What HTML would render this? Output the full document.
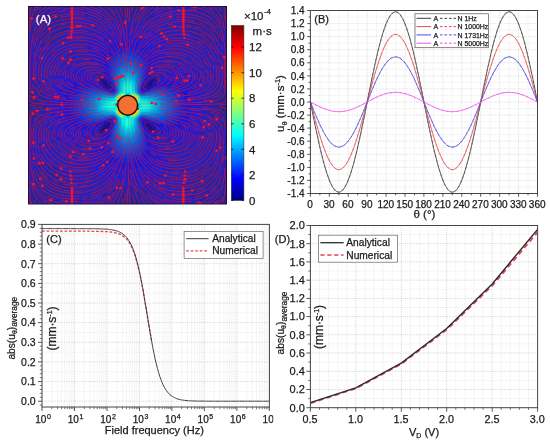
<!DOCTYPE html>
<html lang="en"><head><meta charset="utf-8"><title>Figure</title>
<style>html,body{margin:0;padding:0;background:#fff}svg{display:block}text{font-family:"Liberation Sans",Arial,sans-serif;fill:#1a1a1a;stroke:#1a1a1a;stroke-width:0.25px}</style></head>
<body>
<svg width="550" height="441" viewBox="0 0 550 441">
<rect width="550" height="441" fill="#fff"/>
<defs>
<clipPath id="cA"><rect x="28.5" y="6.5" width="198" height="197.5"/></clipPath>
<linearGradient id="jet" x1="0" y1="1" x2="0" y2="0"><stop offset="0%" stop-color="#00007f"/><stop offset="2.5%" stop-color="#000099"/><stop offset="5%" stop-color="#0000b2"/><stop offset="7.5%" stop-color="#0000cc"/><stop offset="10%" stop-color="#0000e5"/><stop offset="12.5%" stop-color="#0000ff"/><stop offset="15%" stop-color="#0019ff"/><stop offset="17.5%" stop-color="#0032ff"/><stop offset="20%" stop-color="#004cff"/><stop offset="22.5%" stop-color="#0065ff"/><stop offset="25%" stop-color="#007fff"/><stop offset="27.5%" stop-color="#0099ff"/><stop offset="30%" stop-color="#00b2ff"/><stop offset="32.5%" stop-color="#00ccff"/><stop offset="35%" stop-color="#00e5ff"/><stop offset="37.5%" stop-color="#00ffff"/><stop offset="40%" stop-color="#19ffe5"/><stop offset="42.5%" stop-color="#32ffcc"/><stop offset="45%" stop-color="#4cffb2"/><stop offset="47.5%" stop-color="#65ff99"/><stop offset="50%" stop-color="#7fff7f"/><stop offset="52.5%" stop-color="#99ff65"/><stop offset="55%" stop-color="#b2ff4c"/><stop offset="57.5%" stop-color="#cbff33"/><stop offset="60%" stop-color="#e5ff19"/><stop offset="62.5%" stop-color="#ffff00"/><stop offset="65%" stop-color="#ffe500"/><stop offset="67.5%" stop-color="#ffcb00"/><stop offset="70%" stop-color="#ffb200"/><stop offset="72.5%" stop-color="#ff9900"/><stop offset="75%" stop-color="#ff7f00"/><stop offset="77.5%" stop-color="#ff6500"/><stop offset="80%" stop-color="#ff4c00"/><stop offset="82.5%" stop-color="#ff3300"/><stop offset="85%" stop-color="#ff1900"/><stop offset="87.5%" stop-color="#ff0000"/><stop offset="90%" stop-color="#e50000"/><stop offset="92.5%" stop-color="#cb0000"/><stop offset="95%" stop-color="#b20000"/><stop offset="97.5%" stop-color="#990000"/><stop offset="100%" stop-color="#7f0000"/></linearGradient>
<filter id="bl" x="-5%" y="-5%" width="110%" height="110%"><feGaussianBlur stdDeviation="0.55"/></filter>
<filter id="bl2" x="-50%" y="-50%" width="200%" height="200%"><feGaussianBlur stdDeviation="1.3"/></filter>
<clipPath id="cB"><rect x="310.4" y="10.5" width="227.1" height="183"/></clipPath>
<clipPath id="cC"><rect x="42" y="224.4" width="227.4" height="182.6"/></clipPath>
<clipPath id="cD"><rect x="310.4" y="225.5" width="227.2" height="182"/></clipPath>
</defs>
<g clip-path="url(#cA)"><g filter="url(#bl)">
<rect x="26" y="4" width="203" height="203" fill="#0000a0"/>
<path d="M125 6.5L130.6 6.5L129.5 7.2L127.5 7.5L126 7.2L124.8 6.5ZM106 83.5L107.5 84.3L109 86.3L108.5 86.5L107.5 85.9L105.9 83.8ZM149 83.5L149.5 83.7L149.3 84.3L147 86.5L146.5 86.5L146.6 85.8L148.5 83.8ZM28.6 102.3L29.5 103.3L29.9 105.2L29.5 107.2L28.5 108.4L28.5 102.2ZM226.5 102.4L226.5 108.2L225.9 107.2L225.6 105.7L225.6 104.3L226.2 102.8ZM108.5 124.1L109 124.2L108.5 125.2L106.5 127L106 127.1L106.2 126.2L108.3 124.2ZM146.5 124.1L148 124.8L149.5 126.8L149 127.1L148 126.4L146.9 125.2L146.4 124.2ZM126 203.4L128.5 203.2L130.5 204L124.9 204L125.8 203.5Z" fill="#19157f" stroke="#19157f" stroke-width="0.6"/>
<path d="M29 6.5L32.7 6.5L36.2 8.5L38.7 11L39.7 13L39.7 15L38.5 16.7L36.5 17.4L35 17.2L33.5 16.4L31 13.9L28.5 9.4L28.5 6.5ZM117.5 6.7L117.8 6.5L124.8 6.5L126 7.2L128 7.4L129.5 7.2L130.6 6.5L137.6 6.5L138.7 7.5L139.2 9L138.7 10.5L137.3 12L134.5 13.5L131 14.5L127 14.7L123 14.2L119.5 12.9L117.1 11L116.2 9L116.5 8L117.2 7ZM222 6.9L222.7 6.5L226.5 6.5L226.5 10.3L224 14.4L222.5 16L221 16.9L219 17.4L217 16.8L215.9 15.5L215.6 13.5L216.3 11.5L217.5 10L219.2 8.5L221.7 7ZM103.5 80.6L105.5 81.5L108 83.8L109.9 86.3L110.2 87.3L110 87.8L108 87L105.4 84.8L103.4 82.3L103.2 80.8ZM105.9 83.8L107.5 85.9L108.5 86.5L109 86.3L107.5 84.3L106 83.5ZM151.5 80.7L152.2 80.8L152.3 81.3L151.3 83.3L148.4 86.3L146 87.8L145.4 87.8L145.2 87.3L146.2 85.3L148.5 82.7L151.2 80.8ZM148.5 83.8L146.6 85.8L146.5 86.5L147 86.5L149.3 84.3L149.5 83.7L149 83.5ZM30 94.3L31 93.9L32 93.9L34 95.3L35.9 98.3L36.9 102.3L37.1 106.2L36.5 110.2L35.2 113.7L33.5 115.9L32 116.7L31 116.7L29.5 115.9L28.5 114.6L28.5 108.4L29.5 107.2L29.9 105.2L29.5 103.3L28.5 102.2L28.5 96L30 94.3ZM223 94.1L224 93.8L225 94L226.5 95.4L226.5 102.4L225.8 103.8L225.5 105.2L225.7 106.7L226.5 108.2L226.5 115.2L225 116.6L224 116.8L223 116.5L220.9 114.7L219.3 111.7L218.4 107.7L218.3 103.8L219 99.8L220.5 96.4L222.6 94.3ZM109 123L110 122.8L110.2 123.2L109.3 125.2L107 127.8L104.5 129.7L103.5 129.9L103.1 129.7L103.5 128.2L105.5 125.7L108.6 123.2ZM108.3 124.2L106.2 126.2L106 127.1L106.5 127L108.5 125.2L109 124.2L108.5 124.1ZM145.5 122.8L147.5 123.6L149.9 125.7L151.9 128.2L152.3 129.7L152 129.9L151 129.7L148.5 127.9L146.1 125.2L145.2 123.2ZM146.4 124.2L146.9 125.2L148 126.4L149 127.1L149.5 126.8L148 124.8L146.5 124.1ZM35 193.4L37 193.2L38.7 194L39.6 195.5L39.7 197.5L38.8 199.5L37.5 201L35.6 202.5L32.9 204L28.5 204L28.5 201.2L30 198.2L31.5 196L33 194.5L34.7 193.5ZM218 193.3L219.5 193.2L221 193.7L222.5 194.6L224 196.2L226.5 200.3L226.5 204L222.5 204L219.1 202L217 200L216 198.5L215.6 196.5L216 195L217.5 193.5ZM125.5 196L128.5 195.9L131.5 196.2L134 196.9L136.5 198L138.3 199.5L139.1 201L139 202.5L137.8 204L130.5 204L129 203.3L127.5 203.1L126 203.4L124.9 204L117.6 204L116.7 203L116.3 202L116.3 201L117.1 199.5L118.5 198.3L120.5 197.2L125 196Z" fill="#2a2393" stroke="#2a2393" stroke-width="0.6"/>
<path d="M33 6.5L41.6 6.5L50.3 8.5L56.5 10.5L61.1 12.5L64.3 14.5L66.8 17L68.1 19.5L68.4 21.5L68.4 23.5L67.2 27.9L64.9 32.9L61.6 37.4L58 40.7L53.5 43.5L48.5 45.4L44.5 46.1L42.5 45.9L40.5 45.1L38.5 43.7L37 42.1L34 36.9L31.5 30L28.5 17.1L28.5 9.4L30 12.4L31.5 14.6L33 16.1L34.5 17L36.5 17.4L38.1 17L39.5 15.5L39.8 14L39.3 12L37.9 10L35.4 8L32.7 6.5ZM109.5 6.9L110.5 6.5L117.8 6.5L116.7 7.5L116.2 9L116.7 10.5L118 11.9L119.6 13L122 13.9L127.5 14.8L133 14.1L135.5 13.1L137.3 12L138.7 10.5L139.2 9L138.7 7.5L137.6 6.5L144.9 6.5L147.6 7.5L150.5 9L152.3 10.5L153.2 12L153.4 14L152.5 15.7L150.6 17.5L147.5 19.2L144 20.5L136 22.3L126.5 22.8L117.4 22L109.5 19.9L106.4 18.5L104.2 17L102.7 15.5L101.9 13.5L102.4 11.5L103.6 10L105.7 8.5L109 7ZM211.5 7L213.8 6.5L222.7 6.5L218.6 9L217 10.5L216.1 12L215.6 13.5L215.7 15L216.6 16.5L218 17.3L220 17.3L222.5 16L224.5 13.8L226.5 10.3L226.5 19.2L224.5 27.9L222 35.5L220 39.6L217.5 43.1L215 45.1L212.5 45.9L209 45.9L204.5 44.6L199.5 42.1L195.5 39.1L192.5 35.9L189.7 31.4L187.7 26.4L187 22.5L187.2 20L188.2 17.5L189.9 15.5L192.6 13.5L196.4 11.5L200.2 10L211.3 7ZM98 75.7L99 75.4L101 76.2L105.5 79.9L110.3 85.8L111.3 87.8L111.1 88.8L110 88.8L108 87.8L102.5 83.3L98.7 78.8L97.8 76.8L97.9 75.8ZM103.2 80.8L103.4 82.3L105.4 84.8L108 87L110 87.8L110.2 87.3L109.9 86.3L108 83.8L105.5 81.5L103.5 80.6ZM155.5 75.7L157 75.5L157.6 76.3L157.2 77.8L156 79.8L151.3 84.8L148.2 87.3L146 88.6L144.5 88.9L144.1 88.3L144.5 86.8L146 84.4L150.5 79.3L153 77.1L155.1 75.8ZM151.2 80.8L148.5 82.7L146.2 85.3L145.2 87.3L145.4 87.8L146 87.8L148.4 86.3L151.3 83.3L152.3 81.3L152.2 80.8L151.5 80.7ZM34.5 79.7L36.5 79.6L38 80.4L39.8 82.3L41.5 85.3L42.9 88.8L44 93.1L45.1 102.3L44.9 111.7L44.3 116.2L43.2 120.7L42 124.2L40.5 127.2L39 129.3L37 130.8L35.5 131.1L34.5 130.9L32.5 129.5L30.5 126.5L28.5 121.1L28.5 114.6L29.5 115.9L31 116.7L32 116.7L33.5 115.9L34.5 114.7L35.7 112.7L36.9 108.2L37.1 104.8L36.9 101.8L36.1 98.8L34.8 96.3L33 94.4L31.5 93.8L30 94.3L28.5 96L28.5 89.5L29.5 86.4L31.5 82.4L33 80.6L34.3 79.8ZM218.5 79.8L220 79.5L221 79.8L223 81.2L225 84.3L226.5 88.1L226.5 95.4L225.5 94.3L224.5 93.9L223 94.1L221.9 94.8L220.6 96.3L219.5 98.3L218.4 102.8L218.3 106.2L218.6 109.2L219.3 111.7L220.5 114.2L222 115.9L223.5 116.7L225 116.6L226.5 115.2L226.5 122.5L226 124L225 126.3L223.5 128.8L222.5 129.9L221 130.8L219 131L217.5 130.3L215.5 128.2L214 125.6L212.7 122.2L211.5 118L210.3 108.7L210.5 99.3L211.1 94.8L212.1 90.3L213.4 86.3L215 83.2L216.5 81.2L218.4 79.8ZM110.5 121.7L111 121.7L111.3 122.2L110.9 123.7L107.5 128.6L102.5 133.4L100.5 134.7L99 135.2L98 134.9L97.9 133.7L98.8 131.7L100.3 129.7L103.1 126.7L106 124.2L108.5 122.5L110.3 121.7ZM108.6 123.2L105.5 125.7L103.5 128.2L103.1 129.7L103.5 129.9L104.5 129.7L107 127.8L109.3 125.2L110.2 123.2L110 122.8L109 123ZM144.5 121.7L146 122L148.5 123.5L154.3 128.7L156.3 131.2L157.4 133.2L157.5 134.7L157 135.2L155.5 134.9L153.5 133.8L149 129.8L144.7 124.2L144.1 122.7L144.5 121.7ZM145.2 123.2L146.1 125.2L148.5 127.9L151 129.7L152 129.9L152.3 129.7L151.9 128.2L149.9 125.7L147.5 123.6L145.5 122.8ZM43.5 164.6L47.5 164.9L52 166.4L56.5 168.8L60.6 172.1L63.5 175.6L66.1 180.1L68 185L68.4 189L68 191.5L66.9 193.5L65.1 195.5L62.2 197.5L58.1 199.5L54 201L42.1 204L32.9 204L35.6 202.5L37.5 201L38.8 199.5L39.6 198L39.8 196.5L39.4 195L38.5 193.9L37 193.2L35 193.4L32.5 195L30.5 197.4L28.5 201.2L28.5 193.5L31.5 180.6L33 176.2L35 171.7L37 168.5L39 166.4L41 165.2L43.4 164.6ZM210 164.6L212 164.6L214 165.1L216 166.1L217.5 167.5L220.5 171.9L223.5 179.3L226.5 191.4L226.5 200.3L225 197.6L223.5 195.6L222 194.2L220.5 193.5L218.5 193.2L217 193.8L216 195L215.6 196.5L216 198.5L217.4 200.5L219.8 202.5L222.5 204L213.3 204L204.7 202L198.6 200L194.1 198L191 196L188.5 193.5L187.3 191L187 187.5L188 183.1L190.3 178.1L193.4 173.6L197 170.2L201 167.6L205.5 165.6L209.9 164.6ZM122.5 188L130.5 187.9L138.5 188.7L145.4 190.5L150.4 193L152.2 194.5L153.2 196L153.5 197.5L153 199L151.9 200.5L150.6 201.5L147.9 203L145.2 204L137.8 204L138.7 203L139.2 201.5L138.6 200L137.8 199L136 197.7L134 196.9L129 195.9L126 195.9L123 196.4L120.5 197.2L118.5 198.3L117.1 199.5L116.3 201L116.4 202.5L117.6 204L110.2 204L107.5 203L104.8 201.5L102.7 199.5L101.9 197.5L102.5 195.5L104.3 193.5L107.5 191.6L111.5 190L116.5 188.8L122.1 188Z" fill="#2822a6" stroke="#2822a6" stroke-width="0.6"/>
<path d="M42 6.5L53.6 6.5L71 8.2L80.5 8.6L89 8.2L101.3 6.5L110.5 6.5L105.7 8.5L102.7 11L102.2 12L101.9 13.5L102.4 15L103.6 16.5L107.4 19L113 21L120 22.3L127.5 22.8L135 22.4L142 21.1L148 19L151.8 16.5L152.7 15.5L153.4 14L153.4 12.5L152.7 11L149.7 8.5L144.9 6.5L154.1 6.5L166.5 8.2L175 8.6L184.5 8.2L201.8 6.5L213.8 6.5L203.3 9L198.9 10.5L194.3 12.5L191.1 14.5L189 16.5L187.7 18.5L187 21L187.3 25L188.8 29.4L191.1 33.9L194 37.7L197.5 40.8L201.5 43.3L206 45.2L210 46L213 45.8L215.5 44.8L217.5 43.1L219.5 40.5L221.5 36.6L223.5 31.3L226.5 19.2L226.5 31.2L224.8 48.4L224.4 57.9L224.8 66.8L226.5 78.9L226.5 88.1L224.5 83.3L222 80.3L220.5 79.6L219 79.6L217.5 80.3L216.5 81.2L214 85L211.9 90.8L210.6 97.8L210.2 105.2L210.6 112.7L211.9 119.7L214 125.6L216.5 129.4L217.5 130.3L219 131L220.5 131L222 130.3L224.5 127.3L226.5 122.5L226.5 131.7L224.8 144.2L224.4 152.6L224.8 162.1L226.5 179.4L226.5 191.4L224 180.9L222.5 176.4L220.5 171.9L218.5 168.7L216.5 166.5L214.5 165.3L212 164.6L208.5 164.8L204 166.2L199.5 168.5L195.5 171.5L192.2 175.1L189.8 179.1L187.9 183.6L187 187.5L187.1 190.5L188.2 193L189.8 195L192.4 197L196.2 199L201.4 201L213.3 204L200.8 204L184 202.3L175 202L166.5 202.4L154.8 204L145.2 204L149.8 202L152.7 199.5L153.4 198L153.4 196.5L152.6 195L151.7 194L147.8 191.5L142 189.5L135 188.2L127.5 187.8L120 188.3L113.2 189.5L107.6 191.5L103.7 194L102.5 195.5L102 196.7L102 198L102.7 199.5L105.6 202L110.2 204L100.6 204L88.5 202.3L80.5 202L71.5 202.3L54.6 204L42.1 204L52.4 201.5L56.8 200L61.3 198L64.4 196L66.5 194L67.8 192L68.4 189.5L68.2 186L66.8 181.6L64.5 177L61.5 173L58 169.9L54 167.4L49 165.3L45 164.6L42.5 164.7L40 165.7L37.5 167.9L35.5 170.8L33.5 174.9L31.5 180.6L28.5 193.5L28.5 183.4L30.6 162.1L31 152.6L30.6 144.2L28.5 129L28.5 121.1L30.5 126.5L33 130L34 130.7L35.5 131.1L37 130.8L38.5 129.8L41.1 126.2L43.4 120.2L44.7 113.2L45.2 105.2L44.7 97.3L43.3 90.3L41 84.3L38.5 80.8L37 79.8L35.5 79.5L34 79.9L33 80.6L30.5 84.1L28.5 89.5L28.5 81.6L30.6 66.8L31 57.9L30.6 48.4L28.5 27.2L28.5 17.1L31 28.3L32.5 33.1L34.5 37.9L36.5 41.4L38.5 43.7L40.5 45.1L43 45.9L47 45.8L51.5 44.4L56 42.1L60 39.1L63 35.8L65.7 31.4L67.6 26.9L68.4 23L68.2 20L67.2 17.5L65.5 15.5L62.8 13.5L59 11.5L53.7 9.5L41.6 6.5ZM115.5 30.4L109 31L104 31.8L99.5 33.2L96 35.1L93 37.6L90.7 40.9L89.2 44.4L88.6 48.4L88.6 51.4L89.1 53.9L91.2 59.4L94.6 64.4L104.5 76.6L109.5 83.3L112 87.6L112.3 88.8L112 89.6L111 89.9L110 89.6L106 87.3L99.2 82.3L86 71.6L82.5 69.2L79.5 67.7L75.5 66.5L71 66.2L66.5 66.9L62.5 68.7L59.3 71.3L56.7 74.8L54.8 79.3L53.6 84.8L52.8 93.3L52.6 105.7L52.9 117.7L53.7 126.2L54.6 130.7L55.9 134.2L57.6 137.2L60 140L63 142.2L66 143.5L69.5 144.3L73.5 144.4L78 143.4L83 141.1L87.5 137.9L98.7 128.7L105.4 123.7L110 121L111 120.7L112 121L112.3 121.7L111.9 123.2L109.5 127.3L104.5 134L94.3 146.6L91.9 150.1L90.3 153.1L89 157.1L88.5 161.1L89 165.1L90.1 168.6L92.2 172.1L95.3 175.1L99 177.2L104 178.8L110 179.7L117.5 180.2L129 180.4L139.5 180.2L146 179.7L151.5 178.8L156 177.3L159.3 175.6L162.5 172.8L164.8 169.6L166.2 166.1L166.8 162.1L166.8 159.1L166.2 156.1L163.8 150.6L160.8 146.1L151.5 134.8L146 127.5L143.5 123.2L143.2 121.2L144 120.7L145 120.9L149.3 123.2L156.7 128.7L169.5 139.1L173 141.4L176 142.9L180.5 144.2L184.5 144.4L189 143.6L193 141.8L196.2 139.2L198.7 135.7L200.6 131.2L201.8 125.7L202.6 117.2L202.8 104.8L202.5 92.8L201.7 84.3L200.7 79.8L199.5 76.3L197.7 73.3L195.5 70.7L192.5 68.5L189.5 67.1L186 66.3L182 66.2L177.5 67.1L172.5 69.5L168 72.7L156.8 81.8L150.2 86.8L146 89.3L144.5 89.9L143.5 89.7L143.1 88.8L143.3 87.8L145.5 83.9L150.5 77.1L161.2 63.9L163.6 60.4L165.2 57.4L166.5 53.4L166.9 49.4L166.4 45.4L165.2 41.9L163.1 38.4L160 35.5L156 33.3L151.5 31.8L145.5 30.9L138 30.4L126.5 30.2L116 30.4ZM97.9 75.8L97.8 76.8L98.7 78.8L102.5 83.3L108 87.8L110 88.8L111.1 88.8L111.3 87.8L110.3 85.8L105.5 79.9L101 76.2L99 75.4L98 75.7ZM155.1 75.8L153 77.1L150.5 79.3L146 84.4L144.5 86.8L144.1 88.3L144.5 88.9L146 88.6L148.2 87.3L151.3 84.8L156 79.8L157.2 77.8L157.6 76.3L157 75.5L155.5 75.7ZM110.3 121.7L108.5 122.5L106 124.2L103.1 126.7L100.3 129.7L98.8 131.7L97.9 133.7L98 134.9L99 135.2L100.5 134.7L102.5 133.4L107.5 128.6L110.9 123.7L111.3 122.2L111 121.7L110.5 121.7ZM144.5 121.7L144.1 122.7L144.7 124.2L149 129.8L153.5 133.8L155.5 134.9L157 135.2L157.5 134.7L157.4 133.2L156.3 131.2L154.3 128.7L148.5 123.5L146 122L144.5 121.7ZM118 105.1L118.2 105.2L118 105.5L117.8 105.2Z" fill="#2620b9" stroke="#2620b9" stroke-width="0.6"/>
<path d="M54 6.5L101.3 6.5L89 8.2L80.5 8.6L71 8.2L53.6 6.5ZM154.5 6.5L201.8 6.5L184.5 8.2L175 8.6L166.5 8.2L154.1 6.5ZM28.5 27.4L30.6 48.4L31 57.9L30.6 66.8L28.5 81.6L28.9 56.4L28.5 27.2ZM116 30.4L126.5 30.2L138 30.4L145.5 30.9L151.5 31.8L156 33.3L160 35.5L163.1 38.4L165.2 41.9L166.4 45.4L166.9 49.4L166.5 53.4L165.2 57.4L163.6 60.4L161.2 63.9L150.5 77.1L145.5 83.9L143.3 87.8L143.1 88.8L143.5 89.7L144.5 89.9L146 89.3L150.2 86.8L156.8 81.8L168 72.7L172.5 69.5L177.5 67.1L182 66.2L186 66.3L189.5 67.1L192.5 68.5L195.5 70.7L197.7 73.3L199.5 76.3L200.7 79.8L201.7 84.3L202.5 92.8L202.8 104.8L202.6 117.2L201.8 125.7L200.6 131.2L198.7 135.7L196.2 139.2L193 141.8L189 143.6L184.5 144.4L180.5 144.2L176 142.9L173 141.4L169.5 139.1L156.7 128.7L149.3 123.2L145 120.9L144 120.7L143.2 121.2L143.5 123.2L146 127.5L151.5 134.8L160.8 146.1L163.8 150.6L166.2 156.1L166.8 159.1L166.8 162.1L166.2 166.1L164.8 169.6L162.5 172.8L159.3 175.6L156 177.3L151.5 178.8L146 179.7L139.5 180.2L129 180.4L117.5 180.2L110 179.7L104 178.8L99 177.2L95.3 175.1L92.2 172.1L90.1 168.6L89 165.1L88.5 161.1L89 157.1L90.3 153.1L91.9 150.1L94.3 146.6L104.5 134L109.5 127.3L111.9 123.2L112.3 121.7L112 121L111 120.7L110 121L105.4 123.7L98.7 128.7L87.5 137.9L83 141.1L78 143.4L73.5 144.4L69.5 144.3L66 143.5L63 142.2L60 140L57.6 137.2L55.9 134.2L54.6 130.7L53.7 126.2L52.9 117.7L52.6 105.7L52.8 93.3L53.6 84.8L54.8 79.3L56.7 74.8L59.3 71.3L62.5 68.7L66.5 66.9L71 66.2L75.5 66.5L79.5 67.7L82.5 69.2L86 71.6L99.2 82.3L106 87.3L110 89.6L111 89.9L112 89.6L112.3 88.8L112 87.6L109.5 83.3L104.5 76.6L94.6 64.4L91.2 59.4L89.1 53.9L88.6 51.4L88.6 48.4L89.2 44.4L90.7 40.9L93 37.6L96 35.1L99.5 33.2L104 31.8L109 31L115.5 30.4ZM122.2 36.9L117.5 37.6L113 38.7L109.5 40L106.2 41.9L103.5 44.2L101.5 46.8L100 49.9L99.2 52.9L99 55.9L99.1 58.9L100.8 65.4L104.2 72.8L112.4 86.8L113.1 88.8L112.9 90.3L111.5 90.7L109 89.9L94.5 81.5L90 79.3L86 77.8L82 76.9L78.5 76.6L75 76.9L72 77.7L68.9 79.3L65.9 81.8L63.7 84.8L61.7 88.8L60.4 93.3L59.4 98.8L59.1 104.3L59.3 110.2L59.8 114.7L60.8 119.2L62.3 123.2L64 126.3L66 128.8L68.7 131.2L71.5 132.7L75 133.7L78 134L81 133.9L87.5 132.3L95 128.9L109 120.7L111.5 119.9L112.8 120.2L113.1 121.7L112.4 123.7L103.8 138.7L101.6 143.2L100.2 147.1L99.2 151.1L99 154.6L99.3 158.1L100.1 161.1L102 164.5L104.5 167.3L107.7 169.6L111.5 171.4L116 172.7L121.5 173.6L127 173.9L133 173.7L138 173L142 172L145.8 170.6L149 168.8L151.7 166.6L153.7 164.1L155.3 161.1L156.1 158.1L156.4 155.1L156.3 152.1L154.7 145.6L151.4 138.2L143 123.7L142.3 121.7L142.6 120.2L144 119.9L146.3 120.7L161.5 129.5L169.5 132.8L173 133.7L176.5 134L180 133.8L183 133.1L186 131.6L189.1 129.2L191.5 126.1L193.5 122.2L195 117.7L195.9 112.7L196.3 106.7L196.2 100.8L195.6 95.8L194.5 91.3L193 87.3L191.4 84.3L189 81.3L186.5 79.3L183.5 77.7L180.5 76.9L177.5 76.6L174.5 76.7L168 78.3L160.5 81.7L146.5 89.8L144 90.7L142.5 90.3L142.3 88.8L143 86.8L151.7 71.8L155.1 63.9L156.1 59.9L156.4 56.4L156.2 52.9L155.4 49.9L154 46.9L151.5 43.8L148.4 41.4L144.4 39.4L140 38L134.5 37.1L128.5 36.7L122.5 36.9ZM226.5 31.2L226.5 78.9L224.8 66.8L224.4 57.9L224.8 48.4L226.5 31.4ZM127.5 95.5L128 95.8L127.4 95.8ZM118 105L118.3 105.2L118 105.6L117.7 105.2ZM117.8 105.2L118 105.5L118.2 105.2L118 105.1ZM137.5 105.1L137.5 105.5L137.1 105.2ZM28.5 129.2L30.6 144.2L31 152.6L30.6 162.1L28.5 183.4L28.9 154.1L28.5 129ZM226.5 131.7L226.5 179.4L224.8 162.1L224.4 152.6L224.8 144.2L226.4 132.2ZM78 202L88 202.3L100.6 204L54.6 204L68 202.6L77.5 202ZM172.5 202L183 202.3L200.8 204L154.8 204L164 202.7L172.4 202Z" fill="#231dcb" stroke="#231dcb" stroke-width="0.6"/>
<path d="M122.5 36.9L128.5 36.7L134.5 37.1L140 38L144.4 39.4L148.4 41.4L151.5 43.8L154 46.9L155.4 49.9L156.2 52.9L156.4 56.4L156.1 59.9L155.1 63.9L151.7 71.8L143 86.8L142.3 88.8L142.5 90.3L144 90.7L146.5 89.8L160.5 81.7L168 78.3L174.5 76.7L177.5 76.6L180.5 76.9L183.5 77.7L186.5 79.3L189 81.3L191.4 84.3L193 87.3L194.5 91.3L195.6 95.8L196.2 100.8L196.3 106.7L195.9 112.7L195 117.7L193.5 122.2L191.5 126.1L189.1 129.2L186 131.6L183 133.1L180 133.8L176.5 134L173 133.7L169.5 132.8L161.5 129.5L146.3 120.7L144 119.9L142.6 120.2L142.3 121.7L143 123.7L151.4 138.2L154.7 145.6L156.3 152.1L156.4 155.1L156.1 158.1L155.3 161.1L153.7 164.1L151.7 166.6L149 168.8L145.8 170.6L142 172L138 173L133 173.7L127 173.9L121.5 173.6L116 172.7L111.5 171.4L107.7 169.6L104.5 167.3L102 164.5L100.1 161.1L99.3 158.1L99 154.6L99.2 151.1L100.2 147.1L101.6 143.2L103.8 138.7L112.4 123.7L113.1 121.7L112.8 120.2L111.5 119.9L109 120.7L95 128.9L87.5 132.3L81 133.9L78 134L75 133.7L71.5 132.7L68.7 131.2L66 128.8L64 126.3L62.3 123.2L60.8 119.2L59.8 114.7L59.3 110.2L59.1 104.3L59.4 98.8L60.4 93.3L61.7 88.8L63.7 84.8L65.9 81.8L68.9 79.3L72 77.7L75 76.9L78.5 76.6L82 76.9L86 77.8L90 79.3L94.5 81.5L109 89.9L111.5 90.7L112.9 90.3L113.1 88.8L112.4 86.8L104.2 72.8L100.8 65.4L99.1 58.9L99 55.9L99.2 52.9L100 49.9L101.5 46.8L103.5 44.2L106.2 41.9L109.5 40L113 38.7L117.5 37.6L122.2 36.9ZM125.8 42.4L122 42.8L118.5 43.6L115 44.9L112 46.5L109.5 48.4L107.3 50.9L105.8 53.4L104.7 56.4L104.1 61.9L105 68.3L107.4 75.3L113.5 87.8L113.9 89.8L113.5 91L112 91.5L110 91L98 85.1L90.5 82.5L84 81.7L81 81.9L78 82.5L75 83.8L72.5 85.5L70.2 87.8L68.2 90.8L66.6 94.3L65.6 97.8L64.9 101.8L64.8 106.2L65.1 110.2L65.9 114.2L67.1 117.7L68.7 120.7L70.6 123.2L73 125.5L75.5 127.1L78.5 128.2L84 128.9L90.5 128.1L98 125.5L110 119.6L112 119.1L113.5 119.6L113.9 120.7L113.5 122.7L107.5 135.2L104.9 142.7L104.1 149.1L104.3 152.1L105 155.1L106.3 158.1L108 160.6L110.5 163L113.5 165L117 166.5L121 167.6L125 168.1L129.5 168.2L133.5 167.8L137 167L140.5 165.7L143.5 164.1L146 162.1L148.2 159.6L149.6 157.1L150.7 154.1L151.3 148.6L150.4 142.2L147.7 134.7L142 123L141.5 120.7L142 119.5L143.5 119.1L145.5 119.7L157.5 125.5L165 128.1L171.5 128.9L174.5 128.7L177.5 128L180.5 126.7L183 125L185.3 122.7L187.3 119.7L188.9 116.2L189.9 112.7L190.5 108.7L190.6 104.3L190.3 100.3L189.5 96.3L188.2 92.8L186.6 89.8L184.5 87L182 84.8L179.5 83.4L176.5 82.3L171 81.7L164.5 82.6L157.5 85.1L145.5 90.9L143.5 91.5L142 91.1L141.5 89.8L141.9 87.8L148 75.3L150.5 67.8L151.3 61.4L151.1 58.4L150.4 55.4L149.1 52.4L147.3 49.9L145 47.6L142 45.6L138.5 44.1L134.5 43L130.5 42.5L126 42.4ZM28.5 42.4L28.9 56.9L28.5 69.4L28.5 42.3ZM127.5 95.4L128.1 95.8L127.3 95.8ZM127.4 95.8L128 95.8L127.5 95.5ZM118 104.9L118.4 105.2L118 105.7L117.7 105.2ZM117.7 105.2L118 105.6L118.3 105.2L118 105ZM137 105.2L137.5 105L137.7 105.2L137.5 105.6L137 105.2ZM137.1 105.2L137.5 105.5L137.5 105.1ZM127.5 114.6L128 114.7L127.8 115.2L127.4 115.2L127.4 114.7ZM28.5 141.7L28.9 154.1L28.5 168.3L28.5 141.2Z" fill="#201bd1" stroke="#201bd1" stroke-width="0.6"/>
<path d="M126 42.4L130.5 42.5L134.5 43L138.5 44.1L142 45.6L145 47.6L147.3 49.9L149.1 52.4L150.4 55.4L151.1 58.4L151.3 61.4L150.5 67.8L148 75.3L141.9 87.8L141.5 89.8L142 91.1L143.5 91.5L145.5 90.9L157.5 85.1L164.5 82.6L171 81.7L176.5 82.3L179.5 83.4L182 84.8L184.5 87L186.6 89.8L188.2 92.8L189.5 96.3L190.3 100.3L190.6 104.3L190.5 108.7L189.9 112.7L188.9 116.2L187.3 119.7L185.3 122.7L183 125L180.5 126.7L177.5 128L174.5 128.7L171.5 128.9L165 128.1L157.5 125.5L145.5 119.7L143.5 119.1L142 119.5L141.5 120.7L142 123L147.7 134.7L150.4 142.2L151.3 148.6L150.7 154.1L149.6 157.1L148.2 159.6L146 162.1L143.5 164.1L140.5 165.7L137 167L133.5 167.8L129.5 168.2L125 168.1L121 167.6L117 166.5L113.5 165L110.5 163L108 160.6L106.3 158.1L105 155.1L104.3 152.1L104.1 149.1L104.9 142.7L107.5 135.2L113.5 122.7L113.9 120.7L113.5 119.6L112 119.1L110 119.6L98 125.5L90.5 128.1L84 128.9L78.5 128.2L75.5 127.1L73 125.5L70.6 123.2L68.7 120.7L67.1 117.7L65.9 114.2L65.1 110.2L64.8 106.2L64.9 101.8L65.6 97.8L66.6 94.3L68.2 90.8L70.2 87.8L72.5 85.5L75 83.8L78 82.5L81 81.9L84 81.7L90.5 82.5L98 85.1L110 91L112 91.5L113.5 91L113.9 89.8L113.5 87.8L107.4 75.3L105 68.3L104.1 61.9L104.7 56.4L105.8 53.4L107.3 50.9L109.5 48.4L112 46.5L115 44.9L118.5 43.6L122 42.8L125.8 42.4ZM126.3 47.4L123 47.8L120 48.5L117 49.8L114.5 51.3L112.5 52.9L110.5 55.3L109 57.9L108.1 60.4L107.4 65.4L107.9 70.8L109.7 77.3L114.3 88.3L114.6 90.3L114 91.6L112.5 92.2L110.5 91.8L99.5 87.2L93 85.4L87 85L82 86L79 87.3L76.8 88.8L74.7 90.8L72.9 93.3L71.4 96.3L70.5 99.3L69.9 102.3L69.8 105.7L70.1 109.2L70.7 112.2L71.8 115.2L73.5 118.2L75.5 120.7L77.5 122.4L80 123.8L82.5 124.8L87.5 125.6L93 125.2L99.5 123.4L110.7 118.7L112.5 118.4L114 119L114.6 120.2L114.3 122.2L109.7 133.2L107.8 140.2L107.4 146.1L108.4 151.1L109.7 154.1L111.5 156.6L113.5 158.6L116 160.3L119 161.7L122 162.6L125.5 163.2L129 163.2L132.5 162.8L135.5 162L138.5 160.8L141 159.3L143 157.6L145 155.2L146.4 152.6L147.3 150.1L148 145.1L147.5 139.7L145.7 133.2L141.1 122.2L140.8 120.2L141.5 118.9L143 118.4L144.7 118.7L155.5 123.2L162 125.1L168 125.6L173.2 124.7L176 123.5L178.5 121.9L180.5 120L182.3 117.7L183.8 114.7L184.8 111.7L185.5 108.2L185.6 104.8L185.3 101.3L184.7 98.3L183.6 95.3L182 92.5L180.2 90.3L178 88.3L175.5 86.8L173 85.8L168 85L162 85.5L155.5 87.4L145 91.8L143 92.2L141.5 91.7L140.8 90.3L141.1 88.3L145.7 77.3L147.6 70.3L148 64.4L147 59.4L145.6 56.4L144 54.1L142 52.1L139.5 50.4L136.5 48.9L133.5 48L130 47.5L126.5 47.4ZM127.5 95.2L128 95.3L128 95.9L127.2 95.8L127.4 95.3ZM127.3 95.8L128.1 95.8L127.5 95.4ZM118 104.8L118.5 105.3L118 105.7L117.6 105.2ZM117.7 105.2L118 105.7L118.4 105.2L118 104.9ZM137 105.1L137.5 104.9L137.8 105.2L137.5 105.7L136.9 105.2ZM137 105.2L137.5 105.6L137.7 105.2L137.5 105L137 105.2ZM127.5 114.6L128.1 114.7L128 115.3L127.5 115.4L127.3 114.7ZM127.4 114.7L127.4 115.2L127.8 115.2L128 114.7L127.5 114.6Z" fill="#1d18d2" stroke="#1d18d2" stroke-width="0.6"/>
<path d="M126.5 47.4L130 47.5L133.5 48L136.5 48.9L139.5 50.4L142 52.1L144 54.1L145.6 56.4L147 59.4L148 64.4L147.6 70.3L145.7 77.3L141.1 88.3L140.8 90.3L141.5 91.7L143 92.2L145 91.8L155.5 87.4L162 85.5L168 85L173 85.8L175.5 86.8L178 88.3L180.2 90.3L182 92.5L183.6 95.3L184.7 98.3L185.3 101.3L185.6 104.8L185.5 108.2L184.8 111.7L183.8 114.7L182.3 117.7L180.5 120L178.5 121.9L176 123.5L173.2 124.7L168 125.6L162 125.1L155.5 123.2L144.7 118.7L143 118.4L141.5 118.9L140.8 120.2L141.1 122.2L145.7 133.2L147.5 139.7L148 145.1L147.3 150.1L146.4 152.6L145 155.2L143 157.6L141 159.3L138.5 160.8L135.5 162L132.5 162.8L129 163.2L125.5 163.2L122 162.6L119 161.7L116 160.3L113.5 158.6L111.5 156.6L109.7 154.1L108.4 151.1L107.4 146.1L107.8 140.2L109.7 133.2L114.3 122.2L114.6 120.2L114 119L112.5 118.4L110.7 118.7L99.5 123.4L93 125.2L87.5 125.6L82.5 124.8L80 123.8L77.5 122.4L75.5 120.7L73.5 118.2L71.8 115.2L70.7 112.2L70.1 109.2L69.8 105.7L69.9 102.3L70.5 99.3L71.4 96.3L72.9 93.3L74.7 90.8L76.8 88.8L79 87.3L82 86L87 85L93 85.4L99.5 87.2L110.5 91.8L112.5 92.2L114 91.6L114.6 90.3L114.3 88.3L109.7 77.3L107.9 70.8L107.4 65.4L108.1 60.4L109 57.9L110.5 55.3L112.5 52.9L114.5 51.3L117 49.8L120 48.5L123 47.8L126.3 47.4ZM125.6 51.9L120.5 53.1L116 55.7L114.2 57.4L112.6 59.4L110.6 63.9L109.9 68.3L110.1 72.8L111.5 78.8L115 88.8L115.2 90.8L114.5 92.2L113.2 92.8L111.5 92.7L101 89L95 87.7L90 87.6L85.5 88.5L83 89.5L80.5 91.2L78.5 93.1L77 95.1L75.6 97.8L74.8 100.3L74.3 103.3L74.2 106.2L75.2 111.7L76.3 114.2L77.9 116.7L79.7 118.7L81.5 120.2L86 122.3L90.5 123.1L95.5 122.8L101.5 121.4L111 118L113 117.8L114.5 118.4L115.2 119.7L115.1 121.7L111.4 132.2L110.1 138.2L110 143.7L111.1 148.1L112.3 150.6L114 153L116 154.9L118 156.3L120.5 157.5L123.5 158.4L126.5 158.8L129.5 158.7L132.5 158.3L135 157.5L139.5 154.8L142.8 151.1L144.8 146.6L145.5 142.2L145.3 137.7L143.9 131.7L140.3 121.7L140.2 119.7L141 118.3L142.5 117.8L144 117.9L154 121.5L160 122.9L165.5 123L170 122.1L172.5 121L174.5 119.7L176.5 118L178.3 115.7L179.6 113.2L180.5 110.7L181.1 107.7L181.2 104.8L180.3 99.3L179.3 96.8L177.8 94.3L176.2 92.3L174 90.5L169.5 88.3L165 87.5L160 87.7L154 89.1L144 92.7L142.2 92.8L141 92.3L140.2 90.8L140.4 88.8L144.1 78.3L145.3 72.3L145.4 66.8L144.3 62.4L143.1 59.9L141.5 57.7L139.6 55.9L137.5 54.4L135 53.1L132 52.2L129 51.8L126 51.9ZM127.5 95.1L128.1 95.3L128 96L127.5 96.1L127.2 95.8L127.3 95.3ZM127.4 95.3L127.2 95.8L128 95.9L128 95.3L127.5 95.2ZM117.5 105.2L118 104.8L118.5 105.4L118 105.9L117.5 105.2ZM117.6 105.2L118 105.7L118.5 105.2L118 104.8ZM137 105L137.5 104.8L137.9 105.2L137.7 105.7L137 105.6L136.8 105.2ZM136.9 105.2L137.5 105.7L137.8 105.2L137.5 104.9L137 105.1ZM127.5 114.5L128.2 114.7L128 115.4L127.5 115.5L127.2 114.7ZM127.3 114.7L127.5 115.4L128 115.3L128.1 114.7L127.5 114.6Z" fill="#1a21d4" stroke="#1a21d4" stroke-width="0.6"/>
<path d="M126 51.9L129 51.8L132 52.2L135 53.1L137.5 54.4L139.6 55.9L141.5 57.7L143.1 59.9L144.3 62.4L145.4 66.8L145.3 72.3L144.1 78.3L140.4 88.8L140.2 90.8L141 92.3L142.2 92.8L144 92.7L154 89.1L160 87.7L165 87.5L169.5 88.3L174 90.5L176.2 92.3L177.8 94.3L179.3 96.8L180.3 99.3L181.2 104.8L181.1 107.7L180.5 110.7L179.6 113.2L178.3 115.7L176.5 118L174.5 119.7L172.5 121L170 122.1L165.5 123L160 122.9L154 121.5L144 117.9L142.5 117.8L141 118.3L140.2 119.7L140.3 121.7L143.9 131.7L145.3 137.7L145.5 142.2L144.8 146.6L142.8 151.1L139.5 154.8L135 157.5L132.5 158.3L129.5 158.7L126.5 158.8L123.5 158.4L120.5 157.5L118 156.3L116 154.9L114 153L112.3 150.6L111.1 148.1L110 143.7L110.1 138.2L111.4 132.2L115.1 121.7L115.2 119.7L114.5 118.4L113 117.8L111 118L101.5 121.4L95.5 122.8L90.5 123.1L86 122.3L81.5 120.2L79.7 118.7L77.9 116.7L76.3 114.2L75.2 111.7L74.2 106.2L74.3 103.3L74.8 100.3L75.6 97.8L77 95.1L78.5 93.1L80.5 91.2L83 89.5L85.5 88.5L90 87.6L95 87.7L101 89L111.5 92.7L113.2 92.8L114.5 92.2L115.2 90.8L115 88.8L111.5 78.8L110.1 72.8L109.9 68.3L110.6 63.9L112.6 59.4L114.2 57.4L116 55.7L120.5 53.1L125.6 51.9ZM125.5 55.9L121 57.1L117.4 59.4L114.5 62.7L112.6 66.8L111.9 70.8L112 74.8L112.9 79.8L115.7 89.3L115.7 91.3L115 92.6L113.5 93.4L111.5 93.3L102 90.4L96.5 89.5L92 89.6L88 90.6L85.6 91.8L83.5 93.3L80.5 96.8L78.6 101.3L78.2 106.2L79.2 111.2L81.5 115.2L84.6 118.2L88.7 120.2L92.5 121L97 121L102.5 120L111.5 117.3L113.5 117.2L115 118L115.7 119.2L115.8 121.2L112.8 131.2L111.9 136.7L112.1 141.7L113.3 145.6L114.5 147.9L116 149.9L118 151.7L120 153L122.5 154.1L125 154.7L130 154.7L134.5 153.4L138.1 151.1L141 147.8L142.8 143.7L143.4 140.2L143.4 136.2L142.5 130.7L139.6 121.2L139.7 119.2L140.5 117.9L142 117.2L144 117.3L153 120.1L158.5 121L163 121L167 120.1L169.5 119L171.4 117.7L174.7 114.2L176.7 109.7L177.3 104.8L176.3 99.8L174.2 95.8L171 92.6L168.9 91.3L166.5 90.3L162.5 89.5L158.5 89.6L153 90.5L144 93.3L142 93.4L140.5 92.7L139.7 91.3L139.7 89.3L142.6 79.3L143.5 73.8L143.3 69.3L142.3 65.4L141 62.9L139.5 60.9L135.9 57.9L133.5 56.8L131 56.1L128.5 55.7L125.5 55.9ZM127.5 95L128.2 95.3L128 96.1L127.5 96.2L127.1 95.8L127.2 95.3ZM127.3 95.3L127.2 95.8L127.5 96.1L128 96L128.1 95.3L127.5 95.1ZM118 104.7L118.6 105.2L118 105.9L117.5 105.7L117.4 105.2L117.7 104.8ZM117.5 105.2L118 105.9L118.5 105.4L118 104.8L117.5 105.2ZM137.5 104.7L138 105.2L137.5 105.9L137 105.8L136.8 105.2L137.3 104.8ZM136.8 105.2L137 105.6L137.7 105.7L137.9 105.2L137.5 104.8L137 105ZM127.5 114.4L128.3 114.7L128 115.6L127.5 115.6L127.1 115.2L127.1 114.7ZM127.2 114.7L127.5 115.5L128 115.4L128.2 114.7L127.5 114.5Z" fill="#1730d6" stroke="#1730d6" stroke-width="0.6"/>
<path d="M125.5 55.9L128.5 55.7L131 56.1L133.5 56.8L135.9 57.9L139.5 60.9L141 62.9L142.3 65.4L143.3 69.3L143.5 73.8L142.6 79.3L139.7 89.3L139.7 91.3L140.5 92.7L142 93.4L144 93.3L153 90.5L158.5 89.6L162.5 89.5L166.5 90.3L168.9 91.3L171 92.6L174.2 95.8L176.3 99.8L177.3 104.8L176.7 109.7L174.7 114.2L171.4 117.7L169.5 119L167 120.1L163 121L158.5 121L153 120.1L144 117.3L142 117.2L140.5 117.9L139.7 119.2L139.6 121.2L142.5 130.7L143.4 136.2L143.4 140.2L142.8 143.7L141 147.8L138.1 151.1L134.5 153.4L130 154.7L125 154.7L122.5 154.1L120 153L118 151.7L116 149.9L114.5 147.9L113.3 145.6L112.1 141.7L111.9 136.7L112.8 131.2L115.8 121.2L115.7 119.2L115 118L113.5 117.2L111.5 117.3L102.5 120L97 121L92.5 121L88.7 120.2L84.6 118.2L81.5 115.2L79.2 111.2L78.2 106.2L78.6 101.3L80.5 96.8L83.5 93.3L85.6 91.8L88 90.6L92 89.6L96.5 89.5L102 90.4L111.5 93.3L113.5 93.4L115 92.6L115.7 91.3L115.7 89.3L112.9 79.8L112 74.8L111.9 70.8L112.6 66.8L114.5 62.7L117.4 59.4L121 57.1L125.5 55.9ZM126.1 59.4L122 60.5L118.5 62.7L116 65.6L114.3 69.3L113.6 72.8L113.5 76.3L114.1 80.8L116.4 89.8L116.3 91.3L115.5 92.9L114 93.8L112 94L103 91.7L98 91.1L94 91.4L90.6 92.3L87 94.3L84 97.5L82.3 101.3L81.7 105.7L82.4 109.7L84.5 113.7L87.5 116.6L91 118.4L94.5 119.3L98 119.5L103 118.9L112 116.6L114 116.8L115.5 117.7L116.3 119.2L116.3 121.2L114.1 130.2L113.5 135.2L113.8 139.2L114.8 142.7L117 146.4L120.5 149.4L124.5 151L129 151.3L133 150.3L136.5 148.2L139.3 145.1L141 141.6L141.7 138.2L141.9 134.7L141.2 129.7L139 120.7L139.1 119.2L140 117.6L141.5 116.7L143.5 116.6L152 118.8L157 119.5L161 119.3L164.5 118.4L168.5 116.2L171.3 113.2L173.2 109.2L173.7 104.8L173 100.8L171 97L168.3 94.3L164.5 92.2L161 91.3L157 91.1L152 91.8L143.5 94L141.5 93.9L140 93L139.2 91.8L139 89.8L141.4 80.3L141.9 75.3L141.6 71.3L140.6 67.8L138.5 64.4L137 62.8L135 61.3L131 59.7L126.5 59.3ZM127.5 94.9L128.4 95.3L128 96.2L127.5 96.3L127 95.8L127 95.3ZM127.2 95.3L127.1 95.8L127.5 96.2L128 96.1L128.2 95.3L127.5 95ZM117.5 104.7L118 104.6L118.5 104.9L118.5 105.8L118 106L117.4 105.7L117.5 104.8ZM117.7 104.8L117.4 105.2L117.5 105.7L118 105.9L118.6 105.2L118 104.7ZM137 104.8L137.9 104.8L138.2 105.2L138 105.7L137.5 106L137 105.8L136.7 105.2L137 104.8ZM137.3 104.8L136.8 105.2L137 105.8L137.5 105.9L138 105.2L137.5 104.7ZM127.5 114.4L128.3 114.7L128.4 115.2L128 115.7L127.5 115.7L127 115.3L127.1 114.7ZM127.1 114.7L127.1 115.2L127.5 115.6L128 115.6L128.3 114.7L127.5 114.4Z" fill="#1440d8" stroke="#1440d8" stroke-width="0.6"/>
<path d="M126.5 59.3L131 59.7L135 61.3L137 62.8L138.5 64.4L140.6 67.8L141.6 71.3L141.9 75.3L141.4 80.3L139 89.8L139.2 91.8L140 93L141.5 93.9L143.5 94L152 91.8L157 91.1L161 91.3L164.5 92.2L168.3 94.3L171 97L173 100.8L173.7 104.8L173.2 109.2L171.3 113.2L168.5 116.2L164.5 118.4L161 119.3L157 119.5L152 118.8L143.5 116.6L141.5 116.7L140 117.6L139.1 119.2L139 120.7L141.2 129.7L141.9 134.7L141.7 138.2L141 141.6L139.3 145.1L136.5 148.2L133 150.3L129 151.3L124.5 151L120.5 149.4L117 146.4L114.8 142.7L113.8 139.2L113.5 135.2L114.1 130.2L116.3 121.2L116.3 119.2L115.5 117.7L114 116.8L112 116.6L103 118.9L98 119.5L94.5 119.3L91 118.4L87.5 116.6L84.5 113.7L82.4 109.7L81.7 105.7L82.3 101.3L84 97.5L87 94.3L90.6 92.3L94 91.4L98 91.1L103 91.7L112 94L114 93.8L115.5 92.9L116.3 91.3L116.4 89.8L114.1 80.8L113.5 76.3L113.6 72.8L114.3 69.3L116 65.6L118.5 62.7L122 60.5L126.1 59.4ZM124.7 62.9L121.5 64.2L119 66.1L117 68.7L115.7 71.8L115 75.3L114.9 78.8L117 90.3L116.7 91.8L115.8 93.3L114.5 94.2L113 94.6L104 92.9L100.5 92.5L96.5 92.7L92.8 93.8L89.4 95.8L86.8 98.8L85.3 102.3L84.9 106.2L85.7 109.7L87.4 112.7L90 115.3L93.5 117.1L96.5 117.9L100 118.1L104.5 117.7L112 116.1L114 116.2L115.5 117L116.5 118.2L117 120.2L115.3 128.7L114.9 132.7L115.3 137.2L116.5 140.9L119 144.5L122.5 147L126.5 148.1L130.5 147.8L133.5 146.7L136.2 144.7L138.5 141.7L139.8 138.7L140.4 135.2L140.5 131.7L138.4 120.2L138.7 118.7L139.5 117.4L141 116.3L142.5 116L151 117.7L155 118.1L159 117.8L162.9 116.7L166.1 114.7L168.7 111.7L170.2 108.2L170.5 104.3L169.7 100.8L167.5 97.3L165 95.1L161.5 93.4L158.5 92.7L155.5 92.5L151 92.9L143 94.6L141.5 94.4L140 93.7L138.9 92.3L138.4 90.8L138.6 88.8L140.2 81.3L140.5 77.8L140.1 73.3L139 69.8L136.5 66.2L133 63.7L129 62.6L125 62.8ZM127.5 94.7L128 94.8L128.5 95.3L128 96.3L127.5 96.3L126.9 95.8L126.9 95.3L127.4 94.8ZM127 95.3L127 95.8L127.5 96.3L128 96.2L128.4 95.3L127.5 94.9ZM117.5 104.6L118.5 104.8L118.7 105.2L118.5 105.8L117.5 106L117.1 105.2L117.3 104.8ZM117.5 104.8L117.4 105.7L118 106L118.5 105.8L118.5 104.9L118 104.6L117.5 104.7ZM137 104.7L137.5 104.5L138.1 104.8L138.2 105.7L137.5 106.1L137 105.9L136.7 105.2L136.9 104.8ZM137 104.8L136.7 105.2L137 105.8L137.5 106L138 105.7L138.2 105.2L137.9 104.8L137 104.8ZM127 114.7L127.5 114.3L128 114.3L128.5 115.2L128.2 115.7L127.2 115.7L126.9 115.2L127 114.7ZM127.1 114.7L127 115.3L127.5 115.7L128 115.7L128.4 115.2L128.3 114.7L127.5 114.4Z" fill="#1150da" stroke="#1150da" stroke-width="0.6"/>
<path d="M125 62.8L129 62.6L133 63.7L136.5 66.2L139 69.8L140.1 73.3L140.5 77.8L140.2 81.3L138.6 88.8L138.4 90.8L138.9 92.3L140 93.7L141.5 94.4L143 94.6L151 92.9L155.5 92.5L158.5 92.7L161.5 93.4L165 95.1L167.5 97.3L169.7 100.8L170.5 104.3L170.2 108.2L168.7 111.7L166.1 114.7L162.9 116.7L159 117.8L155 118.1L151 117.7L142.5 116L141 116.3L139.5 117.4L138.7 118.7L138.4 120.2L140.5 131.7L140.4 135.2L139.8 138.7L138.5 141.7L136.2 144.7L133.5 146.7L130.5 147.8L126.5 148.1L122.5 147L119 144.5L116.5 140.9L115.3 137.2L114.9 132.7L115.3 128.7L117 120.2L116.5 118.2L115.5 117L114 116.2L112 116.1L104.5 117.7L100 118.1L96.5 117.9L93.5 117.1L90 115.3L87.4 112.7L85.7 109.7L84.9 106.2L85.3 102.3L86.8 98.8L89.4 95.8L92.8 93.8L96.5 92.7L100.5 92.5L104 92.9L113 94.6L114.5 94.2L115.8 93.3L116.7 91.8L117 90.3L114.9 78.8L115 75.3L115.7 71.8L117 68.7L119 66.1L121.5 64.2L124.7 62.9ZM124.6 65.8L122 67L119.8 68.8L118 71.3L116.8 74.3L116.2 77.3L116.1 80.3L117.5 90.3L117.3 91.8L116.5 93.3L115 94.5L113 95.1L105 93.9L101.5 93.7L98 94L94.5 95.2L91.5 97.2L89.3 99.8L88.1 102.8L87.8 106.2L88.5 109.2L90.3 112.2L92.5 114.2L95.5 115.8L98.5 116.6L102 116.9L113 115.5L114.5 115.8L115.9 116.7L117.1 118.2L117.5 119.7L117.4 121.7L116.3 128.2L116.1 131.7L116.6 135.7L117.9 139.2L120.5 142.4L123.5 144.3L127 145.2L130.5 144.8L133 143.8L135.5 141.9L137.2 139.7L138.5 136.7L139.2 133.7L139.3 130.2L137.9 120.2L138.1 118.7L139 117.2L140.5 116L142.5 115.5L153.5 116.9L157 116.6L160.5 115.6L163.6 113.7L165.8 111.2L167.2 108.2L167.6 104.8L167 101.8L165.4 98.8L163 96.4L160 94.8L156.5 93.9L153 93.7L142.5 95.1L141 94.8L139.5 93.9L138.3 92.3L137.9 90.8L139.1 82.3L139.3 78.8L138.8 74.8L137.5 71.5L135 68.2L132 66.3L128.5 65.4L125 65.7ZM127.5 94.6L128.3 94.8L128.6 95.3L128 96.3L127.5 96.4L126.9 95.8L127.1 94.8ZM127.4 94.8L126.9 95.3L126.9 95.8L127.5 96.3L128 96.3L128.5 95.3L128 94.8L127.5 94.7ZM117.5 104.4L118.6 104.8L118.8 105.2L118.5 105.9L117.5 106.2L117.1 105.7L117.1 104.8ZM117.3 104.8L117.1 105.2L117.5 106L118.5 105.8L118.7 105.2L118.5 104.8L117.5 104.6ZM137 104.6L138 104.5L138.4 105.2L138.3 105.7L137.5 106.2L137 106L136.6 105.2L136.8 104.8ZM136.9 104.8L136.7 105.2L137 105.9L137.5 106.1L138.2 105.7L138.1 104.8L137.5 104.5L137 104.7ZM127.5 114.2L128.5 114.7L128.5 115.6L128 116L127 115.8L126.8 115.2L127.5 114.2ZM127 114.7L126.9 115.2L127.2 115.7L128.2 115.7L128.5 115.2L128 114.3L127.5 114.3L127 114.7Z" fill="#0f5fdb" stroke="#0f5fdb" stroke-width="0.6"/>
<path d="M125 65.7L128.5 65.4L132 66.3L135 68.2L137.5 71.5L138.8 74.8L139.3 78.8L139.1 82.3L137.9 90.8L138.3 92.3L139.5 93.9L141 94.8L142.5 95.1L153 93.7L156.5 93.9L160 94.8L163 96.4L165.4 98.8L167 101.8L167.6 104.8L167.2 108.2L165.8 111.2L163.6 113.7L160.5 115.6L157 116.6L153.5 116.9L142.5 115.5L140.5 116L139 117.2L138.1 118.7L137.9 120.2L139.3 130.2L139.2 133.7L138.5 136.7L137.2 139.7L135.5 141.9L133 143.8L130.5 144.8L127 145.2L123.5 144.3L120.5 142.4L117.9 139.2L116.6 135.7L116.1 131.7L116.3 128.2L117.4 121.7L117.5 119.7L117.1 118.2L115.9 116.7L114.5 115.8L113 115.5L102 116.9L98.5 116.6L95.5 115.8L92.5 114.2L90.3 112.2L88.5 109.2L87.8 106.2L88.1 102.8L89.3 99.8L91.5 97.2L94.5 95.2L98 94L101.5 93.7L105 93.9L113 95.1L115 94.5L116.5 93.3L117.3 91.8L117.5 90.3L116.1 80.3L116.2 77.3L116.8 74.3L118 71.3L119.8 68.8L122 67L124.6 65.8ZM125.5 68.3L123 69.3L121 70.8L119.3 72.8L118 75.7L117.4 78.3L117.2 81.3L118.1 90.8L117.6 92.3L116.6 93.8L115 95.1L113.5 95.6L103 94.8L99.5 95.2L96.5 96.2L94 97.9L91.9 100.3L90.8 102.8L90.5 105.7L91.1 108.7L92.5 111.2L94.6 113.2L97.3 114.7L100 115.5L103.5 115.8L113 114.9L114.5 115.3L116 116.2L117.3 117.7L118 119.7L117.2 127.7L117.2 130.7L117.8 134.2L119 137.2L121 139.8L123.5 141.5L126.5 142.5L130 142.2L132.5 141.2L134.5 139.7L136.1 137.7L137.3 135.2L138 132.7L138.2 129.7L137.4 119.7L137.8 118.2L138.9 116.7L140.5 115.5L142 115L152.5 115.8L155.5 115.5L158.5 114.5L161.4 112.7L163.2 110.7L164.6 107.7L164.9 104.8L164.2 101.8L162.8 99.3L160.6 97.3L158 95.8L155 95L152 94.8L142.5 95.7L141 95.4L139.3 94.3L138 92.8L137.3 90.8L138.2 80.3L137.7 76.8L136.5 73.6L134.5 70.9L132 69.1L129 68.2L125.5 68.3ZM127 94.6L128 94.4L128.5 94.8L128.6 95.8L128.2 96.3L127.5 96.4L127 96.1L126.7 95.3L126.9 94.8ZM127.1 94.8L126.9 95.8L127.5 96.4L128 96.3L128.6 95.3L128.3 94.8L127.5 94.6ZM117 104.7L117.5 104.3L118.5 104.6L118.9 105.2L118.7 105.7L118 106.3L117.4 106.2L116.9 105.7L116.9 104.8ZM117.1 104.8L117.1 105.7L117.5 106.2L118.5 105.9L118.8 105.2L118.6 104.8L117.5 104.4ZM137 104.5L138 104.3L138.5 104.8L138.5 105.7L138 106.3L137 106.1L136.5 105.2L136.8 104.8ZM136.8 104.8L136.6 105.2L137 106L137.5 106.2L138.3 105.7L138.4 105.3L138 104.5L137 104.6ZM127.5 114.2L128.1 114.2L128.7 115.2L128.5 115.9L128 116.2L126.8 115.7L126.8 114.7L127.4 114.2ZM127.5 114.2L126.8 115.2L127 115.8L128 116L128.5 115.6L128.5 114.7L127.5 114.2Z" fill="#0c6fdd" stroke="#0c6fdd" stroke-width="0.6"/>
<path d="M125.5 68.3L129 68.2L132 69.1L134.5 70.9L136.5 73.6L137.7 76.8L138.2 80.3L137.3 90.8L138 92.8L139.3 94.3L141 95.4L142.5 95.7L152 94.8L155 95L158 95.8L160.6 97.3L162.8 99.3L164.2 101.8L164.9 104.8L164.6 107.7L163.2 110.7L161.4 112.7L158.5 114.5L155.5 115.5L152.5 115.8L142 115L140.5 115.5L138.9 116.7L137.8 118.2L137.4 119.7L138.2 129.7L138 132.7L137.3 135.2L136.1 137.7L134.5 139.7L132.5 141.2L130 142.2L126.5 142.5L123.5 141.5L121 139.8L119 137.2L117.8 134.2L117.2 130.7L117.2 127.7L118 119.7L117.3 117.7L116 116.2L114.5 115.3L113 114.9L103.5 115.8L100 115.5L97.3 114.7L94.6 113.2L92.5 111.2L91.1 108.7L90.5 105.7L90.8 102.8L91.9 100.3L94 97.9L96.5 96.2L99.5 95.2L103 94.8L113.5 95.6L115 95.1L116.6 93.8L117.6 92.3L118.1 90.8L117.2 81.3L117.4 78.3L118 75.7L119.3 72.8L121 70.8L123 69.3L125.5 68.3ZM125.5 70.8L123.5 71.7L121.5 73.2L120 75.2L119 77.3L118.4 79.8L118.1 82.3L118.6 90.8L118.2 92.3L117 93.9L115 95.6L113.5 96.2L104 95.8L101 96.2L98.5 97.1L96 98.8L94.3 100.8L93.2 103.3L92.9 105.7L93.5 108.2L94.5 110.2L96.4 112.2L99 113.7L101.5 114.5L104.5 114.9L113.5 114.4L115 115L116.5 116.2L117.8 117.7L118.6 119.7L118.2 129.7L118.8 132.7L120 135.4L122 137.9L124.5 139.4L127 140L130 139.7L132 138.9L134 137.3L135.5 135.3L136.4 133.2L137.3 128.2L136.8 119.7L137.3 118.2L138.4 116.7L140 115.3L142 114.4L151.5 114.8L154.5 114.4L157 113.5L159.5 111.7L161.2 109.7L162.2 107.2L162.4 104.8L161.9 102.3L160.8 100.3L158.8 98.3L156.5 96.9L154 96.1L151 95.7L142 96.2L140.5 95.7L139 94.5L137.5 92.8L136.9 91.3L137.2 81.3L136.7 78.3L135.5 75.3L133.5 72.8L131 71.2L128.5 70.6L125.5 70.8ZM127.5 94.3L128.5 94.5L128.8 95.3L128 96.4L127.1 96.3L126.7 95.8L126.7 94.8L127.4 94.3ZM126.9 94.8L126.7 95.3L127 96.1L127.5 96.4L128.2 96.3L128.6 95.8L128.5 94.8L128 94.4L127 94.6ZM117.5 104.2L118.5 104.5L118.9 105.2L118.5 106.1L118 106.4L117.1 106.2L116.7 105.7L116.7 104.8L117.2 104.3ZM116.9 104.8L116.9 105.7L117.4 106.2L118 106.3L118.7 105.7L118.9 105.2L118.5 104.6L117.5 104.3L117 104.7ZM137.5 104.2L138.2 104.3L138.7 104.8L138.7 105.7L138.3 106.2L137.5 106.4L136.6 105.7L136.7 104.8L137.4 104.3ZM136.8 104.8L136.5 105.2L137 106.1L138 106.3L138.5 105.7L138.5 104.8L138 104.3L137 104.5ZM127.5 114.1L128.2 114.2L128.8 115.2L128.5 116.1L128 116.3L127 116.2L126.6 115.7L126.7 114.7L127.3 114.2ZM127.4 114.2L126.8 114.7L126.8 115.7L128 116.2L128.5 115.9L128.7 115.2L128.1 114.2L127.5 114.2Z" fill="#097fdf" stroke="#097fdf" stroke-width="0.6"/>
<path d="M125.5 70.8L128.5 70.6L131 71.2L133.5 72.8L135.5 75.3L136.7 78.3L137.2 81.3L136.9 91.3L137.5 92.8L139 94.5L140.5 95.7L142 96.2L151 95.7L154 96.1L156.5 96.9L158.8 98.3L160.8 100.3L161.9 102.3L162.4 104.8L162.2 107.2L161.2 109.7L159.5 111.7L157 113.5L154.5 114.4L151.5 114.8L142 114.4L140 115.3L138.4 116.7L137.3 118.2L136.8 119.7L137.3 128.2L136.4 133.2L135.5 135.3L134 137.3L132 138.9L130 139.7L127 140L124.5 139.4L122 137.9L120 135.4L118.8 132.7L118.2 129.7L118.6 119.7L117.8 117.7L116.5 116.2L115 115L113.5 114.4L104.5 114.9L101.5 114.5L99 113.7L96.4 112.2L94.5 110.2L93.5 108.2L92.9 105.7L93.2 103.3L94.3 100.8L96 98.8L98.5 97.1L101 96.2L104 95.8L113.5 96.2L115 95.6L117 93.9L118.2 92.3L118.6 90.8L118.1 82.3L118.4 79.8L119 77.3L120 75.2L121.5 73.2L123.5 71.7L125.5 70.8ZM127.2 72.8L125 73.3L123.2 74.3L121.5 76L120.3 77.8L119.5 80.1L119 82.8L119.1 91.3L118.4 92.8L117 94.4L115 96.1L113.5 96.7L105 96.7L102.5 97.1L100 98.1L98 99.4L96.4 101.3L95.5 103.3L95.2 105.2L95.6 107.7L96.7 109.7L98 111.2L100.4 112.7L102.5 113.5L105 113.9L113.5 113.9L115 114.5L117 116.1L118.6 118.2L119.2 119.7L119.1 128.2L119.5 130.7L120.5 133.1L122 135.2L123.5 136.5L125.5 137.5L128 137.8L130 137.4L132 136.4L133.9 134.7L135.1 132.7L136 130.2L136.4 127.7L136.2 119.7L136.8 118.2L138.3 116.2L140.5 114.4L142 113.9L150.5 113.9L155 112.7L157 111.5L158.7 109.7L159.8 107.7L160.2 105.2L159.7 102.8L158.7 100.8L157.2 99.3L155 97.9L150.5 96.7L142 96.7L140.5 96.2L138.5 94.5L137 92.8L136.3 91.3L136.4 82.8L136 80.3L135 77.7L133.5 75.5L132 74.2L130 73.2L127.5 72.8ZM127 94.2L128 94.1L128.9 94.8L128.8 95.8L128.4 96.3L127.5 96.5L126.6 95.8L126.5 94.8L126.9 94.3ZM127.4 94.3L126.7 94.8L126.7 95.8L127.1 96.3L128 96.4L128.8 95.3L128.5 94.5L127.5 94.3ZM117 104.2L118 104.1L118.8 104.8L119 105.2L118.5 106.2L117.5 106.6L116.8 106.2L116.4 105.2L116.9 104.3ZM117.2 104.3L116.7 104.8L116.7 105.7L117.1 106.2L118 106.4L118.5 106.1L118.9 105.2L118.5 104.5L117.5 104.2ZM137.5 104.1L138.5 104.2L138.9 104.8L138.9 105.7L138.5 106.4L137.5 106.5L136.5 105.7L136.5 105L137.2 104.3ZM137.4 104.3L136.7 104.8L136.6 105.7L137.5 106.4L138.3 106.2L138.7 105.7L138.7 104.8L138.2 104.3L137.5 104.2ZM127.5 114.1L128.3 114.2L128.8 114.7L128.9 115.7L128.5 116.3L127.5 116.6L126.5 115.8L126.6 114.7L127.1 114.2ZM127.3 114.2L126.7 114.7L126.6 115.7L127 116.2L128 116.3L128.5 116.1L128.8 115.2L128.2 114.2L127.5 114.1Z" fill="#068fe1" stroke="#068fe1" stroke-width="0.6"/>
<path d="M127.5 72.8L130 73.2L132 74.2L133.5 75.5L135 77.7L136 80.3L136.4 82.8L136.3 91.3L137 92.8L138.5 94.5L140.5 96.2L142 96.7L150.5 96.7L155 97.9L157.2 99.3L158.7 100.8L159.7 102.8L160.2 105.2L159.8 107.7L158.7 109.7L157 111.5L155 112.7L150.5 113.9L142 113.9L140.5 114.4L138.3 116.2L136.8 118.2L136.2 119.7L136.4 127.7L136 130.2L135.1 132.7L133.9 134.7L132 136.4L130 137.4L128 137.8L125.5 137.5L123.5 136.5L122 135.2L120.5 133.1L119.5 130.7L119.1 128.2L119.2 119.7L118.6 118.2L117 116.1L115 114.5L113.5 113.9L105 113.9L102.5 113.5L100.4 112.7L98 111.2L96.7 109.7L95.6 107.7L95.2 105.2L95.5 103.3L96.4 101.3L98 99.4L100 98.1L102.5 97.1L105 96.7L113.5 96.7L115 96.1L117 94.4L118.4 92.8L119.1 91.3L119 82.8L119.5 80.1L120.3 77.8L121.5 76L123.2 74.3L125 73.3L127.2 72.8ZM125.5 75.3L124 76.1L122.5 77.3L120.7 80.3L119.8 84.3L119.8 90.8L119.2 92.3L118.1 93.8L115.5 96.3L114 97.1L112.5 97.4L105.5 97.6L101.5 98.9L99.6 100.3L98.4 101.8L97.5 103.8L97.4 105.7L97.8 107.7L98.6 109.2L100 110.7L102 112L106 113.1L113.5 113.3L116 114.7L118.5 117.2L119.6 119.2L120 127.6L120.7 130.2L121.7 132.2L123.5 134.2L125.5 135.3L128 135.7L130 135.2L131.5 134.5L132.9 133.2L134.7 130.2L135.5 126.7L135.7 119.7L136.2 118.2L137.4 116.7L140 114.2L141.5 113.4L149.5 113.1L152 112.5L154 111.7L155.9 110.2L157.1 108.7L157.9 106.7L158 104.8L157.5 102.8L156.7 101.3L155.2 99.8L153.5 98.7L149.5 97.5L142 97.3L140.5 96.7L139 95.5L136.9 93.3L135.8 91.3L135.4 82.8L134.7 80.3L133.6 78.3L132 76.5L130 75.4L128 74.9L125.5 75.3ZM127 94L128 93.9L129 94.5L129.1 95.3L128.5 96.3L127.5 96.6L126.9 96.3L126.3 95.3L126.6 94.3ZM126.9 94.3L126.5 94.8L126.6 95.8L127.5 96.5L128.4 96.3L128.8 95.8L128.9 94.8L128 94.1L127 94.2ZM117 104L118 104L118.8 104.8L119 105.4L118.5 106.3L117.5 106.7L116.5 106.2L116.2 105.2L116.6 104.3ZM116.9 104.3L116.4 105.2L116.8 106.2L117.5 106.6L118.5 106.2L119 105.2L118.8 104.8L118 104.1L117 104.2ZM137 104.2L138 103.9L138.8 104.3L139.2 105.2L138.9 106.2L138 106.7L137 106.4L136.4 105.3L137 104.3ZM137.2 104.3L136.5 105L136.5 105.7L137.5 106.5L138.5 106.4L138.9 105.7L138.9 104.8L138.5 104.2L137.5 104.1ZM127.5 114L128.4 114.2L129.1 115.2L129 116.1L128.5 116.6L127.5 116.8L126.5 116.2L126.3 115.2L127 114.2ZM127.1 114.2L126.6 114.7L126.5 115.8L127.5 116.6L128.5 116.3L128.9 115.7L128.8 114.7L128.3 114.2L127.5 114.1Z" fill="#039ee3" stroke="#039ee3" stroke-width="0.6"/>
<path d="M125.5 75.3L128 74.9L130 75.4L132 76.5L133.6 78.3L134.7 80.3L135.4 82.8L135.8 91.3L136.9 93.3L139 95.5L140.5 96.7L142 97.3L149.5 97.5L153.5 98.7L155.2 99.8L156.7 101.3L157.5 102.8L158 104.8L157.9 106.7L157.1 108.7L155.9 110.2L154 111.7L152 112.5L149.5 113.1L141.5 113.4L140 114.2L137.4 116.7L136.2 118.2L135.7 119.7L135.5 126.7L134.7 130.2L132.9 133.2L131.5 134.5L130 135.2L128 135.7L125.5 135.3L123.5 134.2L121.7 132.2L120.7 130.2L120 127.6L119.6 119.2L118.5 117.2L116 114.7L113.5 113.3L106 113.1L102 112L100 110.7L98.6 109.2L97.8 107.7L97.4 105.7L97.5 103.8L98.4 101.8L99.6 100.3L101.5 98.9L105.5 97.6L112.5 97.4L114 97.1L115.5 96.3L118.1 93.8L119.2 92.3L119.8 90.8L119.8 84.3L120.7 80.3L122.5 77.3L124 76.1L125.5 75.3ZM125.6 77.3L123.4 78.8L121.5 81.6L120.7 84.8L120.4 90.8L119.8 92.3L118.6 93.8L115.5 96.8L114 97.7L106.5 98.4L102.7 99.8L101.4 100.8L100.2 102.3L99.5 103.8L99.4 105.7L99.7 107.2L100.5 108.7L101.9 110.2L103.5 111.2L107 112.3L113.5 112.7L116 114.3L119.4 117.7L120.2 119.2L120.8 126.7L121.5 129L122.5 130.8L124 132.4L125.5 133.2L127.5 133.7L129.5 133.4L132 131.8L133.8 129.2L134.7 125.7L135.1 119.7L136.5 117.2L140 113.7L141.5 112.8L149 112.2L152.8 110.7L154.1 109.7L155.3 108.2L155.9 106.7L156 104.8L155.7 103.3L154.9 101.8L153.5 100.3L152 99.4L148.5 98.3L142 97.9L139.5 96.4L136.4 93.3L135.3 91.8L135 90.3L134.6 83.8L134 81.8L133 80L131.5 78.3L130 77.4L128 76.9L126 77.2ZM127 93.7L128 93.6L129.1 94.3L129 95.8L128 96.6L126.8 96.3L126.2 95.3L126.3 94.3L126.8 93.8ZM126.6 94.3L126.3 95.3L126.9 96.3L127.5 96.6L128.5 96.3L129.1 95.3L129 94.5L128 93.9L127 94ZM117 103.7L118.5 104.2L119.1 105.2L118.5 106.4L117.5 106.9L116.5 106.6L116 105.7L116.3 104.3L117 103.8ZM116.6 104.3L116.2 105.2L116.5 106.2L117.5 106.7L118.5 106.3L119 105.4L118.8 104.8L118 104L117 104ZM138 103.7L139 104.1L139.4 104.8L139.2 106.2L138.5 106.8L137 106.5L136.3 105.2L137 104.1L137.9 103.8ZM137 104.3L136.4 105.2L137 106.4L138 106.7L138.9 106.2L139.2 105.2L138.8 104.3L138 103.9L137 104.2ZM127 114.2L128 114L128.9 114.7L129.3 115.7L128.7 116.7L127.5 117L126.5 116.6L126.1 115.7L126.9 114.2ZM127 114.2L126.3 115.2L126.5 116.2L127.5 116.8L128.5 116.6L129 116.1L129.1 115.2L128.4 114.2L127.5 114Z" fill="#00aee5" stroke="#00aee5" stroke-width="0.6"/>
<path d="M126 77.2L128 76.9L130 77.4L131.5 78.3L133 80L134 81.8L134.6 83.8L135 90.3L135.3 91.8L136.4 93.3L139.5 96.4L142 97.9L148.5 98.3L152 99.4L153.5 100.3L154.9 101.8L155.7 103.3L156 104.8L155.9 106.7L155.3 108.2L154.1 109.7L152.8 110.7L149 112.2L141.5 112.8L140 113.7L136.5 117.2L135.1 119.7L134.7 125.7L133.8 129.2L132 131.8L129.5 133.4L127.5 133.7L125.5 133.2L124 132.4L122.5 130.8L121.5 129L120.8 126.7L120.2 119.2L119.4 117.7L116 114.3L113.5 112.7L107 112.3L103.5 111.2L101.9 110.2L100.5 108.7L99.7 107.2L99.4 105.7L99.5 103.8L100.2 102.3L101.4 100.8L102.7 99.8L106.5 98.4L114 97.7L115.5 96.8L118.6 93.8L119.8 92.3L120.4 90.8L120.7 84.8L121.5 81.6L123.4 78.8L125.6 77.3ZM125.5 79.3L123.5 80.9L122.1 83.3L121.4 85.8L121 90.8L120 92.8L115.5 97.3L114 98.4L107 99.3L103.7 100.8L102.6 101.8L101.7 103.3L101.3 105.7L102.2 108.2L104.5 110.3L107.5 111.4L113.5 112L115.5 113.3L120.6 118.7L121.1 120.2L121.6 125.7L123.1 129.2L124.5 130.7L126 131.5L128 131.8L129.5 131.4L131.5 130.1L133.2 127.7L134 124.7L134.4 119.7L135.5 117.7L141 112.4L142.5 111.9L148.5 111.3L151.5 110L153.5 107.7L154.1 106.2L154.1 104.8L153.2 102.3L152 101L150.5 100L147.5 99.1L142 98.6L140 97.4L134.7 91.8L134.3 90.3L133.8 84.8L133 82.6L132 81L130.5 79.7L129 79L127.5 78.8L126 79.1ZM126.5 93.6L128 93.3L129.1 93.8L129.5 94.8L128.7 96.3L127.5 96.7L126.7 96.3L125.9 94.8L126.3 93.8ZM126.8 93.8L126.3 94.3L126.2 95.3L126.8 96.3L128 96.6L129 95.8L129.1 94.3L128 93.6L127 93.7ZM116.5 103.7L118 103.8L119 104.8L119 105.8L118 106.8L116.5 106.9L115.9 106.2L115.7 104.8L116.3 103.8ZM117 103.8L116.3 104.3L116 105.7L116.5 106.6L117.5 106.9L118.5 106.4L119.1 105.2L118.5 104.2L117 103.7ZM137.5 103.8L138.5 103.5L139.5 104.3L139.7 105.7L139.2 106.7L138 107L136.5 106L136.4 104.8L137.5 103.8ZM137.9 103.8L137 104.1L136.3 105.2L137 106.5L138.5 106.8L139.2 106.2L139.4 104.8L139 104.1L138 103.7ZM127 114.1L128 113.9L129 114.7L129.4 115.7L129 116.9L127.5 117.3L126.2 116.7L126 115.7L126.8 114.2ZM126.9 114.2L126.1 115.7L126.5 116.6L127.5 117L128.7 116.7L129.3 115.7L128.9 114.7L128 114L127 114.2Z" fill="#00c0e5" stroke="#00c0e5" stroke-width="0.6"/>
<path d="M126 79.1L127.5 78.8L129 79L130.5 79.7L132 81L133 82.6L133.8 84.8L134.3 90.3L134.7 91.8L140 97.4L142 98.6L147.5 99.1L150.5 100L152 101L153.2 102.3L154.1 104.8L154.1 106.2L153.5 107.7L151.5 110L148.5 111.3L142.5 111.9L141 112.4L135.5 117.7L134.4 119.7L134 124.7L133.2 127.7L131.5 130.1L129.5 131.4L128 131.8L126 131.5L124.5 130.7L123.1 129.2L121.6 125.7L121.1 120.2L120.6 118.7L115.5 113.3L113.5 112L107.5 111.4L104.5 110.3L102.2 108.2L101.3 105.7L101.7 103.3L102.6 101.8L103.7 100.8L107 99.3L114 98.4L115.5 97.3L120 92.8L121 90.8L121.4 85.8L122.1 83.3L123.5 80.9L125.5 79.3ZM126.6 80.8L124.5 82L123 84.1L122.2 86.8L121.8 90.8L120.6 92.8L114 99.1L108 100L105.3 101.3L103.6 103.3L103.1 105.3L103.8 107.7L106 109.7L108.8 110.7L113.5 111.3L115 112.2L121.3 118.7L121.8 120.2L122.5 125.2L123.7 127.7L124.6 128.7L126 129.6L128.5 129.9L130.5 129L132.3 126.7L133.1 124.2L133.7 119.7L134.9 117.7L140.5 112.1L141.5 111.5L147 110.7L150.2 109.2L151.9 107.2L152.3 105.2L151.5 102.8L149.5 100.9L146.5 99.8L142 99.3L140.5 98.5L134 91.8L133 85.8L131.5 82.6L129.5 81L127 80.7ZM126.5 93.2L128.5 93.1L129.6 93.8L129.5 95.3L128.5 96.5L127.5 96.8L126.2 95.8L125.7 94.3L126.4 93.3ZM126.3 93.8L125.9 94.8L126.7 96.3L127.5 96.7L128.7 96.3L129.5 94.8L129.1 93.8L128 93.3L126.5 93.6ZM116 103.6L117.5 103.4L118.7 104.3L119.2 105.2L118.5 106.6L117 107.3L116 107L115.4 105.2L115.8 103.8ZM116.3 103.8L115.7 104.8L115.9 106.2L116.5 106.9L118 106.8L119 105.8L119 104.8L118 103.8L116.5 103.7ZM137.5 103.6L138.5 103.3L139.6 103.8L140 105.2L139.5 106.9L139 107.2L138 107.2L136.5 106.1L136.4 104.8L137.3 103.8ZM137.5 103.8L136.4 104.8L136.5 106L138 107L139.2 106.7L139.7 105.7L139.5 104.3L138.5 103.5L137.5 103.8ZM127 114L128 113.9L129.1 114.7L129.7 116.2L129 117.4L127.5 117.6L126 117L125.8 115.7L126.7 114.2ZM126.8 114.2L126 115.7L126.2 116.7L127.5 117.3L129 116.9L129.4 115.7L129 114.7L128 113.9L127 114.1Z" fill="#00d2e5" stroke="#00d2e5" stroke-width="0.6"/>
<path d="M127 80.7L129.5 81L131.5 82.6L133 85.8L134 91.8L140.5 98.5L142 99.3L146.5 99.8L149.5 100.9L151.5 102.8L152.3 105.2L151.9 107.2L150.2 109.2L147 110.7L141.5 111.5L140.5 112.1L134.9 117.7L133.7 119.7L133.1 124.2L132.3 126.7L130.5 129L128.5 129.9L126 129.6L124.6 128.7L123.7 127.7L122.5 125.2L121.8 120.2L121.3 118.7L115 112.2L113.5 111.3L108.8 110.7L106 109.7L103.8 107.7L103.1 105.2L103.6 103.3L105.3 101.3L108 100L114 99.1L120.6 92.8L121.8 90.8L122.2 86.8L123 84.1L124.5 82L126.6 80.8ZM126.1 82.8L124.5 84.1L123.5 85.8L122.6 90.8L121.9 92.3L118 95.5L114 100L109 100.8L106.5 102.1L105.2 103.8L104.9 105.7L105.7 107.7L107.5 109.2L109.5 109.9L113.5 110.4L114.5 110.9L118 115.1L122.2 118.7L123.3 124.2L124.5 126.5L126.5 127.9L128 128.1L129 127.9L130.5 126.9L131.7 125.2L132.4 123.2L132.8 119.7L133.6 118.2L137.5 115L141 110.9L142 110.4L146.5 109.7L148.6 108.7L150 107.2L150.5 105.2L149.9 103.3L148.4 101.8L146 100.7L141.5 100L140.5 99.3L137.5 95.6L133.1 91.8L132.2 86.8L131 84.2L129 82.7L128 82.5L126.5 82.7ZM126.5 92.7L129 92.7L129.8 93.3L130 93.8L129.3 95.8L128 96.8L127 96.6L125.8 95.3L125.4 93.8L126.3 92.8ZM126.4 93.3L125.7 94.3L126.2 95.8L127.5 96.8L128.5 96.5L129.5 95.3L129.6 93.8L128.5 93.1L126.5 93.2ZM116 103L117 103.1L118 103.6L119.1 104.8L119 106L118 107L117 107.5L116 107.6L115.2 106.7L115 104.8L115.6 103.3ZM115.8 103.8L115.4 105.2L116 107L117 107.3L118.5 106.6L119.2 105.2L118.7 104.3L117.5 103.4L116 103.6ZM138 103.2L139.5 103.1L140.2 103.8L140.4 105.7L139.9 107.2L139 107.6L138 107.4L137 106.7L136.3 105.7L136.5 104.4L138 103.3ZM137.3 103.8L136.4 104.8L136.5 106.1L138 107.2L139 107.2L139.5 106.9L140 105.2L139.6 103.8L138.5 103.3L137.5 103.6ZM127 114L128 113.8L129.2 114.7L130 116.2L129.9 117.2L129.5 117.6L128.5 118L127 118L125.5 117.2L125.6 115.7L126.6 114.2ZM126.7 114.2L125.8 115.7L126 117L127.5 117.6L129 117.4L129.7 116.2L129.1 114.7L128 113.9L127 114Z" fill="#00e4e5" stroke="#00e4e5" stroke-width="0.6"/>
<path d="M126.5 82.7L128 82.5L129 82.7L131 84.2L132.2 86.8L133.1 91.8L137.5 95.6L140.5 99.3L141.5 100L146 100.7L148.4 101.8L149.9 103.3L150.5 105.2L150 107.2L148.6 108.7L146.5 109.7L142 110.4L141 110.9L137.5 115L133.6 118.2L132.8 119.7L132.4 123.2L131.7 125.2L130.5 126.9L129 127.9L128 128.1L126.5 127.9L124.5 126.5L123.3 124.2L122.2 118.7L118 115.1L114.5 110.9L113.5 110.4L109.5 109.9L107.5 109.2L105.7 107.7L104.9 105.7L105.2 103.8L106.5 102.1L109 100.8L114 100L118 95.5L121.9 92.3L122.6 90.8L123.5 85.8L124.5 84.1L126.1 82.8ZM127.5 84.3L126 84.8L124.5 86.6L123.9 88.3L123.6 91.8L123.2 92.3L120 94.2L118.1 95.8L116.4 97.8L114.5 101L110.5 101.6L108.7 102.3L107.1 103.8L106.7 105.2L107.1 106.7L108.5 108.2L110.5 109L114.5 109.6L116.4 112.7L118 114.7L120 116.5L123.6 118.7L124 122.6L125 124.8L126.5 126.1L128 126.3L129.5 125.7L131 123.8L131.5 122.1L131.8 118.7L135.5 116.4L137.4 114.7L139 112.7L141 109.5L144.5 109.1L146.5 108.5L148 107.2L148.7 105.2L148.3 103.8L146.7 102.3L144.5 101.5L141 101.1L139 97.8L137.3 95.8L131.8 91.8L131.5 88.3L130.7 86.3L129.5 84.9L127.5 84.3ZM126 92.1L129 92.1L130.5 92.8L130.5 93.8L129.8 95.3L129 96.3L128 96.8L127.2 96.8L126.4 96.3L125.3 94.8L124.8 93.3L124.9 92.8L125.6 92.3ZM126.3 92.8L125.4 93.8L125.8 95.3L127 96.6L128 96.8L129.3 95.8L130 93.8L129.8 93.3L129 92.7L126.5 92.7ZM115 102.6L116.5 102.6L118.5 103.9L119.3 105.2L118.9 106.2L118 107.2L116.5 108L115 108L114.6 107.2L114.4 105.2L114.9 102.8ZM115.6 103.3L115 104.8L115.2 106.7L116 107.6L117 107.5L118 107L119 106L119.1 104.8L118 103.6L117 103.1L116 103ZM139 102.6L140 102.4L140.5 102.7L140.9 103.8L140.9 106.7L140.5 107.9L140 108.2L138 107.5L137 106.8L136.2 105.7L136.5 104.3L138.7 102.8ZM138 103.3L136.5 104.4L136.3 105.7L137 106.7L138 107.4L139 107.6L139.9 107.2L140.4 105.7L140.2 103.8L139.5 103.1L138 103.2ZM127 113.9L127.5 113.7L128.5 114L129.7 115.2L130.6 117.2L130.1 118.2L127 118.6L125 118L124.8 117.2L125.1 116.2L126.5 114.2ZM126.6 114.2L125.6 115.7L125.5 117.2L127 118L128.5 118L129.5 117.6L129.9 117.2L130 116.2L129.2 114.7L128 113.8L127 114Z" fill="#00f6e5" stroke="#00f6e5" stroke-width="0.6"/>
<path d="M127.5 84.3L129.5 84.9L130.7 86.3L131.5 88.3L131.8 91.8L137.3 95.8L139 97.8L141 101.1L144.5 101.5L146.7 102.3L148.3 103.8L148.7 105.2L148 107.2L146.5 108.5L144.5 109.1L141 109.5L139 112.7L137.4 114.7L135.5 116.4L131.8 118.7L131.5 122.1L131 123.8L129.5 125.7L128 126.3L126.5 126.1L125 124.8L124 122.6L123.6 118.7L120 116.5L118 114.7L116.4 112.7L114.5 109.6L110.5 109L108.5 108.2L107.1 106.7L106.7 105.2L107.1 103.8L108.7 102.3L110.5 101.6L114.5 101L116.4 97.8L118.1 95.8L120 94.2L123.2 92.3L123.6 91.8L123.9 88.3L124.5 86.6L126 84.8L127.5 84.3ZM126.4 86.8L125.6 87.8L125.3 88.8L125.5 90.5L127 91.1L129.6 90.8L130 90.3L130.2 89.3L129.5 87.3L128 86.4L126.5 86.7ZM125.6 92.3L124.9 92.8L124.8 93.3L125.3 94.8L126.4 96.3L127.2 96.8L128 96.8L129 96.3L129.8 95.3L130.5 93.8L130.5 92.8L129 92.1L126 92.1ZM122.7 93.3L120.5 94.2L118.5 95.7L116.8 97.8L115.8 99.8L115.6 100.8L116 101.8L118.5 103.8L119.3 105.2L118.5 106.8L115.7 109.2L115.9 111.2L117 113.2L118.5 114.9L120.5 116.4L122 117.2L123 117.4L124 117.2L126.4 114.2L127.5 113.7L129 114.2L131.5 117.2L132.5 117.4L134.5 116.7L136.5 115.3L138.4 113.2L139.5 111.2L139.7 109.2L136.5 106.4L136.1 105.2L137 103.7L138.9 102.3L139.7 101.3L139.4 99.3L138.3 97.3L137 95.8L135.5 94.5L133.5 93.5L131.5 93.4L129.1 96.3L127.5 96.9L126.3 96.3L124 93.4L123 93.2ZM114.9 102.8L114.4 105.2L114.6 107.2L115 108L116.5 108L118 107.2L118.9 106.2L119.3 105.2L118.5 103.9L116.5 102.6L115 102.6ZM138.7 102.8L136.5 104.3L136.2 105.7L137 106.8L138 107.5L140 108.2L140.5 107.9L140.9 106.7L140.9 103.8L140.5 102.7L140 102.4L139 102.6ZM110.1 103.3L108.8 104.8L109 106.2L110.5 107.5L112.5 107.7L113.4 106.7L113.3 103.8L112.5 102.9L110.5 103.1ZM142.3 103.3L142 104L141.9 105.7L142 106.7L142.5 107.5L144.2 107.7L146 106.8L146.6 105.2L146 103.8L144 102.8L142.5 103.1ZM126.5 114.2L125.1 116.2L124.8 117.2L125 118L127 118.6L130.1 118.2L130.6 117.2L129.7 115.2L128.5 114L127.5 113.7L127 113.9ZM126 119.7L125.2 120.7L125.5 122.7L127 124.1L128.5 124.1L129.5 123.3L130 122.4L130.2 121.2L130 120.2L129.4 119.7L128.5 119.5L126 119.7Z" fill="#09ffe5" stroke="#09ffe5" stroke-width="0.6"/>
<path d="M126.5 86.7L128 86.4L129.5 87.3L130.2 89.3L130 90.3L129.6 90.8L127 91.1L125.5 90.5L125.3 88.8L125.6 87.8L126.4 86.8ZM123 93.2L124 93.4L126.3 96.3L127.5 96.9L129.1 96.3L131.5 93.4L133.5 93.5L135.5 94.5L137 95.8L138.3 97.3L139.4 99.3L139.7 101.3L138.9 102.3L137 103.7L136.1 105.2L136.5 106.4L139.7 109.2L139.5 111.2L138.4 113.2L136.5 115.3L134.5 116.7L132.5 117.4L131.5 117.2L129 114.2L127.5 113.7L126.4 114.2L124 117.2L123 117.4L122 117.2L120.5 116.4L118.5 114.9L117 113.2L115.9 111.2L115.7 109.2L118.5 106.8L119.3 105.2L118.5 103.8L116 101.8L115.6 100.8L115.8 99.8L116.8 97.8L118.5 95.7L120.5 94.2L122.7 93.3ZM122.3 93.8L120.5 94.5L118.7 95.8L117.4 97.3L116.3 99.3L116.2 101.3L119 104.3L119.4 105.2L119 106.3L116.3 109.2L116.2 110.7L116.7 112.2L119 115.1L122 116.8L123 116.9L124 116.6L126.3 114.2L127.5 113.7L129 114.2L131.5 116.7L133 116.9L134.5 116.4L136.5 115L138.1 113.2L139.1 111.2L139.1 109.2L136.5 106.5L136 105.2L136.5 104.1L139.2 101.3L139.3 100.3L138.9 98.8L138 97.3L136.5 95.6L133.5 93.9L131.5 93.9L129.2 96.3L127.5 96.9L126.2 96.3L124 94L122.5 93.7ZM110.5 103.1L112.5 102.9L113.3 103.8L113.4 106.7L112.5 107.7L110.5 107.5L109 106.2L108.8 104.8L110.1 103.3ZM142.5 103.1L144 102.8L146 103.8L146.6 105.2L146 106.8L144.2 107.7L142.5 107.5L142 106.7L141.9 105.7L142 104L142.3 103.3ZM126 119.7L128.5 119.5L129.4 119.7L130 120.2L130.2 121.2L130 122.4L129.5 123.3L128.5 124.1L127 124.1L125.5 122.7L125.2 120.7L126 119.7Z" fill="#1bffe3" stroke="#1bffe3" stroke-width="0.6"/>
<path d="M122.5 93.7L124 94L126.2 96.3L127.5 96.9L129.2 96.3L131.5 93.9L133.5 93.9L136.5 95.6L138 97.3L138.9 98.8L139.3 100.3L139.2 101.3L136.5 104.1L136 105.2L136.5 106.5L139.1 109.2L139.1 111.2L138.1 113.2L136.5 115L134.5 116.4L133 116.9L131.5 116.7L129 114.2L127.5 113.7L126.3 114.2L124 116.6L123 116.9L122 116.8L119 115.1L116.7 112.2L116.2 110.7L116.3 109.2L119 106.3L119.4 105.2L119 104.3L116.2 101.3L116.3 99.3L117.4 97.3L118.7 95.8L120.5 94.5L122.3 93.8ZM121.5 94.3L120 95L118.5 96.3L117.3 97.8L116.6 99.3L116.6 101.3L119 104.2L119.4 105.2L119 106.4L116.6 109.2L116.5 110.7L117.3 112.7L119.5 115.2L122 116.5L124 116.2L126.3 114.2L127.5 113.6L129.1 114.2L131.5 116.3L133.5 116.4L135 115.8L136.5 114.7L137.8 113.2L138.8 111.2L138.8 109.2L136.5 106.6L136 105.2L136.5 104L138.8 101.3L138.9 99.8L138.4 98.3L136.4 95.8L133.5 94.2L131.5 94.3L128.6 96.8L127.5 97L126.1 96.3L124 94.4L122 94.1Z" fill="#2dffd1" stroke="#2dffd1" stroke-width="0.6"/>
<path d="M122 94.1L124 94.4L126.1 96.3L127.5 97L128.6 96.8L131.5 94.3L133.5 94.2L136.4 95.8L138.4 98.3L138.9 99.8L138.8 101.3L136.5 104L136 105.2L136.5 106.6L138.8 109.2L138.8 111.2L137.8 113.2L136.5 114.7L135 115.8L133.5 116.4L131.5 116.3L129.1 114.2L127.5 113.6L126.3 114.2L124 116.2L122 116.5L119.5 115.2L117.3 112.7L116.5 110.7L116.6 109.2L119 106.4L119.4 105.2L119 104.2L116.6 101.3L116.6 99.3L117.3 97.8L118.5 96.3L120 95L121.5 94.3ZM120.9 94.8L118.3 96.8L117.3 98.3L116.8 99.8L117.1 101.8L119 104.1L119.5 105.2L119 106.5L117.2 108.7L116.8 109.7L116.9 111.2L117.8 113.2L120 115.3L122 116.2L124 116L126.2 114.2L127.5 113.6L128.5 113.7L132 116.2L133.5 116.2L135 115.6L137.6 113.2L138.6 110.7L138.2 108.7L136.5 106.7L135.9 105.3L136.5 103.9L138.3 101.8L138.6 100.8L138.5 99.3L137.8 97.8L136 95.7L133.5 94.4L131.5 94.6L128.7 96.8L127.5 97L123.5 94.4L122.5 94.3L121 94.7Z" fill="#40ffbe" stroke="#40ffbe" stroke-width="0.6"/>
<path d="M121 94.7L122.5 94.3L123.5 94.4L127.5 97L128.7 96.8L131.5 94.6L133.5 94.4L136 95.7L137.8 97.8L138.5 99.3L138.6 100.8L138.3 101.8L136.5 103.9L135.9 105.2L136.5 106.7L138.2 108.7L138.6 110.7L137.6 113.2L135 115.6L133.5 116.2L132 116.2L128.5 113.7L127.5 113.6L126.2 114.2L124 116L122 116.2L120 115.3L117.8 113.2L116.9 111.2L116.8 109.7L117.2 108.7L119 106.5L119.5 105.2L119 104.1L117.1 101.8L116.8 99.8L117.3 98.3L118.3 96.8L120.9 94.8ZM121.5 94.8L119 96.3L117.8 97.8L117.1 99.3L117.1 101.3L119 104L119.5 105.2L119.2 106.2L117.4 108.7L117 109.7L117.1 111.2L117.7 112.7L119.5 114.7L122 116L124 115.7L127.5 113.5L128.6 113.7L132 116L133 116L134.5 115.6L137 113.7L137.9 112.2L138.4 110.7L138.3 109.2L136.2 106.2L135.9 105.2L136.2 104.3L138.3 101.3L138.4 99.8L137.6 97.8L135.8 95.8L133.5 94.7L131.5 94.8L128.8 96.8L127.5 97.1L126.6 96.8L124 94.8L123 94.6L121.5 94.8Z" fill="#52ffac" stroke="#52ffac" stroke-width="0.6"/>
<path d="M121.5 94.8L123 94.6L124 94.8L126.6 96.8L127.5 97.1L128.8 96.8L131.5 94.8L133.5 94.7L135.8 95.8L137.6 97.8L138.4 99.8L138.3 101.3L136.2 104.3L135.9 105.2L136.2 106.2L138.3 109.2L138.4 110.7L137.9 112.2L137 113.7L134.5 115.6L133 116L132 116L128.6 113.7L127.5 113.5L124 115.7L122 116L119.5 114.7L117.7 112.7L117.1 111.2L117 109.7L117.4 108.7L119.2 106.2L119.5 105.2L119 104L117.1 101.3L117.1 99.3L117.8 97.8L119 96.3L121.5 94.8ZM120.8 95.3L118.4 97.3L117.2 99.8L117.5 101.8L119 103.9L119.5 105.3L119.3 106.2L117.8 108.2L117.2 109.7L117.3 111.2L118.3 113.2L120 114.9L122.5 115.8L124 115.6L127.5 113.5L128.7 113.7L131 115.4L132 115.7L133 115.8L134.5 115.4L137 113.4L138.2 110.7L137.8 108.7L136.1 106.2L135.9 105.2L138.2 100.8L138.1 99.3L137.4 97.8L135.5 95.8L133.5 94.9L131.5 95L128.9 96.8L127.5 97.1L123.5 94.9L121 95.2Z" fill="#64ff9a" stroke="#64ff9a" stroke-width="0.6"/>
<path d="M121 95.2L123.5 94.9L127.5 97.1L128.9 96.8L131.5 95L133.5 94.9L135.5 95.8L137.4 97.8L138.1 99.3L138.2 100.8L135.9 105.2L136.1 106.2L137.8 108.7L138.2 110.7L137 113.4L134.5 115.4L133 115.8L132 115.7L131 115.4L128.7 113.7L127.5 113.5L124 115.6L122.5 115.8L120 114.9L118.3 113.2L117.3 111.2L117.2 109.7L117.8 108.2L119.3 106.2L119.5 105.2L119 103.9L117.5 101.8L117.2 99.8L118.4 97.3L120.8 95.3ZM121.2 95.3L120 95.9L118.6 97.3L117.4 99.8L117.7 101.8L119.3 104.3L119.6 105.2L119.3 106.2L117.7 108.7L117.4 109.7L117.5 111.2L118.1 112.7L120 114.7L122 115.6L124 115.4L127.5 113.4L128.8 113.7L131.5 115.4L132.5 115.6L134 115.4L136.5 113.7L137.9 111.2L137.9 109.2L136.1 106.2L135.8 105.2L136.1 104.3L137.9 101.3L137.9 99.3L137.2 97.8L135.5 96L133.5 95.1L131.5 95.2L129 96.8L127.5 97.2L124 95.2L123 95L121.5 95.2Z" fill="#76ff88" stroke="#76ff88" stroke-width="0.6"/>
<path d="M121.5 95.2L123 95L124 95.2L127.5 97.2L129 96.8L131.5 95.2L133.5 95.1L135.5 96L137.2 97.8L137.9 99.3L137.9 101.3L136.1 104.3L135.8 105.2L136.1 106.2L137.9 109.2L137.9 111.2L136.5 113.7L134 115.4L132.5 115.6L131.5 115.4L128.8 113.7L127.5 113.4L124 115.4L122 115.6L120 114.7L118.1 112.7L117.5 111.2L117.4 109.7L117.7 108.7L119.3 106.2L119.6 105.2L119.3 104.3L117.7 101.8L117.4 99.8L118.6 97.3L120 95.9L121.2 95.3ZM121 96.3L119.2 97.8L118.2 100.3L118.4 101.8L119.8 105.2L118.2 109.7L118.4 111.2L119.1 112.7L120.5 114L122.5 114.8L124.5 114.5L127.5 113.2L128.5 113.3L131.5 114.7L134 114.5L136 113.1L137.2 110.7L137.1 109.2L135.6 105.2L137.2 101.3L137.1 99.8L136.5 98.2L135 96.6L133 95.8L131.5 95.9L128.5 97.3L127.5 97.4L124 95.9L121.5 96Z" fill="#b2ff4c" stroke="#b2ff4c" stroke-width="0.6"/>
<path d="M121.5 96L124 95.9L127.5 97.4L128.5 97.3L131.5 95.9L133 95.8L135 96.6L136.5 98.2L137.1 99.8L137.2 101.3L135.6 105.2L137.1 109.2L137.2 110.7L136 113.1L134 114.5L131.5 114.7L128.5 113.3L127.5 113.2L124.5 114.5L122.5 114.8L120.5 114L119.1 112.7L118.4 111.2L118.2 109.7L119.8 105.2L118.4 101.8L118.2 100.3L119.2 97.8L121 96.3ZM121.4 96.8L119.6 98.3L118.8 100.3L118.9 101.8L120 105.2L118.8 109.2L118.9 110.7L119.6 112.2L121 113.6L123 114.2L124.5 114.1L127.5 113L131.5 114.2L134 113.8L135.8 112.2L136.6 110.2L136.5 108.7L135.4 105.2L136.6 101.3L136.5 99.8L135.8 98.3L134.5 97.1L132.5 96.4L131 96.5L128 97.6L127 97.5L124 96.4L121.5 96.7Z" fill="#ffe500" stroke="#ffe500" stroke-width="0.6"/>
<path d="M121.5 96.7L124 96.4L127 97.5L128 97.6L131 96.5L132.5 96.4L134.5 97.1L135.8 98.3L136.5 99.8L136.6 101.3L135.4 105.2L136.5 108.7L136.6 110.2L135.8 112.2L134 113.8L131.5 114.2L127.5 113L124.5 114.1L123 114.2L121 113.6L119.6 112.2L118.9 110.7L118.8 109.2L120 105.2L118.9 101.8L118.8 100.3L119.6 98.3L121.4 96.8ZM121.6 97.3L119.9 98.8L119.2 100.8L120.2 105.2L119.2 109.2L119.4 110.7L120 111.9L121.4 113.2L123 113.8L124.5 113.7L127.5 112.8L131.5 113.8L133.5 113.5L135.2 112.2L136.1 110.2L136.1 108.7L135.2 105.2L136.2 101.3L135.5 98.8L134 97.4L132.5 96.9L131 96.9L128 97.8L124 96.8L122 97.1Z" fill="#ff7f00" stroke="#ff7f00" stroke-width="0.6"/>
<path d="M122 97.1L124 96.8L128 97.8L131 96.9L132.5 96.9L134 97.4L135.5 98.8L136.2 101.3L135.2 105.2L136.1 108.7L136.1 110.2L135.2 112.2L133.5 113.5L131.5 113.8L127.5 112.8L124.5 113.7L123 113.8L121.4 113.2L120 111.9L119.4 110.7L119.2 109.2L120.2 105.2L119.2 100.8L119.9 98.8L121.6 97.3ZM122.9 97.3L121 98.3L119.7 100.3L119.7 102.3L120.4 105.2L119.6 109.2L120.1 111.2L121.5 112.7L123 113.4L124.5 113.4L127.5 112.6L131 113.4L132.5 113.3L134.6 112.2L135.7 110.2L135.8 108.7L135 105.2L135.8 101.8L135.3 99.3L134 97.9L132.5 97.3L131 97.2L127.5 98L124.5 97.2L123 97.3Z" fill="#ff1900" stroke="#ff1900" stroke-width="0.6"/>
<path d="M123 97.3L124.5 97.2L127.5 98L131 97.2L132.5 97.3L134 97.9L135.3 99.3L135.8 101.8L135 105.2L135.8 108.7L135.7 110.2L134.6 112.2L132.5 113.3L131 113.4L127.5 112.6L124.5 113.4L123 113.4L121.5 112.7L120.1 111.2L119.6 109.2L120.4 105.2L119.7 102.3L119.7 100.3L121 98.3L122.9 97.3ZM122.5 97.8L120.6 99.3L119.9 101.3L120.5 105.2L119.9 109.2L120.5 111.2L122 112.6L123.5 113.1L127.5 112.5L131 113.1L133 112.8L134.5 111.7L135.5 109.7L134.9 105.2L135.5 101.3L134.8 99.3L133.5 98L132 97.5L128 98.1L124.5 97.5L122.5 97.8Z" fill="#b20000" stroke="#b20000" stroke-width="0.6"/>
<path d="M122.5 97.8L124.5 97.5L128 98.1L132 97.5L133.5 98L134.8 99.3L135.5 101.3L134.9 105.2L135.5 109.7L134.5 111.7L133 112.8L131 113.1L127.5 112.5L123.5 113.1L122 112.6L120.5 111.2L119.9 109.2L120.5 105.2L119.9 101.3L120.6 99.3L122.5 97.8ZM126.6 100.8L124.5 101.5L123.5 102.8L123.1 104.8L123.3 107.2L124 108.7L125 109.4L126.5 109.8L128.5 109.9L130.5 109.4L131.7 108.2L132.2 106.7L132.2 103.8L131.6 102.3L130.5 101.2L129 100.8L127 100.7Z" fill="#7f0000" stroke="#7f0000" stroke-width="0.6"/>
<path fill="none" stroke="#e0102c" stroke-width="1" stroke-opacity="0.64" d="M116.9 104.6L114.4 105L109.1 105L61.6 104.6L43.1 104.1L37.8 103.8L32.9 103L31.3 102.3L30 101L29.3 98.5L28.8 88L28.8 51.1L29.4 22.2L30 14.3L31.2 6.5M29.9 31.6L30.7 23.8L32.2 16L33.9 11L35.1 8.7L36.5 6.5M35.9 10.6L37.4 8.4L39.2 6.5M38.1 10.1L39.9 8.2L41.9 6.5M33 24.4L34.7 19.5L35.9 17.1L38.9 12.8L42.7 9.2L47.2 6.5M45.4 9.7L47.7 8.5L52.6 6.5M50.4 8.8L52.8 7.9L57.9 6.5M60.7 7.1L66 6.5M74 6.5L81.9 7.2L89.6 8.9L97 11.7L101.6 14.2L105.9 17.3L107.9 19.1L111.4 22.9L114.5 27.2L118.1 34.2L120 39.2L121.6 44.2L122.8 49.3L124.3 57.1L125.3 64.9L126 72.8L126.5 83.3L126.6 91.2L126.1 93.7L125.1 94.9L121.7 97.2L119.8 99L116.5 103.1L114.7 103.8M90 6.5L97.5 9.3L102.1 11.8M98.1 6.5L102.7 9L107 12.1L108.9 13.9L112.4 17.8L115.3 22.2L117.8 26.9L119.7 31.8L122 39.3M106.1 6.5L110.1 9.9L111.9 11.9L115 16.1L118.6 23.1L120.5 28.1L121.9 33.1M108.8 6.5L112.4 10.3L115.5 14.5M114.1 6.5L117 10.9L119.3 15.6L121.8 23.1L123.5 30.8L124.7 38.6L125.8 49.1L126.5 59.6L127.1 72.8M119.5 6.5L121.4 11.4L122.8 16.5M124.8 6.5L125.8 14.3L126.5 24.8L127.3 51.2M127.5 6.5L127.6 17M130.2 6.5L129.4 14.4L128.8 22.2M132.9 6.5L131.6 11.6M138.2 6.5L137 8.8L134.9 13.7L133.4 18.7L132.2 23.8L130.2 36.8L128.9 52.6M143.6 6.5L141.8 8.5L138.9 12.9L136.6 17.6L134.7 22.5M146.2 6.5L142.6 10.3M148.9 6.5L146.9 8.2L143.2 12L140.1 16.2L137.6 20.9M154.3 6.5L149.8 9.4L145.9 12.8L142.4 16.8L139.6 21.2L137.2 25.9L134.5 33.4L133.1 38.4L131.5 46.2M159.6 6.5L154.9 8.8M165 6.5L157.6 9.3L153 11.9L148.7 15L146.8 16.8L143.3 20.8M173 6.5L167.8 7.5L162.8 9.1M181 6.5L175.8 6.9M219.2 28.9L216.6 24.3L215.1 22.2L213.3 20.3L209.2 17L204.6 14.4L199.6 12.6L194.5 11.4L189.3 10.6L184 10.4L176.1 10.8L170.9 11.6L165.8 12.9L160.8 14.6L156.1 16.9L151.6 19.8L147.6 23.2L144.1 27.1L141 31.4L138.5 36L136.4 40.8L134.6 45.8L132.6 53.4L131.5 58.6L130.4 66.4L129.2 82.2L129 87.4L129.1 92.1L129.7 93.9L131 95.2L133.1 96.7L135.1 98.5L138.7 103.3L140 104L142.6 104.2L147.9 104.2L192.8 102.8L208.6 101.7L213.8 100.9L218.8 99.5L221.1 98.2L223 96.4L224.2 94.1L225.2 88.9L225.7 81.1L225.7 67.9L225.3 54.7L224.7 46.8L223.8 39L222.3 31.3L220.6 26.3L218.3 21.5L215.2 17.3L213.4 15.4L209.1 12.3L204.4 10L199.4 8.3L194.2 7.2L186.4 6.5M221.1 23.6L218.9 18.9L217.4 16.6L213.9 12.7L209.7 9.6L207.3 8.4L202.4 6.5M212.3 9.1L207.8 6.5M224.3 29.5L222.8 21.7L221.1 16.7L220 14.4L217 10L215.2 8.2L213.1 6.5M221.2 11L220 8.7L218.5 6.5M226.5 51.8L226.2 32.7L225.8 22.1L225.2 14.3L223.8 6.5M226.5 11.8L226.4 6.5M160.7 104.9L205.6 104.4L216.1 104L221.4 103.3L223.2 102.8L225 101.7L225.9 99.8L226.3 97.2L226.5 91.9M218.7 105L225.1 104.5L226.1 103.9L226.5 102.6M225.2 106.9L226.1 108L226.5 110.6M226.3 113.3L226.5 118.6M226.4 121.3L226.5 126.6M226.5 129.3L226.5 134.6M226.5 137.3L226.2 168.9L225.6 184.7L224.4 195.1L223.2 200.2L221.8 204M226.5 190.7L226.2 204M222.2 197.1L220 201.8L218.5 204M219.2 200L217.6 202.1L215.8 204M217 200.5L215.2 202.3L213.1 204M225.1 168.1L224.3 176L223.5 181.1L222.3 186.3L220.5 191.2L217.9 195.8L216.2 197.8L212.3 201.4L207.8 204M209.7 200.8L207.3 202.1L202.4 204M204.6 201.3L199.6 202.9L194.4 204M191.6 203.6L186.4 204M183.7 204L175.8 203.5L170.6 202.7L162.9 200.6L158.1 198.6L153.5 196L149.2 192.9L145.5 189.2L143.8 187.2L140.7 182.9L138.2 178.3L135.3 170.9L133.1 163.4L131.5 155.6L130 145.2L129.1 132.1L128.8 121.5L128.9 118.9L129.6 116.5L134.4 112.8L139 107.4L141 106.8L148.3 106.7L187.8 108.2L198.4 108.9L206.3 109.6L211.5 110.4L216.6 111.8L219 112.9L221.1 114.5L222.6 116.5L223.7 118.9L224.7 124.1L225.1 129.3M165 204L160 202.2L155.2 200L150.8 197.1L146.8 193.7M159.6 204L154.9 201.7L150.4 198.9M151.6 204L147.4 200.8L143.7 197.1L140.6 192.8L138 188.2L136 183.4L133.6 175.8L131.9 168.1L130.3 157.7M146.2 204L144.3 202.2L141 198.1M140.9 204L139.4 201.8L136.9 197.2L134.1 189.8L131.7 179.6L130.3 169.1M135.5 204L133.7 199.1L132.4 194M130.2 204L129.2 193.5L128.4 177.7L128 156.7L127.8 127.7M127.5 204L127.6 188.2M124.8 204L126 193.5M122.1 204L123.5 198.9M116.8 204L118.1 201.7L120.2 196.9L122.5 189.3L124.4 179L126.1 163.3M111.4 204L114.8 199.9L116.2 197.7L118.6 193L121.2 185.6L123.1 177.9M108.8 204L112.4 200.2M106.1 204L108.2 202.4L111.9 198.6L115 194.4L117.5 189.8M100.7 204L105.2 201.2L107.3 199.5L111 195.9L114.2 191.7M95.4 204L100.2 201.8L102.4 200.4L106.7 197.3L108.6 195.5M90 204L97.4 201.2M82 204L87.2 203L92.3 201.5M74 204L79.3 203.6M100.2 106.6L60.6 107.9L50.1 108.6L42.2 109.6L37.1 110.9L34.8 112.1L32.8 113.8L31.5 116L30.7 118.5L30 123.8L29.6 134.3L29.8 147.4L30.4 160.6L31.2 168.5L32.5 176.2L33.8 181.3L35.7 186.3L38.3 190.8L41.8 194.8L43.8 196.5L48.2 199.2L53.1 201.3L58.2 202.7L63.4 203.5L71.3 204M33.3 184.1L35.1 189.1L36.3 191.4L39.3 195.7L41.2 197.6L45.4 200.8L47.7 202L52.6 204M42.7 201.3L47.2 204M31 180.8L32.5 188.6L34.1 193.6L35.2 196L38.1 200.4L39.9 202.3L41.9 204M33.9 199.5L35.1 201.8L36.5 204M28.7 151.5L29.4 188.3L30 196.2L31.2 204M28.5 198.7L28.9 199L29 204M42.1 106.9L36.8 107.5L34.2 108L32.3 108.6L30.7 109.9L29.7 112.2L29.3 114.8L28.9 123.5L28.5 123.9M36.4 105.3L28.5 105.2M28.5 14.5L28.9 14.1L29.1 6.5M55.3 9.2L60.4 8M63.3 9.2L68.5 8.7L73.8 8.7L79.1 9L84.3 9.8M172.8 8.1L167.6 9.2M196.9 10.4L189 9.2M224.7 19.7L223.8 14.5M223.8 88.7L224.5 83.5L224.8 75.6L224.6 65L223.8 54.5M218.7 106.8L221.3 107.2L223.8 107.9L225.1 108.9M201.7 107.6L212.2 108.5L217.4 109.4L219.9 110.2L222.1 111.4L223.8 113.3M223.8 131.9L223.9 137.2L223.6 145.1L222.8 153L222 158.2L220.9 163.3L219.3 168.3L217.2 173.1L215.9 175.4L212.7 179.7L210.9 181.5L208.9 183.3L204.6 186.2L202.2 187.4L197.3 189.3L189.6 191L184.3 191.5L179 191.5L173.8 191L168.6 190L163.5 188.5L158.7 186.4L154.1 183.8L149.9 180.6L147.9 178.9L144.4 175L141.3 170.7L138.7 166.2L136.5 161.4L134.7 156.4L133.2 151.4L131.6 143.6M223.8 156L222.7 163.8M199.7 201.3L194.6 202.5M191.7 201.3L183.8 201.8L175.9 201.4L168.1 200L163.1 198.5M82.2 202.4L87.4 201.3M60.9 200.8L68.8 201.7L74.1 201.7L79.3 201.3M31.2 126.9L30.8 137.4L31.2 148M34.9 110.1L32.8 111.3L31.2 113.3M34.9 100.5L32.8 99.2L31.2 97.2L30.3 94.8M31.2 91.9L30.3 86.7L29.9 78.8L29.9 68.3L30.3 57.8L30.9 49.9L31.9 42.1L32.8 36.9L34.2 31.8L36.2 26.9L37.4 24.6L40.5 20.3L42.3 18.4L44.3 16.7L48.8 13.9L51.2 12.8L56.1 11.1M36 21.6L38.8 17.2L40.5 15.2L44.6 11.8M57.9 11.8L65.7 10.5M68.6 11.8L73.9 11.8L79.2 12.1L87 13.5L94.5 16L99.2 18.3L101.5 19.6L105.7 22.8L107.7 24.6L109.5 26.4L112.8 30.5L116.8 37.3L119 42.1L120.7 47.1M87.5 11.1L95 13.6L99.7 16L102 17.4M162.1 10.8L157.2 13L154.9 14.2M186.3 11.9L181 11.8M222.5 41L221.1 35.9L219.3 30.9M222.3 49L221.1 43.9M222.1 57L221.1 51.9M171 101.2L189.4 100L202.5 98.3L210.2 96.5L215 94.3L217.1 92.7L218.8 90.8L220.2 88.5L221.1 86L222.1 80.9L222.4 75.6L222.3 70.3L221.9 65.1L221.1 59.9M212.8 97.8L215.2 96.9L217.5 95.6L219.6 94L221.1 91.9M210.2 112L215.2 113.6L217.5 114.9L219.5 116.5L221.1 118.6L222.3 121M221.1 123.9L221.8 126.5L222.5 131.7M221.1 134.6L221.1 139.9L220.6 145.1L219.1 152.9L216.6 160.4L214.2 165L212.8 167.2L209.4 171.3L207.5 173.1L203.2 176.2L201 177.6L196.1 179.7L193.6 180.5L188.5 181.7L180.6 182.4L175.3 182.2L170.1 181.5L162.5 179.3L157.7 177.2L155.4 175.9L151 173L149 171.3L147.1 169.5L143.6 165.5L139.2 159L136.9 154.2L135 149.3M221.1 169.3L219.5 174.3L218.4 176.7L215.8 181.3L212.4 185.3L208.4 188.7L203.8 191.3L201.4 192.4L196.4 194L191.2 195L183.3 195.6L175.4 195.2L167.6 193.7L160.2 191.1L155.5 188.7L151.1 185.7L149.1 184L145.4 180.3L142.2 176.1L138.2 169.3M221.9 174.8L220.3 179.8L218 184.6L215 188.9L213.2 190.8L209.1 194.1L204.5 196.6L199.5 198.4L194.4 199.6M219.2 189L216.3 193.4L214.5 195.3L210.4 198.7M210 197.3L205.4 199.8M191.7 198.7L186.5 199.2L181.2 199.2L175.9 198.8L170.7 198M148.9 198.7L145.1 195L143.4 193L140.4 188.7M98.4 199.9L103 197.3M90.2 199.5L95.2 197.7L99.9 195.3L104.3 192.4L106.3 190.8L108.3 189L111.7 185L116 178.4L119.3 171.2L121 166.2L122.4 161.1L123.5 156L124.8 148.2L126 135.1M82.2 199.7L87.4 198.7M33 170.3L35.3 177.9L37.5 182.6L38.9 184.9L42.3 188.9L44.2 190.7L48.6 193.7L50.9 194.9L55.8 196.7L63.5 198.5L71.4 199.1L79.3 198.7M47.8 196.5L50.1 197.6L55.1 199.5M32.8 161.5L33.9 166.6M32.6 150.8L33.9 158.6M84.6 109.4L66.2 110.6L53.1 112.2L45.4 114.1L40.6 116.2L38.5 117.8L36.7 119.7L35.3 122L34.4 124.4L33.8 127L33.1 132.2L33 137.5L33.3 142.7L33.9 148M41.2 114.1L38.8 115.3L36.7 116.9L35.1 118.9L33.9 121.3M38 112.8L35.7 114.1L33.9 115.9M101.5 103.9L64.6 102.7L48.8 101.6L43.6 100.9L38.4 99.7L36 98.7L33.9 97.2M38 97.8L35.7 96.4L33.9 94.6L32.5 92.3M33.9 89.2L32.5 84.2M33.9 81.2L33.5 76L33.5 70.7L34 65.5L34.7 60.3L35.9 55.1L37.5 50.1L39.6 45.3L40.9 43L44 38.7L45.8 36.8L47.7 35L52 32L54.3 30.7L59.1 28.6L64.2 27.2L69.4 26.4L74.7 26.1L80 26.3L87.8 27.6L92.8 29.2L97.6 31.4L102.2 34.1L104.3 35.6L106.3 37.3L110 41L113.3 45.1L116.1 49.6L118.4 54.3L120.4 59.2L121.9 64.3L123.1 69.4M33.9 57.2L34.9 52.1M33.9 49.2L36.1 41.6L38.2 36.8L41 32.4L42.7 30.3L46.5 26.7L50.9 23.8L53.3 22.6L58.2 20.8L65.9 19.1L73.8 18.6L81.7 19.2L89.4 20.9L96.8 23.8L101.4 26.4L103.5 27.9L107.5 31.3L109.4 33.2L112.7 37.3L116.8 44.1L119.9 51.3M33.2 43.8L35.4 36.2L37.6 31.4L38.9 29.1L42.2 25L44.1 23.1L48.3 20L50.6 18.7L55.5 16.7L60.5 15.3L65.8 14.4L71 14L76.3 14.1L84.1 15.1M40.1 24.6L43.8 20.8L48.1 17.7L52.8 15.4L57.8 13.8M104 12.9L108.1 16.3L111.6 20.1M172.8 13.4L165.1 15.2L160.2 17.1M216 28.5L212.7 24.5L208.6 21.1L204.1 18.4L199.2 16.5L194.1 15.2L188.8 14.4L183.6 14.1L175.7 14.5M219.5 38.3L217.3 33.5L214.4 29.1L210.8 25.3L206.5 22.2M219.4 46.3L217.4 41.5L216.2 39.1L213.3 34.7L209.7 30.9L207.6 29.2L203.2 26.4L198.4 24.3L195.9 23.4L190.7 22.2L182.9 21.4L175 21.8L167.2 23.3L162.2 25L157.4 27.2L155.1 28.5L150.8 31.5L146.9 35L145.1 37L141.9 41.2L138 48L135 55.3M219.2 54.4L216.5 47L214 42.4L210.8 38.2L206.9 34.6L202.6 31.7L200.2 30.4L195.3 28.5L190.2 27.2L182.4 26.3L174.5 26.6L166.7 28L161.7 29.7L159.3 30.8L154.6 33.3L150.4 36.4L148.4 38.1L144.7 41.9L141.5 46.1L137.7 53M219.7 62.3L218.5 57.2M186.8 98.4L197.3 96.9L205 95.1L209.9 93.2L212.1 91.8L214.2 90.2L215.9 88.2L217.2 85.9L218.2 83.5L218.8 80.9L219.2 78.3L219.3 73.1L218.5 65.2M218.5 97.2L220.6 95.7L222.2 93.6M214.3 115.4L216.5 116.8L218.5 118.6M214.9 117.5L216.8 119.2L218.5 121.3L219.7 123.6M218.5 126.6L219.5 131.7L219.7 137L219.4 142.3L218.5 147.5M218.5 161.3L216.4 166.1L213.7 170.7L210.4 174.7L206.4 178.2L202 181L197.1 183.1L192.1 184.6L186.9 185.5L181.6 185.8L173.7 185.4L168.5 184.4L163.5 182.9L158.6 180.9L156.3 179.7L151.9 176.8L147.8 173.4L144.3 169.5M204.6 194.1L199.7 196L194.6 197.3M170.2 196.6L165.1 195.3M162.3 196L157.5 193.8L155.2 192.6L150.8 189.6L146.9 186.1L145.1 184.1L141.9 179.9M90.2 196.8L97.5 193.9L102.1 191.2L106.3 188L108.2 186.2L111.7 182.3M82.2 197.1L87.4 196M39.2 181.6L42.5 185.7L46.5 189.1L51 191.8L55.9 193.8L61 195.2L66.2 196L71.4 196.3L79.3 196M35.6 169.5L37.6 174.4L38.9 176.7L41.9 181L45.7 184.7L47.8 186.2L52.4 188.9L54.8 189.9L59.8 191.5L67.6 192.9L72.9 193.2L78.1 193L86 191.8L93.5 189.4L98.3 187.2L100.6 185.8L104.8 182.8L106.8 181.1L110.5 177.2L115 170.8L118.6 163.7L121.2 156.3L123.2 148.7M35.7 161.5L37.5 166.4L38.6 168.8L41.3 173.3L44.7 177.4L48.7 180.8L53.2 183.5L55.6 184.6L60.6 186.3L65.7 187.4L73.6 188.1L81.5 187.6L89.3 186L96.6 183.1L101.2 180.5L105.4 177.4L107.4 175.6L111 171.8L114.1 167.5L117.9 160.6M35.3 150.8L37.3 158.5L39.3 163.3L42 167.9L43.5 170L47.1 173.9L51.3 177.1L55.9 179.6L60.8 181.5L63.4 182.2L68.6 183.1L73.8 183.5L81.7 183.2L89.5 181.6L94.5 179.8L99.2 177.5L101.4 176.1L105.7 173L109.5 169.3L111.2 167.3L114.3 163.1M49.3 115.2L44.4 117.2L42.1 118.5L40.1 120.2L38.5 122.3L37.2 124.6L36.3 127.1L35.8 129.6L35.3 134.9L35.4 140.1L36.5 148M79.5 101.2L61.1 99.9L53.2 98.8L48 97.8L43 96.3L40.6 95.2L38.4 93.7L36.5 91.9M40.1 93.1L38.1 91.3L36.5 89.2L35.4 86.9M36.5 83.9L35.5 78.7L35.4 73.5L35.7 68.2L37.1 60.5M60.6 17.2L65.8 16.3L71.1 15.9M74 17.2L79.3 17.5L84.5 18.3M87.4 17.2L94.8 19.7L99.6 22.1L103.9 25.1L107.9 28.5M172.8 16.1L167.6 17.2L162.6 18.8L157.8 20.9L153.3 23.6L151.1 25.2L147.2 28.7L143.7 32.7L140.8 37M208.5 24.2L206.3 22.8L201.6 20.4L199.1 19.4L194 18L186.2 16.9L180.9 16.8L175.7 17.2M216.8 54.3L214.7 49.5L211.9 45L208.5 41L204.4 37.6L199.9 34.9L195.1 32.8L190 31.3L184.8 30.5L179.6 30.2L171.7 30.8L166.5 31.9L161.5 33.5L156.7 35.8L152.2 38.6L148.2 41.9L146.3 43.7L142.9 47.7M216.6 62.4L214.9 57.4L213.8 55L211.2 50.4L209.7 48.3L206.1 44.4L204.1 42.7L199.7 39.8L197.4 38.6L192.5 36.6L189.9 35.9L184.8 34.9L176.9 34.5L169 35.3L163.9 36.6L161.4 37.5L156.6 39.7L154.3 41L150 44L148 45.7L144.3 49.5L142.7 51.6L139.7 55.9L136.2 63L133.8 70.5L132.6 75.7L131.8 80.9M206.4 92.4L208.8 91.2L210.9 89.7L212.8 87.9L214.3 85.7L215.5 83.4L216.3 80.9L216.9 75.7L216.7 70.4L215.8 65.2M157.4 109.4L186.3 111.9L199.4 113.7L204.5 114.9L209.5 116.7L211.8 117.9L213.9 119.4L215.8 121.3M207.8 117.3L210.2 118.5L212.3 120L214.2 121.8L215.8 123.9L217 126.3M215.8 129.3L216.3 131.8L216.6 137.1L216.1 142.3L214.9 147.5L213 152.4L210.5 157L207.3 161.2L205.5 163.1L203.5 164.8L199.2 167.9L194.5 170.2L189.5 171.9L184.3 173L179.1 173.4L173.8 173.3L168.6 172.6L163.5 171.3L158.5 169.4L153.9 167L151.7 165.5L149.6 163.9L145.7 160.3L142.3 156.3L139.4 151.9L137 147.2L135.1 142.3L133.7 137.3L132.2 129.5L131.6 124.3L131.4 121.6L131.7 119L132.5 117L133.8 115.3M216.6 150.8L214.8 155.7L212.3 160.4L209.2 164.6L207.4 166.6L203.4 170L198.9 172.7L194.1 174.8L189 176.3L183.8 177.1L178.6 177.4L173.3 177.1L168.1 176.3L163 174.8L158.1 172.8L153.5 170.2L149.3 167.1M215.8 185.3L214.1 187.4L210.3 190.9M215.8 190.7L212.1 194.4M191.7 193.3L183.8 194.1L178.6 194L173.3 193.4M108.8 193.3L110.6 191.4L113.8 187.2L116.4 182.7L118.7 177.9M106.1 193.3L108.1 191.6L111.6 187.7M90.2 194.2L97.5 191.2L102.1 188.5L104.2 187L106.2 185.3L110 181.5L113.2 177.4L115.9 172.9M40.7 189.7L44.6 193.3M38.3 153.5L40.2 158.4L42.8 163L46 167.2L47.8 169.1L49.8 170.8L54.1 173.8L58.9 176.1L63.9 177.8L69 178.8L74.3 179.3L79.6 179.3L84.8 178.6L89.9 177.4L94.9 175.7L99.6 173.4L101.9 172L106.1 168.8L108.1 167L111.6 163.2L114.7 158.9L118.4 151.9L120.4 147L122.5 139.4L123.8 131.6L124.6 123.8L124.7 121.2L124.4 118.6L123.5 116.7L116.6 109.7L114.2 108.6L112 108.4L104.1 108.8M37.9 145.5L39.2 150.6M83 112L67.2 113.7L56.9 115.6L51.8 117.1L49.4 118.1L47 119.3L44.9 120.8L42.9 122.6L41.3 124.7L40.2 127L39.3 129.5L38.6 134.8L38.6 137.4L39.2 142.6M44.8 118.4L42.6 120L40.7 121.8L39.2 123.9M44.5 103.1L39.2 102.6M66 98.5L55.5 97L47.9 94.9L43.1 92.7L41 91.1L39.2 89.2M44.7 92.1L42.6 90.6L40.7 88.7L39.2 86.6L38.1 84.2M39.2 81.2L38.7 78.6L38.5 73.4L38.6 70.8L39.5 65.6L41 60.5L42 58.1L44.4 53.4L45.9 51.3L49.3 47.3L51.3 45.5L55.6 42.4L57.9 41.2L62.7 39.1L65.2 38.3L70.4 37.2L78.3 36.6L86.2 37.3L91.3 38.6L93.8 39.4L98.6 41.5L100.9 42.8L105.3 45.8L107.3 47.5L109.2 49.3L112.7 53.3L114.2 55.4L116.9 59.9L120.1 67.1M38.4 59.7L40.2 54.8L41.3 52.4L44 47.9L47.4 43.8L51.3 40.3L55.8 37.5L60.6 35.4L65.6 33.8L73.5 32.7L81.4 32.8L86.6 33.6L91.7 35L94.2 35.9L98.9 38.1L103.4 40.9L107.5 44.2L111.1 48L115.7 54.5M39.2 51.9L41.6 47.2M39.2 43.9L41.9 39.4M104 18.2L108 21.6L111.6 25.5M124.8 19.8L125.7 27.7M150.9 18.2L147 21.6L145.2 23.6L142 27.7M172.8 18.7L165.1 20.6L160.2 22.5L155.5 24.9L153.3 26.3L149.1 29.6M194 20.9L186.2 19.7L180.9 19.5L175.7 19.8M214.8 32.6L211.3 28.6L209.3 26.9M214.6 40.7L211.5 36.5L209.6 34.6L205.5 31.3M214.1 62.3L212 57.5L210.8 55.2L207.7 50.9L205.9 48.9L204 47.1L199.8 44L195.1 41.5L190.2 39.7L185.1 38.5L179.8 37.9L174.5 37.9L169.3 38.5L164.2 39.7L159.2 41.5L154.5 43.9L152.3 45.3M214.2 70.4L213.1 65.2M137.3 98.1L139.1 99.6L141.4 100.6L144 100.9L146.7 100.8L185.9 95.5L193.7 94L198.8 92.5L203.6 90.5L205.9 89.2L208 87.5L209.8 85.6L211.2 83.4L212.2 81L212.9 78.5L213.1 73.2M209.3 120.3L211.4 122L213.1 123.9M211.7 124.4L213.1 126.6L214.1 129M213.1 131.9L213.4 137.2L212.7 142.4L211.2 147.4L208.8 152.1L205.8 156.4L202 160.1L197.8 163.2L195.5 164.5L190.7 166.6L185.6 168.1L180.4 168.9L177.7 169L172.5 168.9L167.2 168.2L162.1 166.9L159.7 166L154.9 163.7L150.5 160.9L146.4 157.4M214.7 172.5L211.4 176.6L207.5 180.2L203.1 183L200.7 184.2L195.8 186L190.6 187.3L182.8 188.1L174.9 187.8L169.7 186.9M204.6 188.5L202.2 189.7L197.2 191.5M165 190.7L157.7 187.6L153.2 184.9M63.6 190.4L71.5 191.2L76.8 191.2L82 190.7M40.3 175.2L43.6 179.3L45.5 181.1L49.7 184.3L54.4 186.7L56.8 187.7L61.9 189.2M41.9 172L45.3 176L47.3 177.7M40.8 153.6L43.1 158.3L46.1 162.6L47.9 164.6L51.8 168.1L54 169.6L58.6 172.1L63.5 174L68.6 175.2L73.9 175.9L79.2 176L84.4 175.4L89.6 174.4L94.6 172.7L99.4 170.5L103.8 167.6L105.9 166M41.1 145.4L42.8 150.4L44 152.8L46.7 157.3L48.4 159.3L50.2 161.3L54.2 164.7L56.4 166.1L61.1 168.5L63.5 169.5L68.6 170.9L71.2 171.4L76.4 171.9L81.7 171.9L86.9 171.2L92.1 169.9L94.5 169.1M48.1 121.3L46.1 122.9L44.3 124.9L43 127.2L42 129.6L41.4 132.2L41.2 134.8L41.2 137.4L41.9 142.6M60.3 95.7L52.7 93.7L47.8 91.6L45.6 90.3L43.6 88.6L41.9 86.6L40.6 84.3M41.9 81.2L41.3 78.7L41 76.1L41.2 70.8L41.6 68.2L43.1 63.2L45.3 58.4L48.2 54L51.7 50.1L55.9 46.8L58.1 45.5L62.9 43.2L67.9 41.6L70.5 41L75.7 40.3L78.3 40.2L83.6 40.5L88.8 41.3L93.9 42.8L96.3 43.7L101.1 46.1L105.4 49L109.4 52.5M40.4 38L43.6 33.8L45.4 32L49.5 28.7L54.1 26.1L56.6 25.1L61.6 23.5L66.8 22.5L72 22.1L77.3 22.1L82.6 22.7L87.7 23.8L92.8 25.4L97.6 27.5L102.1 30.2L104.2 31.8L108.2 35.3M38.8 32.1L41.9 27.9L45.7 24.2M153.7 21L149.5 24.2L147.6 26M204.5 24.8L199.7 22.5M212 48.7L208.7 44.5L206.9 42.7L202.8 39.4M211.7 59.5L209.1 55M211.2 67.7L209.4 62.8L206.9 58.2L203.5 54.1L201.6 52.3L197.4 49.1L192.8 46.6L190.3 45.6L185.3 44.1L180.1 43.3L177.5 43.1L172.2 43.2L167 43.9L164.4 44.5L159.4 46.1L154.6 48.4L152.3 49.8L148.1 52.9L144.4 56.6L142.7 58.6L139.7 62.9L137.3 67.6L134.6 75.1M208.7 83.3L209.8 80.9L210.5 78.4L210.8 75.8L210.4 70.6M202.6 101L210.4 99.9M161.2 112L184.8 115.1L192.6 116.5L197.6 117.9L202.5 119.9L204.9 121.1L207 122.7L208.9 124.5L210.4 126.6L211.6 129M210.4 131.9L210.8 134.5L210.8 137.2L209.9 142.4L208.1 147.3L206.8 149.6L203.8 153.9L200 157.6L197.9 159.2L193.4 161.8L188.5 163.9L186 164.6L180.8 165.6L175.6 166L170.3 165.8L167.7 165.4L162.5 164.2L160 163.4L155.2 161.2L150.7 158.5L148.6 156.9L144.8 153.3L141.5 149.2L140 147L137.5 142.3M210.4 166.6L206.8 170.4L202.6 173.6L197.9 176.1L193 177.9L187.8 179.1L182.6 179.7L174.7 179.6L169.5 178.9M137.5 192.8L134.7 185.5M116.8 188L119.9 180.7M43.6 145.5L45.7 150.3L47 152.6M45.7 127.3L44.6 129.7L44 132.2L43.7 134.8L43.7 137.4L44.6 142.6M52.4 109.5L44.6 110.6M48.5 90L46.4 88.4L44.6 86.6M57.2 92.7L52.4 90.7L50.1 89.4L47.9 87.9L46.1 86L44.6 83.9L43.4 81.5M44.6 78.6L44.2 76L44.2 73.3L45.1 68.1L46.9 63.2L49.6 58.7L53 54.7L57 51.2L61.5 48.5L66.3 46.5L71.4 45.1L76.7 44.3L79.3 44.2L84.6 44.4L89.8 45.2L94.8 46.7L99.7 48.8L104.2 51.5L108.3 54.7L112 58.5L113.6 60.6L116.4 65.1L117.6 67.4L119.6 72.3L121.7 79.9L122.6 85.1L122.8 90.3L122.2 92.8L120.8 95L117.2 98.6L114.9 99.9L112.4 100.5L107.1 100.2L91.4 97.7L73.1 95.2L65.4 93.8L60.3 92.4M44.6 43.9L48.2 40L52.3 36.8L57 34.3L61.9 32.4L67 31.1L74.9 30.3L82.8 30.8L88 31.8M44.6 41.2L46.3 39.3L50.3 35.8M60.6 25.2L65.8 24M82 25.2L87.2 26.2M172.8 24.1L167.6 25.2M191.6 26L186.4 25.2M208.7 67.7L206.6 62.8L203.7 58.5L200.1 54.7L198 53L193.6 50.2L188.8 48.1L186.2 47.3L181.1 46.1L178.5 45.8L173.2 45.7L167.9 46.2L165.3 46.7M187.7 92.9L192.7 91.5L197.7 89.6L202.2 87L204.2 85.2L205.8 83.2L207.1 80.9L207.9 78.4L208.2 75.8L208.2 73.2L207.8 70.6M199.5 120.2L204.1 122.9L206.1 124.6L207.8 126.6L209.1 128.9M207.8 131.9L208.2 134.5L208.2 137.2L207.8 139.8L207.1 142.3L205 147.1L203.6 149.3L200.2 153.4L196.2 156.7L191.6 159.4L189.2 160.4L184.2 162.1L179 163L173.7 163.3L168.5 163L163.3 162L158.3 160.3L155.9 159.2M207.8 164L203.9 167.5M165 185.3L160 183.4L157.7 182.3L153.2 179.5M130.2 185.3L129.7 180.1M79.6 186.6L87.4 185.3M63.6 184.1L68.8 185L76.7 185.3M46 148.3L48.6 152.8L52 156.9L56 160.3L58.2 161.8L62.8 164.3L67.8 166L73 167.2L78.2 167.7L83.5 167.5L86.1 167.2L91.3 166.2L93.8 165.4L98.7 163.4L103.3 160.8L107.5 157.7L111.2 154L114.4 149.8L117.1 145.3L120.1 138M113.4 110.6L110.8 110.5L105.5 111L92.5 113.2L74.3 116L66.5 117.5L58.9 119.8L54.2 122.1L52 123.5L50.1 125.3L48.4 127.4L47.2 129.7L46.5 132.2L46.2 134.8L46.2 137.5L47.2 142.6L49.3 147.4L52.2 151.8L55.9 155.6L60.1 158.7L64.8 161.1L69.8 162.9L75 163.9L80.2 164.4L85.5 164.1L88.1 163.8L93.2 162.6L98.2 160.8L102.8 158.3L107.1 155.2L110.9 151.6L114.2 147.5M55.4 90.4L50.8 87.7L48.9 85.9L47.2 83.9L46 81.6M47.2 78.6L46.9 76L46.9 73.3L47.2 70.7L48.8 65.7L51.4 61.1L53 59L56.7 55.3L58.8 53.7L63.3 51L65.7 49.9L70.7 48.3L73.3 47.7L78.5 47L83.8 47L86.4 47.2M44 50.7L47.2 46.5L51.1 42.9M47.2 33.2L51.5 30.1M68.6 27.9L73.9 27.4L79.2 27.6M132.9 27.9L131.8 33M162.3 27.9L157.5 30L155.2 31.3M183.6 28L178.3 27.9M202.1 29L199.7 27.9L194.8 26.1M205.1 35.9L200.6 33.1M205.1 51.9L201.2 48.3L196.8 45.5L192 43.3L186.9 41.7L181.7 40.8L176.5 40.5L171.2 40.8L166 41.7M206.3 64.9L203.6 60.4M206.3 73L205.9 70.4L205.1 67.9M198.5 86.7L200.6 85.1L202.4 83.2L203.8 80.9L204.7 78.5L205.1 75.9M201.2 123.1L203.3 124.7L205.1 126.6M203.7 127.1L205.1 129.3L206 131.7M205.1 134.6L205.1 137.2L204.6 139.8L203.8 142.3L202.7 144.7L199.8 149.1L198 151L193.9 154.3L189.3 156.9L186.9 158L181.9 159.5L176.7 160.3L174 160.5L168.8 160.3M53.1 180.5L57.9 182.6M49.9 158.6L53.8 162.2M49.8 129.8L49 132.3L48.6 134.9L48.7 137.5L49.1 140.1L49.9 142.6L52.2 147.3M54.6 118.9L49.9 121.3M53.7 87.5L51.7 85.8L49.9 83.9M51.3 83.5L49.9 81.2L49 78.8M49.9 75.9L50 73.3L50.4 70.7L51.2 68.2L53.6 63.5L57 59.5L61 56.1L65.6 53.5L70.5 51.5L75.6 50.3L80.9 49.8L86.1 49.9L88.8 50.2L93.9 51.4L98.9 53.2L103.5 55.7L107.8 58.8L111.5 62.4L114.7 66.6M49.9 54.5L51.7 52.6L55.7 49.2M140.7 25.9L138.2 30.5L135.2 37.8M202.4 43.9L197.9 41.1M202.4 62.5L200.8 60.5L197.1 56.8L192.7 53.8L188 51.5L182.9 49.9L177.7 49L172.5 48.8L167.2 49.3L162.1 50.4L157.1 52.1L152.4 54.6L148.1 57.6L144.3 61.2L142.6 63.2L139.6 67.6L137.3 72.3M203.6 67.6L201 63M201.7 80.8L202.6 78.3L203.1 75.7L203 73.1L202.4 70.6M197.3 114.6L202.4 115.9M164 114.9L182.1 118.3L187.2 119.6L192.2 121.3L196.9 123.7L199.1 125.3L200.9 127.1L202.4 129.3L203.5 131.7M202.4 134.6L202.4 137.2L201.8 139.8L200.9 142.3L199.7 144.6L196.5 148.7L194.6 150.5L190.3 153.6M202.4 153.3L198.6 156.9M151.6 180L149.5 178.3L145.8 174.6M84.9 181.2L90 180M60.8 179.2L65.9 180.6M48.6 163.2L52.6 166.6M51.4 142.9L52.6 145.3L55.6 149.6L57.4 151.5L61.5 154.8L63.8 156.2L68.6 158.4L71.1 159.2L76.2 160.3L81.5 160.8L86.7 160.6L91.9 159.7L94.5 159L99.4 157.1L101.8 155.9L106.2 153.1L108.2 151.4M78.6 117.4L70.9 119.1L65.8 120.7L61 122.7L58.7 124.1L56.6 125.6L54.8 127.5L53.4 129.7L52.4 132.2L52 134.7L52.1 137.4L52.6 139.9M61.3 120.8L56.6 123.2L54.5 124.8L52.6 126.6M75.3 92.9L70.2 91.7L65.1 90.2L60.3 88.2L58 86.8L55.9 85.3L54.1 83.4L52.6 81.2L51.6 78.8M52.6 75.9L52.7 73.3L53.2 70.7L54.1 68.2L55.3 65.9L58.5 61.7L60.4 59.9L64.7 56.9M52.6 57.2L56.4 53.6M92.7 33.2L97.6 35.3L99.9 36.5L104.3 39.5M151.6 33.2L149.5 34.8L145.8 38.5M188.9 34.2L181 33.2M201 67.5L199.7 65.2L196.4 61.2L194.4 59.4L190.1 56.5L187.7 55.3L182.8 53.4L177.6 52.3L172.4 52L167.1 52.3L161.9 53.2L156.9 54.9L154.5 56L150 58.7L147.9 60.3L144.1 63.9L142.4 66M140 97.8L142.5 98.5L145.1 98.5L150.4 97.7L181.3 91L186.4 89.5L191.2 87.5L195.7 84.7L197.6 82.9L199.1 80.7L200.1 78.3L200.5 75.7L200.4 73.1L199.7 70.6M189.2 109.6L199.7 110.6M191.7 122.7L196.2 125.4L198.2 127.2L199.7 129.3L200.9 131.6M199.7 134.6L199.7 137.2L199.1 139.8L198.1 142.2L196.7 144.5L195.1 146.5L191.2 150L189 151.5L184.2 153.8L181.7 154.7L176.6 155.8L174 156.1L168.7 156.2L163.5 155.5L160.9 154.9L155.9 153.2L153.5 152.1L149.1 149.3L145.1 145.8L143.3 143.9L140.3 139.6L137.9 134.9L136.1 129.9L134.9 124.8L134.6 122.2L134.8 119.6L135.6 117.2L137.1 115.2L139.1 113.5L141.5 112.4L144 112.2L146.7 112.4L151.9 113.3L162.1 115.7M68.7 176.7L74 177.3M54 143L55.3 145.3L56.8 147.4M56 129.8L55 132.2L54.6 134.8L54.7 137.4L55.3 139.9M60.5 112.4L55.3 113.3M63.2 87.9L58.7 85.1L56.8 83.3L55.3 81.2L54.2 78.8M55.3 75.9L55.4 73.3L56 70.7L57 68.3L58.3 66L59.9 64L61.8 62.1L63.8 60.4L68.3 57.7L73.2 55.7L78.3 54.5L83.6 54.1L88.9 54.3L94 55.3L96.6 56L101.4 58.1L105.9 60.8L110 64.2L111.8 66.1M111 31.6L114.1 35.9M147 31.9L145.2 33.8L142 38M197.1 65.2L195.4 63.2L191.4 59.8M198.2 70.3L197.1 67.9L195.6 65.7M195.6 80.8L196.7 78.4L197.2 75.8L197.1 73.2M192.4 89L197.1 86.6M193.4 125.5L195.4 127.2L197.1 129.3L198.3 131.6M197.1 134.6L197 137.2L196.3 139.8L195.1 142.1M189 174.6L186.5 175.2L181.2 175.8M122.1 174.6L123.3 169.5M57.9 145.3L61.5 149.2L63.5 150.8L68 153.5L72.9 155.5L75.5 156.1L80.7 157L83.3 157.1L88.6 156.9L93.8 155.9L98.8 154.2L101.2 153.1L105.7 150.4L109.8 147.1L111.6 145.2L113.2 143.1L116.1 138.7L118.2 133.9L119.8 128.8L120.8 123.7L121 121.1L120.6 118.5L119.4 116.2L117.7 114.3L115.6 112.8L113.1 112.1L110.5 112L105.2 112.7L100.1 113.9M56.8 140.2L57.9 142.6L59.4 144.8M75 120.6L67.5 123.3L63 125.9L61 127.7L59.4 129.7L58.3 132.1L57.8 134.7L57.9 137.3M61.6 85L59.6 83.3L57.9 81.2L56.8 78.9M57.9 75.9L58.1 73.3L58.7 70.7L59.9 68.4M71.3 38.5L76.6 38.1L84.5 38.4M195.6 70.2L194.4 67.9L192.8 65.8L191 63.9L188.9 62.3L184.4 59.6L179.4 57.8L174.2 56.8L171.6 56.5L166.3 56.7L161.1 57.5L156.1 59.1L151.4 61.5L149.2 62.9L145.2 66.3L141.8 70.4L139.1 74.9L138.1 77.3L136.3 82.3L135.3 87.4L135.2 90L135.8 92.6L137.1 94.8M174.7 90.4L179.7 88.9L184.7 87L189.3 84.4L191.3 82.7L192.9 80.7L194.1 78.4L194.6 75.8L194.4 73.2M165.7 117.5L178.5 120.6L186 123.1L190.6 125.7L192.7 127.3L194.4 129.3L195.7 131.6M194.4 134.6L194.2 137.2L193.5 139.7L192.2 142L190.6 144.1L188.7 145.9L184.3 148.9L182 150L177 151.6L174.4 152.1L169.1 152.6L163.9 152.2L161.3 151.7L156.2 150.2L153.8 149.1L149.3 146.5M199.2 169.7L194.4 172M178.3 172L173.1 171.8M59.4 140.3L60.6 142.6L62.2 144.7L64 146.6L66 148.3L70.5 151L75.4 152.9L80.6 154L83.2 154.2L88.5 154.2L93.7 153.4L96.3 152.7L101.2 150.8M62.1 129.8L61 132.1L60.4 134.7L60.6 137.3M111.4 67.5L114.6 71.7L117 76.3L118 78.8L119.5 83.8L120.3 89L120 91.6L118.9 93.9L117.2 95.9L115 97.2L112.5 97.8L109.8 97.8L104.6 96.9L79 90.7L71.4 88.4L66.6 86.3L64.4 84.9L62.3 83.2L60.6 81.2L59.4 78.9M60.6 75.9L60.8 73.3L61.6 70.8L62.8 68.5L64.4 66.4L66.3 64.6L70.6 61.6L73 60.4L78 58.8L80.6 58.2L85.8 57.8L91.1 58.1L93.7 58.6L98.8 60L101.2 61.1L105.8 63.7M191.7 67.9L190 65.9L188 64.1L183.6 61.3M192.5 78.2L192.9 75.6L192.6 73L191.7 70.6L190.3 68.3M189.2 117.9L196.7 120.3M187.8 125.8L189.9 127.4L191.7 129.3M191.7 131.9L192.3 134.5L192.1 137.1L191.3 139.6L190 141.8L188.3 143.8L186.3 145.6M69 169L71.6 169.5L76.9 170L82.1 170L87.4 169.3M58.5 164.4L60.9 165.6L65.8 167.5M61.1 151.8L65.6 154.6L70.4 156.8M63.3 142.6L65 144.6L66.9 146.4L69 148L73.7 150.4L78.8 151.9M62.6 132.3L62.1 134.9L62.4 137.5L63.3 139.9L64.6 142.2M67.1 84.8L65.1 83.2L63.3 81.2L62 79M63.3 75.9L63.5 73.3L64.4 70.8L65.8 68.6L67.5 66.6L69.5 64.9M190.1 73L189 70.6L187.5 68.4L185.7 66.6L183.6 65L181.3 63.7L176.4 61.7L173.8 61.1L168.6 60.6L163.3 60.8L160.7 61.3L155.7 62.7L153.2 63.8L148.7 66.5L146.7 68.2L143.1 72M148.4 95.8L173.8 88.4L181.1 85.5L183.4 84.2L185.5 82.6L187.3 80.7L188.5 78.4L189 75.9M180.3 123.5L185 125.9L187.2 127.4L189 129.3M189 131.9L189.6 134.5L189.4 137.1L188.5 139.5L187 141.7L185.2 143.6L183.1 145.2L180.8 146.5L175.9 148.4L170.8 149.4L168.1 149.6L162.9 149.3L157.7 148.2M189 148L184.5 150.7M98.4 167.9L103 165.2L105.1 163.7L109.1 160.2L112.6 156.3L114.1 154.2L116.9 149.6M105 114.9L82.1 121.3L77.1 123L72.3 125.1L70 126.5L68 128.1L66.3 130.1L65.1 132.4L64.6 134.9L65 137.5L66 139.9L67.4 142.1L69.3 144L71.4 145.6L73.6 147L76 148.1L81 149.6L83.7 150L88.9 150.2L94.2 149.6L96.7 149L101.7 147.2L104 146L108.3 143L110.2 141.2L113.6 137.1L114.9 134.8L117.1 130.1L118.7 125L119.1 122.4M74.6 87L69.9 84.7L67.8 83.1L66 81.2M66 78.6L65.4 76L65.6 73.4L66.6 71M66 62.5L70.4 59.8M186.4 57.2L181.4 55.4L176.3 54.3L171 54L165.7 54.3M187.5 72.9L186.4 70.6L184.7 68.5L182.7 66.8L180.5 65.4L178.2 64.2M180.7 84L182.8 82.5L184.6 80.6L185.9 78.4L186.4 75.9M181.1 112.7L186.4 113.3M182.3 126L184.5 127.5L186.4 129.3M185 129.7L186.4 131.9L187 134.5L186.7 137L185.6 139.4L184 141.5L182.1 143.2M146.2 164L142.8 160L138.5 153.3M68.6 161.3L73.7 162.6M67.5 137.6L68.6 139.9L70.3 142L72.2 143.8L74.4 145.2L76.7 146.4M74.4 126.5L72.3 128L70.4 129.9L69.2 132.1L68.6 134.6M76.5 98.1L68.6 97.2M72.7 84.6L70.5 83.1L68.6 81.2M68.6 78.6L68.1 76L68.4 73.5L69.5 71.1L71.1 69L73 67.2L75.2 65.8L80 63.7L82.6 63L87.8 62.4L93.1 62.7L95.7 63.1L100.7 64.7L103.1 65.8L107.5 68.6L109.5 70.4L111.3 72.3L114.4 76.6M92.9 48.4L97.8 50.2L100.2 51.3M148.9 49.2L146.9 51L143.4 54.8M159.6 49.2L154.8 51.3L152.5 52.7M185 72.8L183.7 70.6L181.9 68.6L179.8 67.1M170.9 87.2L175.8 85.2L178.1 83.9L180.2 82.3L182 80.5L183.2 78.4L183.7 75.9M175.9 95.8L183.7 94.6M182.3 129.7L183.7 131.9L184.3 134.5L183.9 136.9L182.8 139.1L181.1 141.1L179.1 142.8L176.8 144.1L174.3 145.1L169.2 146.2L163.9 146.5L158.7 145.7L153.7 144.1L149.1 141.5L147 139.9L143.4 136.1L140.6 131.6L138.6 126.8L137.9 124.3L137.6 121.6L137.9 119.1M70 137.7L71.3 139.9L73.1 141.9L75.1 143.5M91.7 120.7L81.7 124.3L77 126.6L74.9 128.2L73 130L71.8 132.1L71.3 134.6M72.7 80.8L71.3 78.6L70.8 76L71.1 73.6L72.3 71.3L74 69.4L76 67.7L78.3 66.4L80.7 65.4L85.9 64.2L91.1 63.9L96.3 64.6L98.9 65.3M71.3 65.2L75.9 62.7M76.7 51.9L81.9 51.4L87.2 51.6M181 70.6L179.1 68.8L176.9 67.4L174.5 66.3L171.9 65.5L166.7 64.7L161.5 64.9L156.3 66L151.5 68.1L149.2 69.4L145.2 72.9L142 77L139.6 81.7L138 86.7L137.8 89.3L138.2 91.8L139.6 93.9L141.5 94.9L143.7 95.3L146.2 95.2M181.4 78.1L181.7 75.7L181 73.2L179.5 71.1L177.6 69.3M140.7 116.5L143.2 115.7L145.8 115.8L148.4 116.3L153.4 117.9L165.8 122.3L173.2 125.3L177.7 128L179.6 129.8L181 131.9L181.6 134.5L181.1 136.8M178.3 158.6L175.7 158.9L170.4 159.1L165.2 158.5L162.6 157.9M76.9 158.7L82.2 159.2L87.4 159L90 158.6M74 139.9L75.9 141.7L78.1 143.2L80.5 144.3L83 145.2L88.2 146L93.4 145.9L98.6 144.9L103.5 142.9L107.9 140L111.6 136.3M73.8 132.4L73.4 134.8L74 137.3L75.4 139.5L77.3 141.3M114.3 79L116.4 83.9L117.1 86.4L117.4 88.9L117.1 91.1L116.2 93L114.3 94.4L111.8 95L109.1 94.8L104 93.5L89.1 88.2L84.2 86.4L79.4 84L77.3 82.5L75.4 80.8L74 78.6L73.5 76L73.9 73.7M106.1 54.5L108.1 56.2L111.8 60M122.1 54.5L123.3 59.7M148.9 54.5L145 58.1M172 84.7L174.3 83.3L176.4 81.7L178 80L179 78L179.2 75.7L178.3 73.2L176.7 71.2L174.6 69.6L172.3 68.4L169.8 67.6L167.2 67.1L161.9 66.9L156.7 67.8M168.3 120.6L173.4 122.1L178.3 123.9M175 128.1L176.9 129.8L178.3 131.9L178.8 134.5L178.3 136.7L177.1 138.6L175.2 140.3L172.9 141.6L170.5 142.5L167.9 143.2L165.3 143.5L160 143.3L154.9 142.1L152.5 141.1L148 138.3M156.9 156L152.2 153.6L150 152.2M83.2 125.9L80.9 127.2L78.8 128.8L77.2 130.5L76.2 132.5L75.9 134.8L76.7 137.3L78.3 139.3L80.3 141L82.6 142.2L85.1 143L87.7 143.6L93 143.9L98.2 143.1L100.7 142.3L105.4 140M86.7 89.9L81.6 88.4L76.7 86.6M84.4 85.2L79.9 82.5L78.1 80.7L76.7 78.6L76.2 76L76.8 73.8L78 71.9L79.9 70.2L82.2 68.9L84.6 67.9L87.2 67.3L92.4 66.9L97.7 67.5L100.2 68.3L105 70.5L107.2 72L109.2 73.7L112.5 77.7M135.5 57.2L133.9 62.2L132.6 67.3M174.3 81.5L175.8 79.8L176.6 77.9L176.7 75.6L175.7 73.2L173.8 71.4L171.6 70M163.1 123.2L167.9 125.4L172.4 128.1L174.2 129.8L175.7 131.9L176.1 134.1L175.6 136.2L174.4 137.9L172.6 139.4L170.2 140.7M117.3 158.1L119.5 153.3M80.9 129L79.4 130.7L78.5 132.6L78.4 134.9L79.3 137.3L81.1 139.2L83.3 140.6M87.2 95.8L79.3 94.6M82.5 82.4L80.7 80.7L79.3 78.6L78.9 76.4M82 59.9L84.6 59.6L89.9 59.6M173 62.5L167.8 61.9L162.5 62.2M172.1 73.6L170 71.9L167.6 70.8L165.1 70.2L162.5 69.9L159.8 70L157.2 70.3L154.7 71L152.2 72L149.9 73.3L147.8 74.8L145.8 76.6L144.1 78.6L141.5 83.1L140.6 85.6L140.1 87.9L140.2 89.8L140.9 91.4L142.3 92.5L144.8 92.9L147.4 92.6L150 91.8L154.9 89.9L164.5 85.6L169 82.9L171.1 81.2L172.3 79.6L173.1 77.8L173 75.9M169.9 128.2L171.6 129.8L173 131.9L173.3 134L172.7 135.9L171.5 137.5M146.2 150.6L144.4 148.7L141.1 144.6M82 148L87.2 148.6L92.5 148.4M81.5 130.9L80.7 132.7L80.8 135L82 137.3L84 139L86.3 140.2L88.8 140.9M95.2 101L82 99.9M114.7 84.6L115.3 87.1L115.4 89.2L115 90.9L113.7 92.4L111.7 93L109.1 92.9L104.1 91.5L91.9 86.3L87.3 83.8L85.1 82.4L83.4 80.8L82 78.6L81.7 76.5L82.3 74.6L83.6 73L85.5 71.7L87.9 70.6L90.5 70L93.1 69.8L95.7 69.8L98.3 70.2L100.9 70.9L103.3 71.9M168.9 81L170 79.4L170.6 77.7L170.3 75.9M170.3 131.9L170.5 133.8L169.8 135.6L168.4 137L166.5 138.1L164 138.9L161.4 139.2L158.8 139.1L156.2 138.7L153.6 138L151.2 136.9L149 135.5L147 133.9L145.1 132L143.6 129.8L142.3 127.5L141.3 125.1L140.8 122.5L141.2 120.4L142.2 119.1L143.7 118.4L145.5 118.3L147.8 118.7L152.8 120.5L160 123.8M170.3 148L165 148.2M91.9 139.4L94.6 139.6L97.2 139.4L99.8 138.9L102.3 138.1L104.7 136.9L106.9 135.5L108.9 133.8L110.6 131.8L112.1 129.7L113.4 127.3L114.3 124.9L114.7 122.7L114.6 121L113.8 119.4L112.3 118.5L109.7 118.3L107.2 118.8L104.7 119.6L95 123.9L90.4 126.4L88.2 127.8L86.3 129.5L85.1 131.1L84.5 132.8L84.7 134.6L85.8 136.3L87.4 137.6M89.9 115L84.7 115.9M84.7 78.6L84.5 76.6L85.3 74.9L86.6 73.5L88.6 72.4M167.8 79.3L168.2 77.6L167.6 75.9L166.2 74.4L164.4 73.4L161.9 72.8L159.2 72.6L156.6 72.9L154.1 73.5M162.4 100.4L167.6 99.9M163.4 126.1L165.6 127.6L167.6 129.3M167.6 131.9L167.6 133.7L166.8 135.2L165.3 136.4L163.3 137.2L160.7 137.7L158.1 137.7M112.5 147.4L115.5 143.1M104.6 148.4L108.8 145.3L112.4 141.5M87.3 131.2L86.9 132.9L87.4 134.6L88.7 136.2L90.5 137.2L92.9 137.9L95.5 138.1L98.1 138L100.7 137.4M97.9 109.6L87.4 110.6M93.9 85L89.6 81.9L88.2 80.4L87.4 78.6L87.4 76.8L88.3 75.3L89.7 74.1L91.7 73.2L94.3 72.7L96.9 72.7L99.5 73L102.1 73.8L104.5 74.9L106.7 76.3L108.7 78L110.4 80L111.9 82.2M150 89.9L154.8 87.7L159.4 85.2L163.7 82.1L165.1 80.6L165.8 79.2L165.9 77.4L165 75.9L163.2 74.7M163.2 128.8L164.3 130.2L165 131.9L164.7 133.5L163.6 134.8L162.1 135.6M146.2 142.6L144.4 140.7L141.2 136.5M95.9 125.3L91.6 128.4L90.2 129.9L89.4 131.3L89.3 133.1L90 134.6L91.7 135.9M90 123.9L85.3 126.2M90 78.6L90.3 76.9L91.4 75.7L92.9 74.8M154.9 92L167.2 87.4M111.6 84.2L112.3 86.2L112.4 87.8L111.9 89.1L110.7 90L108.6 90.1L106.1 89.4L103.6 88.5L98.9 86L94.6 83.1L92.7 81.2L91.6 78.9L91.9 77.4M159.6 75.9L157 75.6L154.4 75.9L151.9 76.8L149.6 78L147.6 79.7L145.8 81.6L144.4 83.8L143.5 86.3L143.6 88.2L144.4 89.3L145.7 89.7L147.3 89.7M156.8 84L158.5 82.4L159.5 81.2L159.9 79.9L159.6 78.6L158.3 77.6M160.6 131.3L160.1 132.6L158.4 133.5L155.8 133.8L153.2 133.3L150.8 132.3L148.6 130.9L146.8 129L145.3 126.9L144.6 125.1L144.4 123.8L144.9 122.5L146.2 121.9L148.8 122.2L151.2 123.1L155.8 125.7L157.9 127.3L159.6 129.3M95.4 134.6L98 135L100.6 134.8L103.1 134L105.4 132.8L107.5 131.2L109.3 129.3L110.8 127.1L111.8 124.7L111.9 122.6L111.2 121.4L109.9 120.9L108.4 120.9L106.3 121.4M103.2 123.6L98.7 126.3L96.8 127.9L95.8 129.3L95.2 130.5L95.4 131.9L96.5 133M100.3 119.4L95.4 121.3M99.2 84.8L97.1 83.2L95.4 81.2L94.8 79.5L95.2 78.2L96.2 77.3L97.7 76.8L99.8 76.7L102.3 77.2L104.7 78.3L106.9 79.7L108.7 81.6M124.8 75.9L125.6 86.4L125.5 91.6M157.5 82L158.1 80.9L158 79.5L156.9 78.6L155 78.2L153.1 78.5L150.7 79.4L148.6 80.9L146.8 82.8L145.6 85.1L145.5 86.8L146.2 87.7M141.1 103.1L146.4 103.2L156.9 102.6M156.9 129.3L157 130.6L156 131.5L154.8 131.7L153.1 131.6M137.3 139.6L134.8 132.1M111.4 134.6L114.3 130.2M97.2 130.9L98.1 131.9L99.8 132.5L101.6 132.3L103.9 131.6L106.2 130.3M98.1 81.2L98 79.9L98.9 78.9L100.1 78.6L101.9 78.7M148.2 83.3L147.7 84.3L147.6 85.3L148.5 85.9L150.6 85.4L152.7 84.1L153.8 83L154.3 82.2L154.3 81.2L153.4 80.7L152.4 80.7L150.9 81.2M138.9 111L141.2 109.8L143.8 109.5L149 109.9L154.3 110.6M151.9 130L149.7 128.8L148.3 127.4L147.7 126.3L147.6 125.4L148.3 124.7L150.2 125L152.4 126.3L153.6 127.4L154.2 128.3L154.3 129.3L153.5 129.9M143.6 131.9L141 127.4M122.1 131.9L123 126.7M107.3 127.3L107.9 126.2L108 125.2L107.3 124.5L105.5 124.8L103.1 126L101.7 127.2L101 128.2L100.7 129.3L101.3 130L102.3 130.2L103.6 129.9M106.3 81L108 82.8L109 84.4L109.3 85.5L109 86.7L107.8 87.2L105.2 86.6L102.9 85.4L100.7 83.9M100.9 82.3L100.7 81.2L101.4 80.6L102.4 80.4L103.8 80.7M111.3 103L103.4 102.6M106.5 83.2L106.9 84.1L106.9 85L105.7 85.1L103.4 83.9M132.9 83.9L132.4 89.1L132.7 91.7L133.8 94.1L135.2 95.8M116.8 123.9L117 121.3L116.5 118.8L115 117L113.2 116.1L111.1 115.9L108.5 116.2"/>
<g opacity="0.3"><path d="M125 62.8L129 62.6L133 63.7L136.5 66.2L139 69.8L140.1 73.3L140.5 77.8L140.2 81.3L138.6 88.8L138.4 90.8L138.9 92.3L140 93.7L141.5 94.4L143 94.6L151 92.9L155.5 92.5L158.5 92.7L161.5 93.4L165 95.1L167.5 97.3L169.7 100.8L170.5 104.3L170.2 108.2L168.7 111.7L166.1 114.7L162.9 116.7L159 117.8L155 118.1L151 117.7L142.5 116L141 116.3L139.5 117.4L138.7 118.7L138.4 120.2L140.5 131.7L140.4 135.2L139.8 138.7L138.5 141.7L136.2 144.7L133.5 146.7L130.5 147.8L126.5 148.1L122.5 147L119 144.5L116.5 140.9L115.3 137.2L114.9 132.7L115.3 128.7L117 120.2L116.5 118.2L115.5 117L114 116.2L112 116.1L104.5 117.7L100 118.1L96.5 117.9L93.5 117.1L90 115.3L87.4 112.7L85.7 109.7L84.9 106.2L85.3 102.3L86.8 98.8L89.4 95.8L92.8 93.8L96.5 92.7L100.5 92.5L104 92.9L113 94.6L114.5 94.2L115.8 93.3L116.7 91.8L117 90.3L114.9 78.8L115 75.3L115.7 71.8L117 68.7L119 66.1L121.5 64.2L124.7 62.9ZM124.6 65.8L122 67L119.8 68.8L118 71.3L116.8 74.3L116.2 77.3L116.1 80.3L117.5 90.3L117.3 91.8L116.5 93.3L115 94.5L113 95.1L105 93.9L101.5 93.7L98 94L94.5 95.2L91.5 97.2L89.3 99.8L88.1 102.8L87.8 106.2L88.5 109.2L90.3 112.2L92.5 114.2L95.5 115.8L98.5 116.6L102 116.9L113 115.5L114.5 115.8L115.9 116.7L117.1 118.2L117.5 119.7L117.4 121.7L116.3 128.2L116.1 131.7L116.6 135.7L117.9 139.2L120.5 142.4L123.5 144.3L127 145.2L130.5 144.8L133 143.8L135.5 141.9L137.2 139.7L138.5 136.7L139.2 133.7L139.3 130.2L137.9 120.2L138.1 118.7L139 117.2L140.5 116L142.5 115.5L153.5 116.9L157 116.6L160.5 115.6L163.6 113.7L165.8 111.2L167.2 108.2L167.6 104.8L167 101.8L165.4 98.8L163 96.4L160 94.8L156.5 93.9L153 93.7L142.5 95.1L141 94.8L139.5 93.9L138.3 92.3L137.9 90.8L139.1 82.3L139.3 78.8L138.8 74.8L137.5 71.5L135 68.2L132 66.3L128.5 65.4L125 65.7ZM127.5 94.6L128.3 94.8L128.6 95.3L128 96.3L127.5 96.4L126.9 95.8L127.1 94.8ZM127.4 94.8L126.9 95.3L126.9 95.8L127.5 96.3L128 96.3L128.5 95.3L128 94.8L127.5 94.7ZM117.5 104.4L118.6 104.8L118.8 105.2L118.5 105.9L117.5 106.2L117.1 105.7L117.1 104.8ZM117.3 104.8L117.1 105.2L117.5 106L118.5 105.8L118.7 105.2L118.5 104.8L117.5 104.6ZM137 104.6L138 104.5L138.4 105.2L138.3 105.7L137.5 106.2L137 106L136.6 105.2L136.8 104.8ZM136.9 104.8L136.7 105.2L137 105.9L137.5 106.1L138.2 105.7L138.1 104.8L137.5 104.5L137 104.7ZM127.5 114.2L128.5 114.7L128.5 115.6L128 116L127 115.8L126.8 115.2L127.5 114.2ZM127 114.7L126.9 115.2L127.2 115.7L128.2 115.7L128.5 115.2L128 114.3L127.5 114.3L127 114.7Z" fill="#0f5fdb" stroke="#0f5fdb" stroke-width="0.6"/>
<path d="M125 65.7L128.5 65.4L132 66.3L135 68.2L137.5 71.5L138.8 74.8L139.3 78.8L139.1 82.3L137.9 90.8L138.3 92.3L139.5 93.9L141 94.8L142.5 95.1L153 93.7L156.5 93.9L160 94.8L163 96.4L165.4 98.8L167 101.8L167.6 104.8L167.2 108.2L165.8 111.2L163.6 113.7L160.5 115.6L157 116.6L153.5 116.9L142.5 115.5L140.5 116L139 117.2L138.1 118.7L137.9 120.2L139.3 130.2L139.2 133.7L138.5 136.7L137.2 139.7L135.5 141.9L133 143.8L130.5 144.8L127 145.2L123.5 144.3L120.5 142.4L117.9 139.2L116.6 135.7L116.1 131.7L116.3 128.2L117.4 121.7L117.5 119.7L117.1 118.2L115.9 116.7L114.5 115.8L113 115.5L102 116.9L98.5 116.6L95.5 115.8L92.5 114.2L90.3 112.2L88.5 109.2L87.8 106.2L88.1 102.8L89.3 99.8L91.5 97.2L94.5 95.2L98 94L101.5 93.7L105 93.9L113 95.1L115 94.5L116.5 93.3L117.3 91.8L117.5 90.3L116.1 80.3L116.2 77.3L116.8 74.3L118 71.3L119.8 68.8L122 67L124.6 65.8ZM125.5 68.3L123 69.3L121 70.8L119.3 72.8L118 75.7L117.4 78.3L117.2 81.3L118.1 90.8L117.6 92.3L116.6 93.8L115 95.1L113.5 95.6L103 94.8L99.5 95.2L96.5 96.2L94 97.9L91.9 100.3L90.8 102.8L90.5 105.7L91.1 108.7L92.5 111.2L94.6 113.2L97.3 114.7L100 115.5L103.5 115.8L113 114.9L114.5 115.3L116 116.2L117.3 117.7L118 119.7L117.2 127.7L117.2 130.7L117.8 134.2L119 137.2L121 139.8L123.5 141.5L126.5 142.5L130 142.2L132.5 141.2L134.5 139.7L136.1 137.7L137.3 135.2L138 132.7L138.2 129.7L137.4 119.7L137.8 118.2L138.9 116.7L140.5 115.5L142 115L152.5 115.8L155.5 115.5L158.5 114.5L161.4 112.7L163.2 110.7L164.6 107.7L164.9 104.8L164.2 101.8L162.8 99.3L160.6 97.3L158 95.8L155 95L152 94.8L142.5 95.7L141 95.4L139.3 94.3L138 92.8L137.3 90.8L138.2 80.3L137.7 76.8L136.5 73.6L134.5 70.9L132 69.1L129 68.2L125.5 68.3ZM127 94.6L128 94.4L128.5 94.8L128.6 95.8L128.2 96.3L127.5 96.4L127 96.1L126.7 95.3L126.9 94.8ZM127.1 94.8L126.9 95.8L127.5 96.4L128 96.3L128.6 95.3L128.3 94.8L127.5 94.6ZM117 104.7L117.5 104.3L118.5 104.6L118.9 105.2L118.7 105.7L118 106.3L117.4 106.2L116.9 105.7L116.9 104.8ZM117.1 104.8L117.1 105.7L117.5 106.2L118.5 105.9L118.8 105.2L118.6 104.8L117.5 104.4ZM137 104.5L138 104.3L138.5 104.8L138.5 105.7L138 106.3L137 106.1L136.5 105.2L136.8 104.8ZM136.8 104.8L136.6 105.2L137 106L137.5 106.2L138.3 105.7L138.4 105.3L138 104.5L137 104.6ZM127.5 114.2L128.1 114.2L128.7 115.2L128.5 115.9L128 116.2L126.8 115.7L126.8 114.7L127.4 114.2ZM127.5 114.2L126.8 115.2L127 115.8L128 116L128.5 115.6L128.5 114.7L127.5 114.2Z" fill="#0c6fdd" stroke="#0c6fdd" stroke-width="0.6"/>
<path d="M125.5 68.3L129 68.2L132 69.1L134.5 70.9L136.5 73.6L137.7 76.8L138.2 80.3L137.3 90.8L138 92.8L139.3 94.3L141 95.4L142.5 95.7L152 94.8L155 95L158 95.8L160.6 97.3L162.8 99.3L164.2 101.8L164.9 104.8L164.6 107.7L163.2 110.7L161.4 112.7L158.5 114.5L155.5 115.5L152.5 115.8L142 115L140.5 115.5L138.9 116.7L137.8 118.2L137.4 119.7L138.2 129.7L138 132.7L137.3 135.2L136.1 137.7L134.5 139.7L132.5 141.2L130 142.2L126.5 142.5L123.5 141.5L121 139.8L119 137.2L117.8 134.2L117.2 130.7L117.2 127.7L118 119.7L117.3 117.7L116 116.2L114.5 115.3L113 114.9L103.5 115.8L100 115.5L97.3 114.7L94.6 113.2L92.5 111.2L91.1 108.7L90.5 105.7L90.8 102.8L91.9 100.3L94 97.9L96.5 96.2L99.5 95.2L103 94.8L113.5 95.6L115 95.1L116.6 93.8L117.6 92.3L118.1 90.8L117.2 81.3L117.4 78.3L118 75.7L119.3 72.8L121 70.8L123 69.3L125.5 68.3ZM125.5 70.8L123.5 71.7L121.5 73.2L120 75.2L119 77.3L118.4 79.8L118.1 82.3L118.6 90.8L118.2 92.3L117 93.9L115 95.6L113.5 96.2L104 95.8L101 96.2L98.5 97.1L96 98.8L94.3 100.8L93.2 103.3L92.9 105.7L93.5 108.2L94.5 110.2L96.4 112.2L99 113.7L101.5 114.5L104.5 114.9L113.5 114.4L115 115L116.5 116.2L117.8 117.7L118.6 119.7L118.2 129.7L118.8 132.7L120 135.4L122 137.9L124.5 139.4L127 140L130 139.7L132 138.9L134 137.3L135.5 135.3L136.4 133.2L137.3 128.2L136.8 119.7L137.3 118.2L138.4 116.7L140 115.3L142 114.4L151.5 114.8L154.5 114.4L157 113.5L159.5 111.7L161.2 109.7L162.2 107.2L162.4 104.8L161.9 102.3L160.8 100.3L158.8 98.3L156.5 96.9L154 96.1L151 95.7L142 96.2L140.5 95.7L139 94.5L137.5 92.8L136.9 91.3L137.2 81.3L136.7 78.3L135.5 75.3L133.5 72.8L131 71.2L128.5 70.6L125.5 70.8ZM127.5 94.3L128.5 94.5L128.8 95.3L128 96.4L127.1 96.3L126.7 95.8L126.7 94.8L127.4 94.3ZM126.9 94.8L126.7 95.3L127 96.1L127.5 96.4L128.2 96.3L128.6 95.8L128.5 94.8L128 94.4L127 94.6ZM117.5 104.2L118.5 104.5L118.9 105.2L118.5 106.1L118 106.4L117.1 106.2L116.7 105.7L116.7 104.8L117.2 104.3ZM116.9 104.8L116.9 105.7L117.4 106.2L118 106.3L118.7 105.7L118.9 105.2L118.5 104.6L117.5 104.3L117 104.7ZM137.5 104.2L138.2 104.3L138.7 104.8L138.7 105.7L138.3 106.2L137.5 106.4L136.6 105.7L136.7 104.8L137.4 104.3ZM136.8 104.8L136.5 105.2L137 106.1L138 106.3L138.5 105.7L138.5 104.8L138 104.3L137 104.5ZM127.5 114.1L128.2 114.2L128.8 115.2L128.5 116.1L128 116.3L127 116.2L126.6 115.7L126.7 114.7L127.3 114.2ZM127.4 114.2L126.8 114.7L126.8 115.7L128 116.2L128.5 115.9L128.7 115.2L128.1 114.2L127.5 114.2Z" fill="#097fdf" stroke="#097fdf" stroke-width="0.6"/>
<path d="M125.5 70.8L128.5 70.6L131 71.2L133.5 72.8L135.5 75.3L136.7 78.3L137.2 81.3L136.9 91.3L137.5 92.8L139 94.5L140.5 95.7L142 96.2L151 95.7L154 96.1L156.5 96.9L158.8 98.3L160.8 100.3L161.9 102.3L162.4 104.8L162.2 107.2L161.2 109.7L159.5 111.7L157 113.5L154.5 114.4L151.5 114.8L142 114.4L140 115.3L138.4 116.7L137.3 118.2L136.8 119.7L137.3 128.2L136.4 133.2L135.5 135.3L134 137.3L132 138.9L130 139.7L127 140L124.5 139.4L122 137.9L120 135.4L118.8 132.7L118.2 129.7L118.6 119.7L117.8 117.7L116.5 116.2L115 115L113.5 114.4L104.5 114.9L101.5 114.5L99 113.7L96.4 112.2L94.5 110.2L93.5 108.2L92.9 105.7L93.2 103.3L94.3 100.8L96 98.8L98.5 97.1L101 96.2L104 95.8L113.5 96.2L115 95.6L117 93.9L118.2 92.3L118.6 90.8L118.1 82.3L118.4 79.8L119 77.3L120 75.2L121.5 73.2L123.5 71.7L125.5 70.8ZM127.2 72.8L125 73.3L123.2 74.3L121.5 76L120.3 77.8L119.5 80.1L119 82.8L119.1 91.3L118.4 92.8L117 94.4L115 96.1L113.5 96.7L105 96.7L102.5 97.1L100 98.1L98 99.4L96.4 101.3L95.5 103.3L95.2 105.2L95.6 107.7L96.7 109.7L98 111.2L100.4 112.7L102.5 113.5L105 113.9L113.5 113.9L115 114.5L117 116.1L118.6 118.2L119.2 119.7L119.1 128.2L119.5 130.7L120.5 133.1L122 135.2L123.5 136.5L125.5 137.5L128 137.8L130 137.4L132 136.4L133.9 134.7L135.1 132.7L136 130.2L136.4 127.7L136.2 119.7L136.8 118.2L138.3 116.2L140.5 114.4L142 113.9L150.5 113.9L155 112.7L157 111.5L158.7 109.7L159.8 107.7L160.2 105.2L159.7 102.8L158.7 100.8L157.2 99.3L155 97.9L150.5 96.7L142 96.7L140.5 96.2L138.5 94.5L137 92.8L136.3 91.3L136.4 82.8L136 80.3L135 77.7L133.5 75.5L132 74.2L130 73.2L127.5 72.8ZM127 94.2L128 94.1L128.9 94.8L128.8 95.8L128.4 96.3L127.5 96.5L126.6 95.8L126.5 94.8L126.9 94.3ZM127.4 94.3L126.7 94.8L126.7 95.8L127.1 96.3L128 96.4L128.8 95.3L128.5 94.5L127.5 94.3ZM117 104.2L118 104.1L118.8 104.8L119 105.2L118.5 106.2L117.5 106.6L116.8 106.2L116.4 105.2L116.9 104.3ZM117.2 104.3L116.7 104.8L116.7 105.7L117.1 106.2L118 106.4L118.5 106.1L118.9 105.2L118.5 104.5L117.5 104.2ZM137.5 104.1L138.5 104.2L138.9 104.8L138.9 105.7L138.5 106.4L137.5 106.5L136.5 105.7L136.5 105L137.2 104.3ZM137.4 104.3L136.7 104.8L136.6 105.7L137.5 106.4L138.3 106.2L138.7 105.7L138.7 104.8L138.2 104.3L137.5 104.2ZM127.5 114.1L128.3 114.2L128.8 114.7L128.9 115.7L128.5 116.3L127.5 116.6L126.5 115.8L126.6 114.7L127.1 114.2ZM127.3 114.2L126.7 114.7L126.6 115.7L127 116.2L128 116.3L128.5 116.1L128.8 115.2L128.2 114.2L127.5 114.1Z" fill="#068fe1" stroke="#068fe1" stroke-width="0.6"/>
<path d="M127.5 72.8L130 73.2L132 74.2L133.5 75.5L135 77.7L136 80.3L136.4 82.8L136.3 91.3L137 92.8L138.5 94.5L140.5 96.2L142 96.7L150.5 96.7L155 97.9L157.2 99.3L158.7 100.8L159.7 102.8L160.2 105.2L159.8 107.7L158.7 109.7L157 111.5L155 112.7L150.5 113.9L142 113.9L140.5 114.4L138.3 116.2L136.8 118.2L136.2 119.7L136.4 127.7L136 130.2L135.1 132.7L133.9 134.7L132 136.4L130 137.4L128 137.8L125.5 137.5L123.5 136.5L122 135.2L120.5 133.1L119.5 130.7L119.1 128.2L119.2 119.7L118.6 118.2L117 116.1L115 114.5L113.5 113.9L105 113.9L102.5 113.5L100.4 112.7L98 111.2L96.7 109.7L95.6 107.7L95.2 105.2L95.5 103.3L96.4 101.3L98 99.4L100 98.1L102.5 97.1L105 96.7L113.5 96.7L115 96.1L117 94.4L118.4 92.8L119.1 91.3L119 82.8L119.5 80.1L120.3 77.8L121.5 76L123.2 74.3L125 73.3L127.2 72.8ZM125.5 75.3L124 76.1L122.5 77.3L120.7 80.3L119.8 84.3L119.8 90.8L119.2 92.3L118.1 93.8L115.5 96.3L114 97.1L112.5 97.4L105.5 97.6L101.5 98.9L99.6 100.3L98.4 101.8L97.5 103.8L97.4 105.7L97.8 107.7L98.6 109.2L100 110.7L102 112L106 113.1L113.5 113.3L116 114.7L118.5 117.2L119.6 119.2L120 127.6L120.7 130.2L121.7 132.2L123.5 134.2L125.5 135.3L128 135.7L130 135.2L131.5 134.5L132.9 133.2L134.7 130.2L135.5 126.7L135.7 119.7L136.2 118.2L137.4 116.7L140 114.2L141.5 113.4L149.5 113.1L152 112.5L154 111.7L155.9 110.2L157.1 108.7L157.9 106.7L158 104.8L157.5 102.8L156.7 101.3L155.2 99.8L153.5 98.7L149.5 97.5L142 97.3L140.5 96.7L139 95.5L136.9 93.3L135.8 91.3L135.4 82.8L134.7 80.3L133.6 78.3L132 76.5L130 75.4L128 74.9L125.5 75.3ZM127 94L128 93.9L129 94.5L129.1 95.3L128.5 96.3L127.5 96.6L126.9 96.3L126.3 95.3L126.6 94.3ZM126.9 94.3L126.5 94.8L126.6 95.8L127.5 96.5L128.4 96.3L128.8 95.8L128.9 94.8L128 94.1L127 94.2ZM117 104L118 104L118.8 104.8L119 105.4L118.5 106.3L117.5 106.7L116.5 106.2L116.2 105.2L116.6 104.3ZM116.9 104.3L116.4 105.2L116.8 106.2L117.5 106.6L118.5 106.2L119 105.2L118.8 104.8L118 104.1L117 104.2ZM137 104.2L138 103.9L138.8 104.3L139.2 105.2L138.9 106.2L138 106.7L137 106.4L136.4 105.3L137 104.3ZM137.2 104.3L136.5 105L136.5 105.7L137.5 106.5L138.5 106.4L138.9 105.7L138.9 104.8L138.5 104.2L137.5 104.1ZM127.5 114L128.4 114.2L129.1 115.2L129 116.1L128.5 116.6L127.5 116.8L126.5 116.2L126.3 115.2L127 114.2ZM127.1 114.2L126.6 114.7L126.5 115.8L127.5 116.6L128.5 116.3L128.9 115.7L128.8 114.7L128.3 114.2L127.5 114.1Z" fill="#039ee3" stroke="#039ee3" stroke-width="0.6"/>
<path d="M125.5 75.3L128 74.9L130 75.4L132 76.5L133.6 78.3L134.7 80.3L135.4 82.8L135.8 91.3L136.9 93.3L139 95.5L140.5 96.7L142 97.3L149.5 97.5L153.5 98.7L155.2 99.8L156.7 101.3L157.5 102.8L158 104.8L157.9 106.7L157.1 108.7L155.9 110.2L154 111.7L152 112.5L149.5 113.1L141.5 113.4L140 114.2L137.4 116.7L136.2 118.2L135.7 119.7L135.5 126.7L134.7 130.2L132.9 133.2L131.5 134.5L130 135.2L128 135.7L125.5 135.3L123.5 134.2L121.7 132.2L120.7 130.2L120 127.6L119.6 119.2L118.5 117.2L116 114.7L113.5 113.3L106 113.1L102 112L100 110.7L98.6 109.2L97.8 107.7L97.4 105.7L97.5 103.8L98.4 101.8L99.6 100.3L101.5 98.9L105.5 97.6L112.5 97.4L114 97.1L115.5 96.3L118.1 93.8L119.2 92.3L119.8 90.8L119.8 84.3L120.7 80.3L122.5 77.3L124 76.1L125.5 75.3ZM125.6 77.3L123.4 78.8L121.5 81.6L120.7 84.8L120.4 90.8L119.8 92.3L118.6 93.8L115.5 96.8L114 97.7L106.5 98.4L102.7 99.8L101.4 100.8L100.2 102.3L99.5 103.8L99.4 105.7L99.7 107.2L100.5 108.7L101.9 110.2L103.5 111.2L107 112.3L113.5 112.7L116 114.3L119.4 117.7L120.2 119.2L120.8 126.7L121.5 129L122.5 130.8L124 132.4L125.5 133.2L127.5 133.7L129.5 133.4L132 131.8L133.8 129.2L134.7 125.7L135.1 119.7L136.5 117.2L140 113.7L141.5 112.8L149 112.2L152.8 110.7L154.1 109.7L155.3 108.2L155.9 106.7L156 104.8L155.7 103.3L154.9 101.8L153.5 100.3L152 99.4L148.5 98.3L142 97.9L139.5 96.4L136.4 93.3L135.3 91.8L135 90.3L134.6 83.8L134 81.8L133 80L131.5 78.3L130 77.4L128 76.9L126 77.2ZM127 93.7L128 93.6L129.1 94.3L129 95.8L128 96.6L126.8 96.3L126.2 95.3L126.3 94.3L126.8 93.8ZM126.6 94.3L126.3 95.3L126.9 96.3L127.5 96.6L128.5 96.3L129.1 95.3L129 94.5L128 93.9L127 94ZM117 103.7L118.5 104.2L119.1 105.2L118.5 106.4L117.5 106.9L116.5 106.6L116 105.7L116.3 104.3L117 103.8ZM116.6 104.3L116.2 105.2L116.5 106.2L117.5 106.7L118.5 106.3L119 105.4L118.8 104.8L118 104L117 104ZM138 103.7L139 104.1L139.4 104.8L139.2 106.2L138.5 106.8L137 106.5L136.3 105.2L137 104.1L137.9 103.8ZM137 104.3L136.4 105.2L137 106.4L138 106.7L138.9 106.2L139.2 105.2L138.8 104.3L138 103.9L137 104.2ZM127 114.2L128 114L128.9 114.7L129.3 115.7L128.7 116.7L127.5 117L126.5 116.6L126.1 115.7L126.9 114.2ZM127 114.2L126.3 115.2L126.5 116.2L127.5 116.8L128.5 116.6L129 116.1L129.1 115.2L128.4 114.2L127.5 114Z" fill="#00aee5" stroke="#00aee5" stroke-width="0.6"/>
<path d="M126 77.2L128 76.9L130 77.4L131.5 78.3L133 80L134 81.8L134.6 83.8L135 90.3L135.3 91.8L136.4 93.3L139.5 96.4L142 97.9L148.5 98.3L152 99.4L153.5 100.3L154.9 101.8L155.7 103.3L156 104.8L155.9 106.7L155.3 108.2L154.1 109.7L152.8 110.7L149 112.2L141.5 112.8L140 113.7L136.5 117.2L135.1 119.7L134.7 125.7L133.8 129.2L132 131.8L129.5 133.4L127.5 133.7L125.5 133.2L124 132.4L122.5 130.8L121.5 129L120.8 126.7L120.2 119.2L119.4 117.7L116 114.3L113.5 112.7L107 112.3L103.5 111.2L101.9 110.2L100.5 108.7L99.7 107.2L99.4 105.7L99.5 103.8L100.2 102.3L101.4 100.8L102.7 99.8L106.5 98.4L114 97.7L115.5 96.8L118.6 93.8L119.8 92.3L120.4 90.8L120.7 84.8L121.5 81.6L123.4 78.8L125.6 77.3ZM125.5 79.3L123.5 80.9L122.1 83.3L121.4 85.8L121 90.8L120 92.8L115.5 97.3L114 98.4L107 99.3L103.7 100.8L102.6 101.8L101.7 103.3L101.3 105.7L102.2 108.2L104.5 110.3L107.5 111.4L113.5 112L115.5 113.3L120.6 118.7L121.1 120.2L121.6 125.7L123.1 129.2L124.5 130.7L126 131.5L128 131.8L129.5 131.4L131.5 130.1L133.2 127.7L134 124.7L134.4 119.7L135.5 117.7L141 112.4L142.5 111.9L148.5 111.3L151.5 110L153.5 107.7L154.1 106.2L154.1 104.8L153.2 102.3L152 101L150.5 100L147.5 99.1L142 98.6L140 97.4L134.7 91.8L134.3 90.3L133.8 84.8L133 82.6L132 81L130.5 79.7L129 79L127.5 78.8L126 79.1ZM126.5 93.6L128 93.3L129.1 93.8L129.5 94.8L128.7 96.3L127.5 96.7L126.7 96.3L125.9 94.8L126.3 93.8ZM126.8 93.8L126.3 94.3L126.2 95.3L126.8 96.3L128 96.6L129 95.8L129.1 94.3L128 93.6L127 93.7ZM116.5 103.7L118 103.8L119 104.8L119 105.8L118 106.8L116.5 106.9L115.9 106.2L115.7 104.8L116.3 103.8ZM117 103.8L116.3 104.3L116 105.7L116.5 106.6L117.5 106.9L118.5 106.4L119.1 105.2L118.5 104.2L117 103.7ZM137.5 103.8L138.5 103.5L139.5 104.3L139.7 105.7L139.2 106.7L138 107L136.5 106L136.4 104.8L137.5 103.8ZM137.9 103.8L137 104.1L136.3 105.2L137 106.5L138.5 106.8L139.2 106.2L139.4 104.8L139 104.1L138 103.7ZM127 114.1L128 113.9L129 114.7L129.4 115.7L129 116.9L127.5 117.3L126.2 116.7L126 115.7L126.8 114.2ZM126.9 114.2L126.1 115.7L126.5 116.6L127.5 117L128.7 116.7L129.3 115.7L128.9 114.7L128 114L127 114.2Z" fill="#00c0e5" stroke="#00c0e5" stroke-width="0.6"/>
<path d="M126 79.1L127.5 78.8L129 79L130.5 79.7L132 81L133 82.6L133.8 84.8L134.3 90.3L134.7 91.8L140 97.4L142 98.6L147.5 99.1L150.5 100L152 101L153.2 102.3L154.1 104.8L154.1 106.2L153.5 107.7L151.5 110L148.5 111.3L142.5 111.9L141 112.4L135.5 117.7L134.4 119.7L134 124.7L133.2 127.7L131.5 130.1L129.5 131.4L128 131.8L126 131.5L124.5 130.7L123.1 129.2L121.6 125.7L121.1 120.2L120.6 118.7L115.5 113.3L113.5 112L107.5 111.4L104.5 110.3L102.2 108.2L101.3 105.7L101.7 103.3L102.6 101.8L103.7 100.8L107 99.3L114 98.4L115.5 97.3L120 92.8L121 90.8L121.4 85.8L122.1 83.3L123.5 80.9L125.5 79.3ZM126.6 80.8L124.5 82L123 84.1L122.2 86.8L121.8 90.8L120.6 92.8L114 99.1L108 100L105.3 101.3L103.6 103.3L103.1 105.3L103.8 107.7L106 109.7L108.8 110.7L113.5 111.3L115 112.2L121.3 118.7L121.8 120.2L122.5 125.2L123.7 127.7L124.6 128.7L126 129.6L128.5 129.9L130.5 129L132.3 126.7L133.1 124.2L133.7 119.7L134.9 117.7L140.5 112.1L141.5 111.5L147 110.7L150.2 109.2L151.9 107.2L152.3 105.2L151.5 102.8L149.5 100.9L146.5 99.8L142 99.3L140.5 98.5L134 91.8L133 85.8L131.5 82.6L129.5 81L127 80.7ZM126.5 93.2L128.5 93.1L129.6 93.8L129.5 95.3L128.5 96.5L127.5 96.8L126.2 95.8L125.7 94.3L126.4 93.3ZM126.3 93.8L125.9 94.8L126.7 96.3L127.5 96.7L128.7 96.3L129.5 94.8L129.1 93.8L128 93.3L126.5 93.6ZM116 103.6L117.5 103.4L118.7 104.3L119.2 105.2L118.5 106.6L117 107.3L116 107L115.4 105.2L115.8 103.8ZM116.3 103.8L115.7 104.8L115.9 106.2L116.5 106.9L118 106.8L119 105.8L119 104.8L118 103.8L116.5 103.7ZM137.5 103.6L138.5 103.3L139.6 103.8L140 105.2L139.5 106.9L139 107.2L138 107.2L136.5 106.1L136.4 104.8L137.3 103.8ZM137.5 103.8L136.4 104.8L136.5 106L138 107L139.2 106.7L139.7 105.7L139.5 104.3L138.5 103.5L137.5 103.8ZM127 114L128 113.9L129.1 114.7L129.7 116.2L129 117.4L127.5 117.6L126 117L125.8 115.7L126.7 114.2ZM126.8 114.2L126 115.7L126.2 116.7L127.5 117.3L129 116.9L129.4 115.7L129 114.7L128 113.9L127 114.1Z" fill="#00d2e5" stroke="#00d2e5" stroke-width="0.6"/>
<path d="M127 80.7L129.5 81L131.5 82.6L133 85.8L134 91.8L140.5 98.5L142 99.3L146.5 99.8L149.5 100.9L151.5 102.8L152.3 105.2L151.9 107.2L150.2 109.2L147 110.7L141.5 111.5L140.5 112.1L134.9 117.7L133.7 119.7L133.1 124.2L132.3 126.7L130.5 129L128.5 129.9L126 129.6L124.6 128.7L123.7 127.7L122.5 125.2L121.8 120.2L121.3 118.7L115 112.2L113.5 111.3L108.8 110.7L106 109.7L103.8 107.7L103.1 105.2L103.6 103.3L105.3 101.3L108 100L114 99.1L120.6 92.8L121.8 90.8L122.2 86.8L123 84.1L124.5 82L126.6 80.8ZM126.1 82.8L124.5 84.1L123.5 85.8L122.6 90.8L121.9 92.3L118 95.5L114 100L109 100.8L106.5 102.1L105.2 103.8L104.9 105.7L105.7 107.7L107.5 109.2L109.5 109.9L113.5 110.4L114.5 110.9L118 115.1L122.2 118.7L123.3 124.2L124.5 126.5L126.5 127.9L128 128.1L129 127.9L130.5 126.9L131.7 125.2L132.4 123.2L132.8 119.7L133.6 118.2L137.5 115L141 110.9L142 110.4L146.5 109.7L148.6 108.7L150 107.2L150.5 105.2L149.9 103.3L148.4 101.8L146 100.7L141.5 100L140.5 99.3L137.5 95.6L133.1 91.8L132.2 86.8L131 84.2L129 82.7L128 82.5L126.5 82.7ZM126.5 92.7L129 92.7L129.8 93.3L130 93.8L129.3 95.8L128 96.8L127 96.6L125.8 95.3L125.4 93.8L126.3 92.8ZM126.4 93.3L125.7 94.3L126.2 95.8L127.5 96.8L128.5 96.5L129.5 95.3L129.6 93.8L128.5 93.1L126.5 93.2ZM116 103L117 103.1L118 103.6L119.1 104.8L119 106L118 107L117 107.5L116 107.6L115.2 106.7L115 104.8L115.6 103.3ZM115.8 103.8L115.4 105.2L116 107L117 107.3L118.5 106.6L119.2 105.2L118.7 104.3L117.5 103.4L116 103.6ZM138 103.2L139.5 103.1L140.2 103.8L140.4 105.7L139.9 107.2L139 107.6L138 107.4L137 106.7L136.3 105.7L136.5 104.4L138 103.3ZM137.3 103.8L136.4 104.8L136.5 106.1L138 107.2L139 107.2L139.5 106.9L140 105.2L139.6 103.8L138.5 103.3L137.5 103.6ZM127 114L128 113.8L129.2 114.7L130 116.2L129.9 117.2L129.5 117.6L128.5 118L127 118L125.5 117.2L125.6 115.7L126.6 114.2ZM126.7 114.2L125.8 115.7L126 117L127.5 117.6L129 117.4L129.7 116.2L129.1 114.7L128 113.9L127 114Z" fill="#00e4e5" stroke="#00e4e5" stroke-width="0.6"/>
<path d="M126.5 82.7L128 82.5L129 82.7L131 84.2L132.2 86.8L133.1 91.8L137.5 95.6L140.5 99.3L141.5 100L146 100.7L148.4 101.8L149.9 103.3L150.5 105.2L150 107.2L148.6 108.7L146.5 109.7L142 110.4L141 110.9L137.5 115L133.6 118.2L132.8 119.7L132.4 123.2L131.7 125.2L130.5 126.9L129 127.9L128 128.1L126.5 127.9L124.5 126.5L123.3 124.2L122.2 118.7L118 115.1L114.5 110.9L113.5 110.4L109.5 109.9L107.5 109.2L105.7 107.7L104.9 105.7L105.2 103.8L106.5 102.1L109 100.8L114 100L118 95.5L121.9 92.3L122.6 90.8L123.5 85.8L124.5 84.1L126.1 82.8ZM127.5 84.3L126 84.8L124.5 86.6L123.9 88.3L123.6 91.8L123.2 92.3L120 94.2L118.1 95.8L116.4 97.8L114.5 101L110.5 101.6L108.7 102.3L107.1 103.8L106.7 105.2L107.1 106.7L108.5 108.2L110.5 109L114.5 109.6L116.4 112.7L118 114.7L120 116.5L123.6 118.7L124 122.6L125 124.8L126.5 126.1L128 126.3L129.5 125.7L131 123.8L131.5 122.1L131.8 118.7L135.5 116.4L137.4 114.7L139 112.7L141 109.5L144.5 109.1L146.5 108.5L148 107.2L148.7 105.2L148.3 103.8L146.7 102.3L144.5 101.5L141 101.1L139 97.8L137.3 95.8L131.8 91.8L131.5 88.3L130.7 86.3L129.5 84.9L127.5 84.3ZM126 92.1L129 92.1L130.5 92.8L130.5 93.8L129.8 95.3L129 96.3L128 96.8L127.2 96.8L126.4 96.3L125.3 94.8L124.8 93.3L124.9 92.8L125.6 92.3ZM126.3 92.8L125.4 93.8L125.8 95.3L127 96.6L128 96.8L129.3 95.8L130 93.8L129.8 93.3L129 92.7L126.5 92.7ZM115 102.6L116.5 102.6L118.5 103.9L119.3 105.2L118.9 106.2L118 107.2L116.5 108L115 108L114.6 107.2L114.4 105.2L114.9 102.8ZM115.6 103.3L115 104.8L115.2 106.7L116 107.6L117 107.5L118 107L119 106L119.1 104.8L118 103.6L117 103.1L116 103ZM139 102.6L140 102.4L140.5 102.7L140.9 103.8L140.9 106.7L140.5 107.9L140 108.2L138 107.5L137 106.8L136.2 105.7L136.5 104.3L138.7 102.8ZM138 103.3L136.5 104.4L136.3 105.7L137 106.7L138 107.4L139 107.6L139.9 107.2L140.4 105.7L140.2 103.8L139.5 103.1L138 103.2ZM127 113.9L127.5 113.7L128.5 114L129.7 115.2L130.6 117.2L130.1 118.2L127 118.6L125 118L124.8 117.2L125.1 116.2L126.5 114.2ZM126.6 114.2L125.6 115.7L125.5 117.2L127 118L128.5 118L129.5 117.6L129.9 117.2L130 116.2L129.2 114.7L128 113.8L127 114Z" fill="#00f6e5" stroke="#00f6e5" stroke-width="0.6"/>
<path d="M127.5 84.3L129.5 84.9L130.7 86.3L131.5 88.3L131.8 91.8L137.3 95.8L139 97.8L141 101.1L144.5 101.5L146.7 102.3L148.3 103.8L148.7 105.2L148 107.2L146.5 108.5L144.5 109.1L141 109.5L139 112.7L137.4 114.7L135.5 116.4L131.8 118.7L131.5 122.1L131 123.8L129.5 125.7L128 126.3L126.5 126.1L125 124.8L124 122.6L123.6 118.7L120 116.5L118 114.7L116.4 112.7L114.5 109.6L110.5 109L108.5 108.2L107.1 106.7L106.7 105.2L107.1 103.8L108.7 102.3L110.5 101.6L114.5 101L116.4 97.8L118.1 95.8L120 94.2L123.2 92.3L123.6 91.8L123.9 88.3L124.5 86.6L126 84.8L127.5 84.3ZM126.4 86.8L125.6 87.8L125.3 88.8L125.5 90.5L127 91.1L129.6 90.8L130 90.3L130.2 89.3L129.5 87.3L128 86.4L126.5 86.7ZM125.6 92.3L124.9 92.8L124.8 93.3L125.3 94.8L126.4 96.3L127.2 96.8L128 96.8L129 96.3L129.8 95.3L130.5 93.8L130.5 92.8L129 92.1L126 92.1ZM122.7 93.3L120.5 94.2L118.5 95.7L116.8 97.8L115.8 99.8L115.6 100.8L116 101.8L118.5 103.8L119.3 105.2L118.5 106.8L115.7 109.2L115.9 111.2L117 113.2L118.5 114.9L120.5 116.4L122 117.2L123 117.4L124 117.2L126.4 114.2L127.5 113.7L129 114.2L131.5 117.2L132.5 117.4L134.5 116.7L136.5 115.3L138.4 113.2L139.5 111.2L139.7 109.2L136.5 106.4L136.1 105.2L137 103.7L138.9 102.3L139.7 101.3L139.4 99.3L138.3 97.3L137 95.8L135.5 94.5L133.5 93.5L131.5 93.4L129.1 96.3L127.5 96.9L126.3 96.3L124 93.4L123 93.2ZM114.9 102.8L114.4 105.2L114.6 107.2L115 108L116.5 108L118 107.2L118.9 106.2L119.3 105.2L118.5 103.9L116.5 102.6L115 102.6ZM138.7 102.8L136.5 104.3L136.2 105.7L137 106.8L138 107.5L140 108.2L140.5 107.9L140.9 106.7L140.9 103.8L140.5 102.7L140 102.4L139 102.6ZM110.1 103.3L108.8 104.8L109 106.2L110.5 107.5L112.5 107.7L113.4 106.7L113.3 103.8L112.5 102.9L110.5 103.1ZM142.3 103.3L142 104L141.9 105.7L142 106.7L142.5 107.5L144.2 107.7L146 106.8L146.6 105.2L146 103.8L144 102.8L142.5 103.1ZM126.5 114.2L125.1 116.2L124.8 117.2L125 118L127 118.6L130.1 118.2L130.6 117.2L129.7 115.2L128.5 114L127.5 113.7L127 113.9ZM126 119.7L125.2 120.7L125.5 122.7L127 124.1L128.5 124.1L129.5 123.3L130 122.4L130.2 121.2L130 120.2L129.4 119.7L128.5 119.5L126 119.7Z" fill="#09ffe5" stroke="#09ffe5" stroke-width="0.6"/>
<path d="M126.5 86.7L128 86.4L129.5 87.3L130.2 89.3L130 90.3L129.6 90.8L127 91.1L125.5 90.5L125.3 88.8L125.6 87.8L126.4 86.8ZM123 93.2L124 93.4L126.3 96.3L127.5 96.9L129.1 96.3L131.5 93.4L133.5 93.5L135.5 94.5L137 95.8L138.3 97.3L139.4 99.3L139.7 101.3L138.9 102.3L137 103.7L136.1 105.2L136.5 106.4L139.7 109.2L139.5 111.2L138.4 113.2L136.5 115.3L134.5 116.7L132.5 117.4L131.5 117.2L129 114.2L127.5 113.7L126.4 114.2L124 117.2L123 117.4L122 117.2L120.5 116.4L118.5 114.9L117 113.2L115.9 111.2L115.7 109.2L118.5 106.8L119.3 105.2L118.5 103.8L116 101.8L115.6 100.8L115.8 99.8L116.8 97.8L118.5 95.7L120.5 94.2L122.7 93.3ZM122.3 93.8L120.5 94.5L118.7 95.8L117.4 97.3L116.3 99.3L116.2 101.3L119 104.3L119.4 105.2L119 106.3L116.3 109.2L116.2 110.7L116.7 112.2L119 115.1L122 116.8L123 116.9L124 116.6L126.3 114.2L127.5 113.7L129 114.2L131.5 116.7L133 116.9L134.5 116.4L136.5 115L138.1 113.2L139.1 111.2L139.1 109.2L136.5 106.5L136 105.2L136.5 104.1L139.2 101.3L139.3 100.3L138.9 98.8L138 97.3L136.5 95.6L133.5 93.9L131.5 93.9L129.2 96.3L127.5 96.9L126.2 96.3L124 94L122.5 93.7ZM110.5 103.1L112.5 102.9L113.3 103.8L113.4 106.7L112.5 107.7L110.5 107.5L109 106.2L108.8 104.8L110.1 103.3ZM142.5 103.1L144 102.8L146 103.8L146.6 105.2L146 106.8L144.2 107.7L142.5 107.5L142 106.7L141.9 105.7L142 104L142.3 103.3ZM126 119.7L128.5 119.5L129.4 119.7L130 120.2L130.2 121.2L130 122.4L129.5 123.3L128.5 124.1L127 124.1L125.5 122.7L125.2 120.7L126 119.7Z" fill="#1bffe3" stroke="#1bffe3" stroke-width="0.6"/>
<path d="M122.5 93.7L124 94L126.2 96.3L127.5 96.9L129.2 96.3L131.5 93.9L133.5 93.9L136.5 95.6L138 97.3L138.9 98.8L139.3 100.3L139.2 101.3L136.5 104.1L136 105.2L136.5 106.5L139.1 109.2L139.1 111.2L138.1 113.2L136.5 115L134.5 116.4L133 116.9L131.5 116.7L129 114.2L127.5 113.7L126.3 114.2L124 116.6L123 116.9L122 116.8L119 115.1L116.7 112.2L116.2 110.7L116.3 109.2L119 106.3L119.4 105.2L119 104.3L116.2 101.3L116.3 99.3L117.4 97.3L118.7 95.8L120.5 94.5L122.3 93.8ZM121.5 94.3L120 95L118.5 96.3L117.3 97.8L116.6 99.3L116.6 101.3L119 104.2L119.4 105.2L119 106.4L116.6 109.2L116.5 110.7L117.3 112.7L119.5 115.2L122 116.5L124 116.2L126.3 114.2L127.5 113.6L129.1 114.2L131.5 116.3L133.5 116.4L135 115.8L136.5 114.7L137.8 113.2L138.8 111.2L138.8 109.2L136.5 106.6L136 105.2L136.5 104L138.8 101.3L138.9 99.8L138.4 98.3L136.4 95.8L133.5 94.2L131.5 94.3L128.6 96.8L127.5 97L126.1 96.3L124 94.4L122 94.1Z" fill="#2dffd1" stroke="#2dffd1" stroke-width="0.6"/>
<path d="M122 94.1L124 94.4L126.1 96.3L127.5 97L128.6 96.8L131.5 94.3L133.5 94.2L136.4 95.8L138.4 98.3L138.9 99.8L138.8 101.3L136.5 104L136 105.2L136.5 106.6L138.8 109.2L138.8 111.2L137.8 113.2L136.5 114.7L135 115.8L133.5 116.4L131.5 116.3L129.1 114.2L127.5 113.6L126.3 114.2L124 116.2L122 116.5L119.5 115.2L117.3 112.7L116.5 110.7L116.6 109.2L119 106.4L119.4 105.2L119 104.2L116.6 101.3L116.6 99.3L117.3 97.8L118.5 96.3L120 95L121.5 94.3ZM120.9 94.8L118.3 96.8L117.3 98.3L116.8 99.8L117.1 101.8L119 104.1L119.5 105.2L119 106.5L117.2 108.7L116.8 109.7L116.9 111.2L117.8 113.2L120 115.3L122 116.2L124 116L126.2 114.2L127.5 113.6L128.5 113.7L132 116.2L133.5 116.2L135 115.6L137.6 113.2L138.6 110.7L138.2 108.7L136.5 106.7L135.9 105.3L136.5 103.9L138.3 101.8L138.6 100.8L138.5 99.3L137.8 97.8L136 95.7L133.5 94.4L131.5 94.6L128.7 96.8L127.5 97L123.5 94.4L122.5 94.3L121 94.7Z" fill="#40ffbe" stroke="#40ffbe" stroke-width="0.6"/>
<path d="M121 94.7L122.5 94.3L123.5 94.4L127.5 97L128.7 96.8L131.5 94.6L133.5 94.4L136 95.7L137.8 97.8L138.5 99.3L138.6 100.8L138.3 101.8L136.5 103.9L135.9 105.2L136.5 106.7L138.2 108.7L138.6 110.7L137.6 113.2L135 115.6L133.5 116.2L132 116.2L128.5 113.7L127.5 113.6L126.2 114.2L124 116L122 116.2L120 115.3L117.8 113.2L116.9 111.2L116.8 109.7L117.2 108.7L119 106.5L119.5 105.2L119 104.1L117.1 101.8L116.8 99.8L117.3 98.3L118.3 96.8L120.9 94.8ZM121.5 94.8L119 96.3L117.8 97.8L117.1 99.3L117.1 101.3L119 104L119.5 105.2L119.2 106.2L117.4 108.7L117 109.7L117.1 111.2L117.7 112.7L119.5 114.7L122 116L124 115.7L127.5 113.5L128.6 113.7L132 116L133 116L134.5 115.6L137 113.7L137.9 112.2L138.4 110.7L138.3 109.2L136.2 106.2L135.9 105.2L136.2 104.3L138.3 101.3L138.4 99.8L137.6 97.8L135.8 95.8L133.5 94.7L131.5 94.8L128.8 96.8L127.5 97.1L126.6 96.8L124 94.8L123 94.6L121.5 94.8Z" fill="#52ffac" stroke="#52ffac" stroke-width="0.6"/>
<path d="M121.5 94.8L123 94.6L124 94.8L126.6 96.8L127.5 97.1L128.8 96.8L131.5 94.8L133.5 94.7L135.8 95.8L137.6 97.8L138.4 99.8L138.3 101.3L136.2 104.3L135.9 105.2L136.2 106.2L138.3 109.2L138.4 110.7L137.9 112.2L137 113.7L134.5 115.6L133 116L132 116L128.6 113.7L127.5 113.5L124 115.7L122 116L119.5 114.7L117.7 112.7L117.1 111.2L117 109.7L117.4 108.7L119.2 106.2L119.5 105.2L119 104L117.1 101.3L117.1 99.3L117.8 97.8L119 96.3L121.5 94.8ZM120.8 95.3L118.4 97.3L117.2 99.8L117.5 101.8L119 103.9L119.5 105.3L119.3 106.2L117.8 108.2L117.2 109.7L117.3 111.2L118.3 113.2L120 114.9L122.5 115.8L124 115.6L127.5 113.5L128.7 113.7L131 115.4L132 115.7L133 115.8L134.5 115.4L137 113.4L138.2 110.7L137.8 108.7L136.1 106.2L135.9 105.2L138.2 100.8L138.1 99.3L137.4 97.8L135.5 95.8L133.5 94.9L131.5 95L128.9 96.8L127.5 97.1L123.5 94.9L121 95.2Z" fill="#64ff9a" stroke="#64ff9a" stroke-width="0.6"/>
<path d="M121 95.2L123.5 94.9L127.5 97.1L128.9 96.8L131.5 95L133.5 94.9L135.5 95.8L137.4 97.8L138.1 99.3L138.2 100.8L135.9 105.2L136.1 106.2L137.8 108.7L138.2 110.7L137 113.4L134.5 115.4L133 115.8L132 115.7L131 115.4L128.7 113.7L127.5 113.5L124 115.6L122.5 115.8L120 114.9L118.3 113.2L117.3 111.2L117.2 109.7L117.8 108.2L119.3 106.2L119.5 105.2L119 103.9L117.5 101.8L117.2 99.8L118.4 97.3L120.8 95.3ZM121.2 95.3L120 95.9L118.6 97.3L117.4 99.8L117.7 101.8L119.3 104.3L119.6 105.2L119.3 106.2L117.7 108.7L117.4 109.7L117.5 111.2L118.1 112.7L120 114.7L122 115.6L124 115.4L127.5 113.4L128.8 113.7L131.5 115.4L132.5 115.6L134 115.4L136.5 113.7L137.9 111.2L137.9 109.2L136.1 106.2L135.8 105.2L136.1 104.3L137.9 101.3L137.9 99.3L137.2 97.8L135.5 96L133.5 95.1L131.5 95.2L129 96.8L127.5 97.2L124 95.2L123 95L121.5 95.2Z" fill="#76ff88" stroke="#76ff88" stroke-width="0.6"/>
<path d="M121.5 95.2L123 95L124 95.2L127.5 97.2L129 96.8L131.5 95.2L133.5 95.1L135.5 96L137.2 97.8L137.9 99.3L137.9 101.3L136.1 104.3L135.8 105.2L136.1 106.2L137.9 109.2L137.9 111.2L136.5 113.7L134 115.4L132.5 115.6L131.5 115.4L128.8 113.7L127.5 113.4L124 115.4L122 115.6L120 114.7L118.1 112.7L117.5 111.2L117.4 109.7L117.7 108.7L119.3 106.2L119.6 105.2L119.3 104.3L117.7 101.8L117.4 99.8L118.6 97.3L120 95.9L121.2 95.3ZM121 96.3L119.2 97.8L118.2 100.3L118.4 101.8L119.8 105.2L118.2 109.7L118.4 111.2L119.1 112.7L120.5 114L122.5 114.8L124.5 114.5L127.5 113.2L128.5 113.3L131.5 114.7L134 114.5L136 113.1L137.2 110.7L137.1 109.2L135.6 105.2L137.2 101.3L137.1 99.8L136.5 98.2L135 96.6L133 95.8L131.5 95.9L128.5 97.3L127.5 97.4L124 95.9L121.5 96Z" fill="#b2ff4c" stroke="#b2ff4c" stroke-width="0.6"/>
<path d="M121.5 96L124 95.9L127.5 97.4L128.5 97.3L131.5 95.9L133 95.8L135 96.6L136.5 98.2L137.1 99.8L137.2 101.3L135.6 105.2L137.1 109.2L137.2 110.7L136 113.1L134 114.5L131.5 114.7L128.5 113.3L127.5 113.2L124.5 114.5L122.5 114.8L120.5 114L119.1 112.7L118.4 111.2L118.2 109.7L119.8 105.2L118.4 101.8L118.2 100.3L119.2 97.8L121 96.3ZM121.4 96.8L119.6 98.3L118.8 100.3L118.9 101.8L120 105.2L118.8 109.2L118.9 110.7L119.6 112.2L121 113.6L123 114.2L124.5 114.1L127.5 113L131.5 114.2L134 113.8L135.8 112.2L136.6 110.2L136.5 108.7L135.4 105.2L136.6 101.3L136.5 99.8L135.8 98.3L134.5 97.1L132.5 96.4L131 96.5L128 97.6L127 97.5L124 96.4L121.5 96.7Z" fill="#ffe500" stroke="#ffe500" stroke-width="0.6"/>
<path d="M121.5 96.7L124 96.4L127 97.5L128 97.6L131 96.5L132.5 96.4L134.5 97.1L135.8 98.3L136.5 99.8L136.6 101.3L135.4 105.2L136.5 108.7L136.6 110.2L135.8 112.2L134 113.8L131.5 114.2L127.5 113L124.5 114.1L123 114.2L121 113.6L119.6 112.2L118.9 110.7L118.8 109.2L120 105.2L118.9 101.8L118.8 100.3L119.6 98.3L121.4 96.8ZM121.6 97.3L119.9 98.8L119.2 100.8L120.2 105.2L119.2 109.2L119.4 110.7L120 111.9L121.4 113.2L123 113.8L124.5 113.7L127.5 112.8L131.5 113.8L133.5 113.5L135.2 112.2L136.1 110.2L136.1 108.7L135.2 105.2L136.2 101.3L135.5 98.8L134 97.4L132.5 96.9L131 96.9L128 97.8L124 96.8L122 97.1Z" fill="#ff7f00" stroke="#ff7f00" stroke-width="0.6"/>
<path d="M122 97.1L124 96.8L128 97.8L131 96.9L132.5 96.9L134 97.4L135.5 98.8L136.2 101.3L135.2 105.2L136.1 108.7L136.1 110.2L135.2 112.2L133.5 113.5L131.5 113.8L127.5 112.8L124.5 113.7L123 113.8L121.4 113.2L120 111.9L119.4 110.7L119.2 109.2L120.2 105.2L119.2 100.8L119.9 98.8L121.6 97.3ZM122.9 97.3L121 98.3L119.7 100.3L119.7 102.3L120.4 105.2L119.6 109.2L120.1 111.2L121.5 112.7L123 113.4L124.5 113.4L127.5 112.6L131 113.4L132.5 113.3L134.6 112.2L135.7 110.2L135.8 108.7L135 105.2L135.8 101.8L135.3 99.3L134 97.9L132.5 97.3L131 97.2L127.5 98L124.5 97.2L123 97.3Z" fill="#ff1900" stroke="#ff1900" stroke-width="0.6"/>
<path d="M123 97.3L124.5 97.2L127.5 98L131 97.2L132.5 97.3L134 97.9L135.3 99.3L135.8 101.8L135 105.2L135.8 108.7L135.7 110.2L134.6 112.2L132.5 113.3L131 113.4L127.5 112.6L124.5 113.4L123 113.4L121.5 112.7L120.1 111.2L119.6 109.2L120.4 105.2L119.7 102.3L119.7 100.3L121 98.3L122.9 97.3ZM122.5 97.8L120.6 99.3L119.9 101.3L120.5 105.2L119.9 109.2L120.5 111.2L122 112.6L123.5 113.1L127.5 112.5L131 113.1L133 112.8L134.5 111.7L135.5 109.7L134.9 105.2L135.5 101.3L134.8 99.3L133.5 98L132 97.5L128 98.1L124.5 97.5L122.5 97.8Z" fill="#b20000" stroke="#b20000" stroke-width="0.6"/>
<path d="M122.5 97.8L124.5 97.5L128 98.1L132 97.5L133.5 98L134.8 99.3L135.5 101.3L134.9 105.2L135.5 109.7L134.5 111.7L133 112.8L131 113.1L127.5 112.5L123.5 113.1L122 112.6L120.5 111.2L119.9 109.2L120.5 105.2L119.9 101.3L120.6 99.3L122.5 97.8ZM126.6 100.8L124.5 101.5L123.5 102.8L123.1 104.8L123.3 107.2L124 108.7L125 109.4L126.5 109.8L128.5 109.9L130.5 109.4L131.7 108.2L132.2 106.7L132.2 103.8L131.6 102.3L130.5 101.2L129 100.8L127 100.7Z" fill="#7f0000" stroke="#7f0000" stroke-width="0.6"/></g>
<g opacity="0.5"><path d="M127.5 72.8L130 73.2L132 74.2L133.5 75.5L135 77.7L136 80.3L136.4 82.8L136.3 91.3L137 92.8L138.5 94.5L140.5 96.2L142 96.7L150.5 96.7L155 97.9L157.2 99.3L158.7 100.8L159.7 102.8L160.2 105.2L159.8 107.7L158.7 109.7L157 111.5L155 112.7L150.5 113.9L142 113.9L140.5 114.4L138.3 116.2L136.8 118.2L136.2 119.7L136.4 127.7L136 130.2L135.1 132.7L133.9 134.7L132 136.4L130 137.4L128 137.8L125.5 137.5L123.5 136.5L122 135.2L120.5 133.1L119.5 130.7L119.1 128.2L119.2 119.7L118.6 118.2L117 116.1L115 114.5L113.5 113.9L105 113.9L102.5 113.5L100.4 112.7L98 111.2L96.7 109.7L95.6 107.7L95.2 105.2L95.5 103.3L96.4 101.3L98 99.4L100 98.1L102.5 97.1L105 96.7L113.5 96.7L115 96.1L117 94.4L118.4 92.8L119.1 91.3L119 82.8L119.5 80.1L120.3 77.8L121.5 76L123.2 74.3L125 73.3L127.2 72.8ZM125.5 75.3L124 76.1L122.5 77.3L120.7 80.3L119.8 84.3L119.8 90.8L119.2 92.3L118.1 93.8L115.5 96.3L114 97.1L112.5 97.4L105.5 97.6L101.5 98.9L99.6 100.3L98.4 101.8L97.5 103.8L97.4 105.7L97.8 107.7L98.6 109.2L100 110.7L102 112L106 113.1L113.5 113.3L116 114.7L118.5 117.2L119.6 119.2L120 127.6L120.7 130.2L121.7 132.2L123.5 134.2L125.5 135.3L128 135.7L130 135.2L131.5 134.5L132.9 133.2L134.7 130.2L135.5 126.7L135.7 119.7L136.2 118.2L137.4 116.7L140 114.2L141.5 113.4L149.5 113.1L152 112.5L154 111.7L155.9 110.2L157.1 108.7L157.9 106.7L158 104.8L157.5 102.8L156.7 101.3L155.2 99.8L153.5 98.7L149.5 97.5L142 97.3L140.5 96.7L139 95.5L136.9 93.3L135.8 91.3L135.4 82.8L134.7 80.3L133.6 78.3L132 76.5L130 75.4L128 74.9L125.5 75.3ZM127 94L128 93.9L129 94.5L129.1 95.3L128.5 96.3L127.5 96.6L126.9 96.3L126.3 95.3L126.6 94.3ZM126.9 94.3L126.5 94.8L126.6 95.8L127.5 96.5L128.4 96.3L128.8 95.8L128.9 94.8L128 94.1L127 94.2ZM117 104L118 104L118.8 104.8L119 105.4L118.5 106.3L117.5 106.7L116.5 106.2L116.2 105.2L116.6 104.3ZM116.9 104.3L116.4 105.2L116.8 106.2L117.5 106.6L118.5 106.2L119 105.2L118.8 104.8L118 104.1L117 104.2ZM137 104.2L138 103.9L138.8 104.3L139.2 105.2L138.9 106.2L138 106.7L137 106.4L136.4 105.3L137 104.3ZM137.2 104.3L136.5 105L136.5 105.7L137.5 106.5L138.5 106.4L138.9 105.7L138.9 104.8L138.5 104.2L137.5 104.1ZM127.5 114L128.4 114.2L129.1 115.2L129 116.1L128.5 116.6L127.5 116.8L126.5 116.2L126.3 115.2L127 114.2ZM127.1 114.2L126.6 114.7L126.5 115.8L127.5 116.6L128.5 116.3L128.9 115.7L128.8 114.7L128.3 114.2L127.5 114.1Z" fill="#039ee3" stroke="#039ee3" stroke-width="0.6"/>
<path d="M125.5 75.3L128 74.9L130 75.4L132 76.5L133.6 78.3L134.7 80.3L135.4 82.8L135.8 91.3L136.9 93.3L139 95.5L140.5 96.7L142 97.3L149.5 97.5L153.5 98.7L155.2 99.8L156.7 101.3L157.5 102.8L158 104.8L157.9 106.7L157.1 108.7L155.9 110.2L154 111.7L152 112.5L149.5 113.1L141.5 113.4L140 114.2L137.4 116.7L136.2 118.2L135.7 119.7L135.5 126.7L134.7 130.2L132.9 133.2L131.5 134.5L130 135.2L128 135.7L125.5 135.3L123.5 134.2L121.7 132.2L120.7 130.2L120 127.6L119.6 119.2L118.5 117.2L116 114.7L113.5 113.3L106 113.1L102 112L100 110.7L98.6 109.2L97.8 107.7L97.4 105.7L97.5 103.8L98.4 101.8L99.6 100.3L101.5 98.9L105.5 97.6L112.5 97.4L114 97.1L115.5 96.3L118.1 93.8L119.2 92.3L119.8 90.8L119.8 84.3L120.7 80.3L122.5 77.3L124 76.1L125.5 75.3ZM125.6 77.3L123.4 78.8L121.5 81.6L120.7 84.8L120.4 90.8L119.8 92.3L118.6 93.8L115.5 96.8L114 97.7L106.5 98.4L102.7 99.8L101.4 100.8L100.2 102.3L99.5 103.8L99.4 105.7L99.7 107.2L100.5 108.7L101.9 110.2L103.5 111.2L107 112.3L113.5 112.7L116 114.3L119.4 117.7L120.2 119.2L120.8 126.7L121.5 129L122.5 130.8L124 132.4L125.5 133.2L127.5 133.7L129.5 133.4L132 131.8L133.8 129.2L134.7 125.7L135.1 119.7L136.5 117.2L140 113.7L141.5 112.8L149 112.2L152.8 110.7L154.1 109.7L155.3 108.2L155.9 106.7L156 104.8L155.7 103.3L154.9 101.8L153.5 100.3L152 99.4L148.5 98.3L142 97.9L139.5 96.4L136.4 93.3L135.3 91.8L135 90.3L134.6 83.8L134 81.8L133 80L131.5 78.3L130 77.4L128 76.9L126 77.2ZM127 93.7L128 93.6L129.1 94.3L129 95.8L128 96.6L126.8 96.3L126.2 95.3L126.3 94.3L126.8 93.8ZM126.6 94.3L126.3 95.3L126.9 96.3L127.5 96.6L128.5 96.3L129.1 95.3L129 94.5L128 93.9L127 94ZM117 103.7L118.5 104.2L119.1 105.2L118.5 106.4L117.5 106.9L116.5 106.6L116 105.7L116.3 104.3L117 103.8ZM116.6 104.3L116.2 105.2L116.5 106.2L117.5 106.7L118.5 106.3L119 105.4L118.8 104.8L118 104L117 104ZM138 103.7L139 104.1L139.4 104.8L139.2 106.2L138.5 106.8L137 106.5L136.3 105.2L137 104.1L137.9 103.8ZM137 104.3L136.4 105.2L137 106.4L138 106.7L138.9 106.2L139.2 105.2L138.8 104.3L138 103.9L137 104.2ZM127 114.2L128 114L128.9 114.7L129.3 115.7L128.7 116.7L127.5 117L126.5 116.6L126.1 115.7L126.9 114.2ZM127 114.2L126.3 115.2L126.5 116.2L127.5 116.8L128.5 116.6L129 116.1L129.1 115.2L128.4 114.2L127.5 114Z" fill="#00aee5" stroke="#00aee5" stroke-width="0.6"/>
<path d="M126 77.2L128 76.9L130 77.4L131.5 78.3L133 80L134 81.8L134.6 83.8L135 90.3L135.3 91.8L136.4 93.3L139.5 96.4L142 97.9L148.5 98.3L152 99.4L153.5 100.3L154.9 101.8L155.7 103.3L156 104.8L155.9 106.7L155.3 108.2L154.1 109.7L152.8 110.7L149 112.2L141.5 112.8L140 113.7L136.5 117.2L135.1 119.7L134.7 125.7L133.8 129.2L132 131.8L129.5 133.4L127.5 133.7L125.5 133.2L124 132.4L122.5 130.8L121.5 129L120.8 126.7L120.2 119.2L119.4 117.7L116 114.3L113.5 112.7L107 112.3L103.5 111.2L101.9 110.2L100.5 108.7L99.7 107.2L99.4 105.7L99.5 103.8L100.2 102.3L101.4 100.8L102.7 99.8L106.5 98.4L114 97.7L115.5 96.8L118.6 93.8L119.8 92.3L120.4 90.8L120.7 84.8L121.5 81.6L123.4 78.8L125.6 77.3ZM125.5 79.3L123.5 80.9L122.1 83.3L121.4 85.8L121 90.8L120 92.8L115.5 97.3L114 98.4L107 99.3L103.7 100.8L102.6 101.8L101.7 103.3L101.3 105.7L102.2 108.2L104.5 110.3L107.5 111.4L113.5 112L115.5 113.3L120.6 118.7L121.1 120.2L121.6 125.7L123.1 129.2L124.5 130.7L126 131.5L128 131.8L129.5 131.4L131.5 130.1L133.2 127.7L134 124.7L134.4 119.7L135.5 117.7L141 112.4L142.5 111.9L148.5 111.3L151.5 110L153.5 107.7L154.1 106.2L154.1 104.8L153.2 102.3L152 101L150.5 100L147.5 99.1L142 98.6L140 97.4L134.7 91.8L134.3 90.3L133.8 84.8L133 82.6L132 81L130.5 79.7L129 79L127.5 78.8L126 79.1ZM126.5 93.6L128 93.3L129.1 93.8L129.5 94.8L128.7 96.3L127.5 96.7L126.7 96.3L125.9 94.8L126.3 93.8ZM126.8 93.8L126.3 94.3L126.2 95.3L126.8 96.3L128 96.6L129 95.8L129.1 94.3L128 93.6L127 93.7ZM116.5 103.7L118 103.8L119 104.8L119 105.8L118 106.8L116.5 106.9L115.9 106.2L115.7 104.8L116.3 103.8ZM117 103.8L116.3 104.3L116 105.7L116.5 106.6L117.5 106.9L118.5 106.4L119.1 105.2L118.5 104.2L117 103.7ZM137.5 103.8L138.5 103.5L139.5 104.3L139.7 105.7L139.2 106.7L138 107L136.5 106L136.4 104.8L137.5 103.8ZM137.9 103.8L137 104.1L136.3 105.2L137 106.5L138.5 106.8L139.2 106.2L139.4 104.8L139 104.1L138 103.7ZM127 114.1L128 113.9L129 114.7L129.4 115.7L129 116.9L127.5 117.3L126.2 116.7L126 115.7L126.8 114.2ZM126.9 114.2L126.1 115.7L126.5 116.6L127.5 117L128.7 116.7L129.3 115.7L128.9 114.7L128 114L127 114.2Z" fill="#00c0e5" stroke="#00c0e5" stroke-width="0.6"/>
<path d="M126 79.1L127.5 78.8L129 79L130.5 79.7L132 81L133 82.6L133.8 84.8L134.3 90.3L134.7 91.8L140 97.4L142 98.6L147.5 99.1L150.5 100L152 101L153.2 102.3L154.1 104.8L154.1 106.2L153.5 107.7L151.5 110L148.5 111.3L142.5 111.9L141 112.4L135.5 117.7L134.4 119.7L134 124.7L133.2 127.7L131.5 130.1L129.5 131.4L128 131.8L126 131.5L124.5 130.7L123.1 129.2L121.6 125.7L121.1 120.2L120.6 118.7L115.5 113.3L113.5 112L107.5 111.4L104.5 110.3L102.2 108.2L101.3 105.7L101.7 103.3L102.6 101.8L103.7 100.8L107 99.3L114 98.4L115.5 97.3L120 92.8L121 90.8L121.4 85.8L122.1 83.3L123.5 80.9L125.5 79.3ZM126.6 80.8L124.5 82L123 84.1L122.2 86.8L121.8 90.8L120.6 92.8L114 99.1L108 100L105.3 101.3L103.6 103.3L103.1 105.3L103.8 107.7L106 109.7L108.8 110.7L113.5 111.3L115 112.2L121.3 118.7L121.8 120.2L122.5 125.2L123.7 127.7L124.6 128.7L126 129.6L128.5 129.9L130.5 129L132.3 126.7L133.1 124.2L133.7 119.7L134.9 117.7L140.5 112.1L141.5 111.5L147 110.7L150.2 109.2L151.9 107.2L152.3 105.2L151.5 102.8L149.5 100.9L146.5 99.8L142 99.3L140.5 98.5L134 91.8L133 85.8L131.5 82.6L129.5 81L127 80.7ZM126.5 93.2L128.5 93.1L129.6 93.8L129.5 95.3L128.5 96.5L127.5 96.8L126.2 95.8L125.7 94.3L126.4 93.3ZM126.3 93.8L125.9 94.8L126.7 96.3L127.5 96.7L128.7 96.3L129.5 94.8L129.1 93.8L128 93.3L126.5 93.6ZM116 103.6L117.5 103.4L118.7 104.3L119.2 105.2L118.5 106.6L117 107.3L116 107L115.4 105.2L115.8 103.8ZM116.3 103.8L115.7 104.8L115.9 106.2L116.5 106.9L118 106.8L119 105.8L119 104.8L118 103.8L116.5 103.7ZM137.5 103.6L138.5 103.3L139.6 103.8L140 105.2L139.5 106.9L139 107.2L138 107.2L136.5 106.1L136.4 104.8L137.3 103.8ZM137.5 103.8L136.4 104.8L136.5 106L138 107L139.2 106.7L139.7 105.7L139.5 104.3L138.5 103.5L137.5 103.8ZM127 114L128 113.9L129.1 114.7L129.7 116.2L129 117.4L127.5 117.6L126 117L125.8 115.7L126.7 114.2ZM126.8 114.2L126 115.7L126.2 116.7L127.5 117.3L129 116.9L129.4 115.7L129 114.7L128 113.9L127 114.1Z" fill="#00d2e5" stroke="#00d2e5" stroke-width="0.6"/>
<path d="M127 80.7L129.5 81L131.5 82.6L133 85.8L134 91.8L140.5 98.5L142 99.3L146.5 99.8L149.5 100.9L151.5 102.8L152.3 105.2L151.9 107.2L150.2 109.2L147 110.7L141.5 111.5L140.5 112.1L134.9 117.7L133.7 119.7L133.1 124.2L132.3 126.7L130.5 129L128.5 129.9L126 129.6L124.6 128.7L123.7 127.7L122.5 125.2L121.8 120.2L121.3 118.7L115 112.2L113.5 111.3L108.8 110.7L106 109.7L103.8 107.7L103.1 105.2L103.6 103.3L105.3 101.3L108 100L114 99.1L120.6 92.8L121.8 90.8L122.2 86.8L123 84.1L124.5 82L126.6 80.8ZM126.1 82.8L124.5 84.1L123.5 85.8L122.6 90.8L121.9 92.3L118 95.5L114 100L109 100.8L106.5 102.1L105.2 103.8L104.9 105.7L105.7 107.7L107.5 109.2L109.5 109.9L113.5 110.4L114.5 110.9L118 115.1L122.2 118.7L123.3 124.2L124.5 126.5L126.5 127.9L128 128.1L129 127.9L130.5 126.9L131.7 125.2L132.4 123.2L132.8 119.7L133.6 118.2L137.5 115L141 110.9L142 110.4L146.5 109.7L148.6 108.7L150 107.2L150.5 105.2L149.9 103.3L148.4 101.8L146 100.7L141.5 100L140.5 99.3L137.5 95.6L133.1 91.8L132.2 86.8L131 84.2L129 82.7L128 82.5L126.5 82.7ZM126.5 92.7L129 92.7L129.8 93.3L130 93.8L129.3 95.8L128 96.8L127 96.6L125.8 95.3L125.4 93.8L126.3 92.8ZM126.4 93.3L125.7 94.3L126.2 95.8L127.5 96.8L128.5 96.5L129.5 95.3L129.6 93.8L128.5 93.1L126.5 93.2ZM116 103L117 103.1L118 103.6L119.1 104.8L119 106L118 107L117 107.5L116 107.6L115.2 106.7L115 104.8L115.6 103.3ZM115.8 103.8L115.4 105.2L116 107L117 107.3L118.5 106.6L119.2 105.2L118.7 104.3L117.5 103.4L116 103.6ZM138 103.2L139.5 103.1L140.2 103.8L140.4 105.7L139.9 107.2L139 107.6L138 107.4L137 106.7L136.3 105.7L136.5 104.4L138 103.3ZM137.3 103.8L136.4 104.8L136.5 106.1L138 107.2L139 107.2L139.5 106.9L140 105.2L139.6 103.8L138.5 103.3L137.5 103.6ZM127 114L128 113.8L129.2 114.7L130 116.2L129.9 117.2L129.5 117.6L128.5 118L127 118L125.5 117.2L125.6 115.7L126.6 114.2ZM126.7 114.2L125.8 115.7L126 117L127.5 117.6L129 117.4L129.7 116.2L129.1 114.7L128 113.9L127 114Z" fill="#00e4e5" stroke="#00e4e5" stroke-width="0.6"/>
<path d="M126.5 82.7L128 82.5L129 82.7L131 84.2L132.2 86.8L133.1 91.8L137.5 95.6L140.5 99.3L141.5 100L146 100.7L148.4 101.8L149.9 103.3L150.5 105.2L150 107.2L148.6 108.7L146.5 109.7L142 110.4L141 110.9L137.5 115L133.6 118.2L132.8 119.7L132.4 123.2L131.7 125.2L130.5 126.9L129 127.9L128 128.1L126.5 127.9L124.5 126.5L123.3 124.2L122.2 118.7L118 115.1L114.5 110.9L113.5 110.4L109.5 109.9L107.5 109.2L105.7 107.7L104.9 105.7L105.2 103.8L106.5 102.1L109 100.8L114 100L118 95.5L121.9 92.3L122.6 90.8L123.5 85.8L124.5 84.1L126.1 82.8ZM127.5 84.3L126 84.8L124.5 86.6L123.9 88.3L123.6 91.8L123.2 92.3L120 94.2L118.1 95.8L116.4 97.8L114.5 101L110.5 101.6L108.7 102.3L107.1 103.8L106.7 105.2L107.1 106.7L108.5 108.2L110.5 109L114.5 109.6L116.4 112.7L118 114.7L120 116.5L123.6 118.7L124 122.6L125 124.8L126.5 126.1L128 126.3L129.5 125.7L131 123.8L131.5 122.1L131.8 118.7L135.5 116.4L137.4 114.7L139 112.7L141 109.5L144.5 109.1L146.5 108.5L148 107.2L148.7 105.2L148.3 103.8L146.7 102.3L144.5 101.5L141 101.1L139 97.8L137.3 95.8L131.8 91.8L131.5 88.3L130.7 86.3L129.5 84.9L127.5 84.3ZM126 92.1L129 92.1L130.5 92.8L130.5 93.8L129.8 95.3L129 96.3L128 96.8L127.2 96.8L126.4 96.3L125.3 94.8L124.8 93.3L124.9 92.8L125.6 92.3ZM126.3 92.8L125.4 93.8L125.8 95.3L127 96.6L128 96.8L129.3 95.8L130 93.8L129.8 93.3L129 92.7L126.5 92.7ZM115 102.6L116.5 102.6L118.5 103.9L119.3 105.2L118.9 106.2L118 107.2L116.5 108L115 108L114.6 107.2L114.4 105.2L114.9 102.8ZM115.6 103.3L115 104.8L115.2 106.7L116 107.6L117 107.5L118 107L119 106L119.1 104.8L118 103.6L117 103.1L116 103ZM139 102.6L140 102.4L140.5 102.7L140.9 103.8L140.9 106.7L140.5 107.9L140 108.2L138 107.5L137 106.8L136.2 105.7L136.5 104.3L138.7 102.8ZM138 103.3L136.5 104.4L136.3 105.7L137 106.7L138 107.4L139 107.6L139.9 107.2L140.4 105.7L140.2 103.8L139.5 103.1L138 103.2ZM127 113.9L127.5 113.7L128.5 114L129.7 115.2L130.6 117.2L130.1 118.2L127 118.6L125 118L124.8 117.2L125.1 116.2L126.5 114.2ZM126.6 114.2L125.6 115.7L125.5 117.2L127 118L128.5 118L129.5 117.6L129.9 117.2L130 116.2L129.2 114.7L128 113.8L127 114Z" fill="#00f6e5" stroke="#00f6e5" stroke-width="0.6"/>
<path d="M127.5 84.3L129.5 84.9L130.7 86.3L131.5 88.3L131.8 91.8L137.3 95.8L139 97.8L141 101.1L144.5 101.5L146.7 102.3L148.3 103.8L148.7 105.2L148 107.2L146.5 108.5L144.5 109.1L141 109.5L139 112.7L137.4 114.7L135.5 116.4L131.8 118.7L131.5 122.1L131 123.8L129.5 125.7L128 126.3L126.5 126.1L125 124.8L124 122.6L123.6 118.7L120 116.5L118 114.7L116.4 112.7L114.5 109.6L110.5 109L108.5 108.2L107.1 106.7L106.7 105.2L107.1 103.8L108.7 102.3L110.5 101.6L114.5 101L116.4 97.8L118.1 95.8L120 94.2L123.2 92.3L123.6 91.8L123.9 88.3L124.5 86.6L126 84.8L127.5 84.3ZM126.4 86.8L125.6 87.8L125.3 88.8L125.5 90.5L127 91.1L129.6 90.8L130 90.3L130.2 89.3L129.5 87.3L128 86.4L126.5 86.7ZM125.6 92.3L124.9 92.8L124.8 93.3L125.3 94.8L126.4 96.3L127.2 96.8L128 96.8L129 96.3L129.8 95.3L130.5 93.8L130.5 92.8L129 92.1L126 92.1ZM122.7 93.3L120.5 94.2L118.5 95.7L116.8 97.8L115.8 99.8L115.6 100.8L116 101.8L118.5 103.8L119.3 105.2L118.5 106.8L115.7 109.2L115.9 111.2L117 113.2L118.5 114.9L120.5 116.4L122 117.2L123 117.4L124 117.2L126.4 114.2L127.5 113.7L129 114.2L131.5 117.2L132.5 117.4L134.5 116.7L136.5 115.3L138.4 113.2L139.5 111.2L139.7 109.2L136.5 106.4L136.1 105.2L137 103.7L138.9 102.3L139.7 101.3L139.4 99.3L138.3 97.3L137 95.8L135.5 94.5L133.5 93.5L131.5 93.4L129.1 96.3L127.5 96.9L126.3 96.3L124 93.4L123 93.2ZM114.9 102.8L114.4 105.2L114.6 107.2L115 108L116.5 108L118 107.2L118.9 106.2L119.3 105.2L118.5 103.9L116.5 102.6L115 102.6ZM138.7 102.8L136.5 104.3L136.2 105.7L137 106.8L138 107.5L140 108.2L140.5 107.9L140.9 106.7L140.9 103.8L140.5 102.7L140 102.4L139 102.6ZM110.1 103.3L108.8 104.8L109 106.2L110.5 107.5L112.5 107.7L113.4 106.7L113.3 103.8L112.5 102.9L110.5 103.1ZM142.3 103.3L142 104L141.9 105.7L142 106.7L142.5 107.5L144.2 107.7L146 106.8L146.6 105.2L146 103.8L144 102.8L142.5 103.1ZM126.5 114.2L125.1 116.2L124.8 117.2L125 118L127 118.6L130.1 118.2L130.6 117.2L129.7 115.2L128.5 114L127.5 113.7L127 113.9ZM126 119.7L125.2 120.7L125.5 122.7L127 124.1L128.5 124.1L129.5 123.3L130 122.4L130.2 121.2L130 120.2L129.4 119.7L128.5 119.5L126 119.7Z" fill="#09ffe5" stroke="#09ffe5" stroke-width="0.6"/>
<path d="M126.5 86.7L128 86.4L129.5 87.3L130.2 89.3L130 90.3L129.6 90.8L127 91.1L125.5 90.5L125.3 88.8L125.6 87.8L126.4 86.8ZM123 93.2L124 93.4L126.3 96.3L127.5 96.9L129.1 96.3L131.5 93.4L133.5 93.5L135.5 94.5L137 95.8L138.3 97.3L139.4 99.3L139.7 101.3L138.9 102.3L137 103.7L136.1 105.2L136.5 106.4L139.7 109.2L139.5 111.2L138.4 113.2L136.5 115.3L134.5 116.7L132.5 117.4L131.5 117.2L129 114.2L127.5 113.7L126.4 114.2L124 117.2L123 117.4L122 117.2L120.5 116.4L118.5 114.9L117 113.2L115.9 111.2L115.7 109.2L118.5 106.8L119.3 105.2L118.5 103.8L116 101.8L115.6 100.8L115.8 99.8L116.8 97.8L118.5 95.7L120.5 94.2L122.7 93.3ZM122.3 93.8L120.5 94.5L118.7 95.8L117.4 97.3L116.3 99.3L116.2 101.3L119 104.3L119.4 105.2L119 106.3L116.3 109.2L116.2 110.7L116.7 112.2L119 115.1L122 116.8L123 116.9L124 116.6L126.3 114.2L127.5 113.7L129 114.2L131.5 116.7L133 116.9L134.5 116.4L136.5 115L138.1 113.2L139.1 111.2L139.1 109.2L136.5 106.5L136 105.2L136.5 104.1L139.2 101.3L139.3 100.3L138.9 98.8L138 97.3L136.5 95.6L133.5 93.9L131.5 93.9L129.2 96.3L127.5 96.9L126.2 96.3L124 94L122.5 93.7ZM110.5 103.1L112.5 102.9L113.3 103.8L113.4 106.7L112.5 107.7L110.5 107.5L109 106.2L108.8 104.8L110.1 103.3ZM142.5 103.1L144 102.8L146 103.8L146.6 105.2L146 106.8L144.2 107.7L142.5 107.5L142 106.7L141.9 105.7L142 104L142.3 103.3ZM126 119.7L128.5 119.5L129.4 119.7L130 120.2L130.2 121.2L130 122.4L129.5 123.3L128.5 124.1L127 124.1L125.5 122.7L125.2 120.7L126 119.7Z" fill="#1bffe3" stroke="#1bffe3" stroke-width="0.6"/>
<path d="M122.5 93.7L124 94L126.2 96.3L127.5 96.9L129.2 96.3L131.5 93.9L133.5 93.9L136.5 95.6L138 97.3L138.9 98.8L139.3 100.3L139.2 101.3L136.5 104.1L136 105.2L136.5 106.5L139.1 109.2L139.1 111.2L138.1 113.2L136.5 115L134.5 116.4L133 116.9L131.5 116.7L129 114.2L127.5 113.7L126.3 114.2L124 116.6L123 116.9L122 116.8L119 115.1L116.7 112.2L116.2 110.7L116.3 109.2L119 106.3L119.4 105.2L119 104.3L116.2 101.3L116.3 99.3L117.4 97.3L118.7 95.8L120.5 94.5L122.3 93.8ZM121.5 94.3L120 95L118.5 96.3L117.3 97.8L116.6 99.3L116.6 101.3L119 104.2L119.4 105.2L119 106.4L116.6 109.2L116.5 110.7L117.3 112.7L119.5 115.2L122 116.5L124 116.2L126.3 114.2L127.5 113.6L129.1 114.2L131.5 116.3L133.5 116.4L135 115.8L136.5 114.7L137.8 113.2L138.8 111.2L138.8 109.2L136.5 106.6L136 105.2L136.5 104L138.8 101.3L138.9 99.8L138.4 98.3L136.4 95.8L133.5 94.2L131.5 94.3L128.6 96.8L127.5 97L126.1 96.3L124 94.4L122 94.1Z" fill="#2dffd1" stroke="#2dffd1" stroke-width="0.6"/>
<path d="M122 94.1L124 94.4L126.1 96.3L127.5 97L128.6 96.8L131.5 94.3L133.5 94.2L136.4 95.8L138.4 98.3L138.9 99.8L138.8 101.3L136.5 104L136 105.2L136.5 106.6L138.8 109.2L138.8 111.2L137.8 113.2L136.5 114.7L135 115.8L133.5 116.4L131.5 116.3L129.1 114.2L127.5 113.6L126.3 114.2L124 116.2L122 116.5L119.5 115.2L117.3 112.7L116.5 110.7L116.6 109.2L119 106.4L119.4 105.2L119 104.2L116.6 101.3L116.6 99.3L117.3 97.8L118.5 96.3L120 95L121.5 94.3ZM120.9 94.8L118.3 96.8L117.3 98.3L116.8 99.8L117.1 101.8L119 104.1L119.5 105.2L119 106.5L117.2 108.7L116.8 109.7L116.9 111.2L117.8 113.2L120 115.3L122 116.2L124 116L126.2 114.2L127.5 113.6L128.5 113.7L132 116.2L133.5 116.2L135 115.6L137.6 113.2L138.6 110.7L138.2 108.7L136.5 106.7L135.9 105.3L136.5 103.9L138.3 101.8L138.6 100.8L138.5 99.3L137.8 97.8L136 95.7L133.5 94.4L131.5 94.6L128.7 96.8L127.5 97L123.5 94.4L122.5 94.3L121 94.7Z" fill="#40ffbe" stroke="#40ffbe" stroke-width="0.6"/>
<path d="M121 94.7L122.5 94.3L123.5 94.4L127.5 97L128.7 96.8L131.5 94.6L133.5 94.4L136 95.7L137.8 97.8L138.5 99.3L138.6 100.8L138.3 101.8L136.5 103.9L135.9 105.2L136.5 106.7L138.2 108.7L138.6 110.7L137.6 113.2L135 115.6L133.5 116.2L132 116.2L128.5 113.7L127.5 113.6L126.2 114.2L124 116L122 116.2L120 115.3L117.8 113.2L116.9 111.2L116.8 109.7L117.2 108.7L119 106.5L119.5 105.2L119 104.1L117.1 101.8L116.8 99.8L117.3 98.3L118.3 96.8L120.9 94.8ZM121.5 94.8L119 96.3L117.8 97.8L117.1 99.3L117.1 101.3L119 104L119.5 105.2L119.2 106.2L117.4 108.7L117 109.7L117.1 111.2L117.7 112.7L119.5 114.7L122 116L124 115.7L127.5 113.5L128.6 113.7L132 116L133 116L134.5 115.6L137 113.7L137.9 112.2L138.4 110.7L138.3 109.2L136.2 106.2L135.9 105.2L136.2 104.3L138.3 101.3L138.4 99.8L137.6 97.8L135.8 95.8L133.5 94.7L131.5 94.8L128.8 96.8L127.5 97.1L126.6 96.8L124 94.8L123 94.6L121.5 94.8Z" fill="#52ffac" stroke="#52ffac" stroke-width="0.6"/>
<path d="M121.5 94.8L123 94.6L124 94.8L126.6 96.8L127.5 97.1L128.8 96.8L131.5 94.8L133.5 94.7L135.8 95.8L137.6 97.8L138.4 99.8L138.3 101.3L136.2 104.3L135.9 105.2L136.2 106.2L138.3 109.2L138.4 110.7L137.9 112.2L137 113.7L134.5 115.6L133 116L132 116L128.6 113.7L127.5 113.5L124 115.7L122 116L119.5 114.7L117.7 112.7L117.1 111.2L117 109.7L117.4 108.7L119.2 106.2L119.5 105.2L119 104L117.1 101.3L117.1 99.3L117.8 97.8L119 96.3L121.5 94.8ZM120.8 95.3L118.4 97.3L117.2 99.8L117.5 101.8L119 103.9L119.5 105.3L119.3 106.2L117.8 108.2L117.2 109.7L117.3 111.2L118.3 113.2L120 114.9L122.5 115.8L124 115.6L127.5 113.5L128.7 113.7L131 115.4L132 115.7L133 115.8L134.5 115.4L137 113.4L138.2 110.7L137.8 108.7L136.1 106.2L135.9 105.2L138.2 100.8L138.1 99.3L137.4 97.8L135.5 95.8L133.5 94.9L131.5 95L128.9 96.8L127.5 97.1L123.5 94.9L121 95.2Z" fill="#64ff9a" stroke="#64ff9a" stroke-width="0.6"/>
<path d="M121 95.2L123.5 94.9L127.5 97.1L128.9 96.8L131.5 95L133.5 94.9L135.5 95.8L137.4 97.8L138.1 99.3L138.2 100.8L135.9 105.2L136.1 106.2L137.8 108.7L138.2 110.7L137 113.4L134.5 115.4L133 115.8L132 115.7L131 115.4L128.7 113.7L127.5 113.5L124 115.6L122.5 115.8L120 114.9L118.3 113.2L117.3 111.2L117.2 109.7L117.8 108.2L119.3 106.2L119.5 105.2L119 103.9L117.5 101.8L117.2 99.8L118.4 97.3L120.8 95.3ZM121.2 95.3L120 95.9L118.6 97.3L117.4 99.8L117.7 101.8L119.3 104.3L119.6 105.2L119.3 106.2L117.7 108.7L117.4 109.7L117.5 111.2L118.1 112.7L120 114.7L122 115.6L124 115.4L127.5 113.4L128.8 113.7L131.5 115.4L132.5 115.6L134 115.4L136.5 113.7L137.9 111.2L137.9 109.2L136.1 106.2L135.8 105.2L136.1 104.3L137.9 101.3L137.9 99.3L137.2 97.8L135.5 96L133.5 95.1L131.5 95.2L129 96.8L127.5 97.2L124 95.2L123 95L121.5 95.2Z" fill="#76ff88" stroke="#76ff88" stroke-width="0.6"/>
<path d="M121.5 95.2L123 95L124 95.2L127.5 97.2L129 96.8L131.5 95.2L133.5 95.1L135.5 96L137.2 97.8L137.9 99.3L137.9 101.3L136.1 104.3L135.8 105.2L136.1 106.2L137.9 109.2L137.9 111.2L136.5 113.7L134 115.4L132.5 115.6L131.5 115.4L128.8 113.7L127.5 113.4L124 115.4L122 115.6L120 114.7L118.1 112.7L117.5 111.2L117.4 109.7L117.7 108.7L119.3 106.2L119.6 105.2L119.3 104.3L117.7 101.8L117.4 99.8L118.6 97.3L120 95.9L121.2 95.3ZM121 96.3L119.2 97.8L118.2 100.3L118.4 101.8L119.8 105.2L118.2 109.7L118.4 111.2L119.1 112.7L120.5 114L122.5 114.8L124.5 114.5L127.5 113.2L128.5 113.3L131.5 114.7L134 114.5L136 113.1L137.2 110.7L137.1 109.2L135.6 105.2L137.2 101.3L137.1 99.8L136.5 98.2L135 96.6L133 95.8L131.5 95.9L128.5 97.3L127.5 97.4L124 95.9L121.5 96Z" fill="#b2ff4c" stroke="#b2ff4c" stroke-width="0.6"/>
<path d="M121.5 96L124 95.9L127.5 97.4L128.5 97.3L131.5 95.9L133 95.8L135 96.6L136.5 98.2L137.1 99.8L137.2 101.3L135.6 105.2L137.1 109.2L137.2 110.7L136 113.1L134 114.5L131.5 114.7L128.5 113.3L127.5 113.2L124.5 114.5L122.5 114.8L120.5 114L119.1 112.7L118.4 111.2L118.2 109.7L119.8 105.2L118.4 101.8L118.2 100.3L119.2 97.8L121 96.3ZM121.4 96.8L119.6 98.3L118.8 100.3L118.9 101.8L120 105.2L118.8 109.2L118.9 110.7L119.6 112.2L121 113.6L123 114.2L124.5 114.1L127.5 113L131.5 114.2L134 113.8L135.8 112.2L136.6 110.2L136.5 108.7L135.4 105.2L136.6 101.3L136.5 99.8L135.8 98.3L134.5 97.1L132.5 96.4L131 96.5L128 97.6L127 97.5L124 96.4L121.5 96.7Z" fill="#ffe500" stroke="#ffe500" stroke-width="0.6"/>
<path d="M121.5 96.7L124 96.4L127 97.5L128 97.6L131 96.5L132.5 96.4L134.5 97.1L135.8 98.3L136.5 99.8L136.6 101.3L135.4 105.2L136.5 108.7L136.6 110.2L135.8 112.2L134 113.8L131.5 114.2L127.5 113L124.5 114.1L123 114.2L121 113.6L119.6 112.2L118.9 110.7L118.8 109.2L120 105.2L118.9 101.8L118.8 100.3L119.6 98.3L121.4 96.8ZM121.6 97.3L119.9 98.8L119.2 100.8L120.2 105.2L119.2 109.2L119.4 110.7L120 111.9L121.4 113.2L123 113.8L124.5 113.7L127.5 112.8L131.5 113.8L133.5 113.5L135.2 112.2L136.1 110.2L136.1 108.7L135.2 105.2L136.2 101.3L135.5 98.8L134 97.4L132.5 96.9L131 96.9L128 97.8L124 96.8L122 97.1Z" fill="#ff7f00" stroke="#ff7f00" stroke-width="0.6"/>
<path d="M122 97.1L124 96.8L128 97.8L131 96.9L132.5 96.9L134 97.4L135.5 98.8L136.2 101.3L135.2 105.2L136.1 108.7L136.1 110.2L135.2 112.2L133.5 113.5L131.5 113.8L127.5 112.8L124.5 113.7L123 113.8L121.4 113.2L120 111.9L119.4 110.7L119.2 109.2L120.2 105.2L119.2 100.8L119.9 98.8L121.6 97.3ZM122.9 97.3L121 98.3L119.7 100.3L119.7 102.3L120.4 105.2L119.6 109.2L120.1 111.2L121.5 112.7L123 113.4L124.5 113.4L127.5 112.6L131 113.4L132.5 113.3L134.6 112.2L135.7 110.2L135.8 108.7L135 105.2L135.8 101.8L135.3 99.3L134 97.9L132.5 97.3L131 97.2L127.5 98L124.5 97.2L123 97.3Z" fill="#ff1900" stroke="#ff1900" stroke-width="0.6"/>
<path d="M123 97.3L124.5 97.2L127.5 98L131 97.2L132.5 97.3L134 97.9L135.3 99.3L135.8 101.8L135 105.2L135.8 108.7L135.7 110.2L134.6 112.2L132.5 113.3L131 113.4L127.5 112.6L124.5 113.4L123 113.4L121.5 112.7L120.1 111.2L119.6 109.2L120.4 105.2L119.7 102.3L119.7 100.3L121 98.3L122.9 97.3ZM122.5 97.8L120.6 99.3L119.9 101.3L120.5 105.2L119.9 109.2L120.5 111.2L122 112.6L123.5 113.1L127.5 112.5L131 113.1L133 112.8L134.5 111.7L135.5 109.7L134.9 105.2L135.5 101.3L134.8 99.3L133.5 98L132 97.5L128 98.1L124.5 97.5L122.5 97.8Z" fill="#b20000" stroke="#b20000" stroke-width="0.6"/>
<path d="M122.5 97.8L124.5 97.5L128 98.1L132 97.5L133.5 98L134.8 99.3L135.5 101.3L134.9 105.2L135.5 109.7L134.5 111.7L133 112.8L131 113.1L127.5 112.5L123.5 113.1L122 112.6L120.5 111.2L119.9 109.2L120.5 105.2L119.9 101.3L120.6 99.3L122.5 97.8ZM126.6 100.8L124.5 101.5L123.5 102.8L123.1 104.8L123.3 107.2L124 108.7L125 109.4L126.5 109.8L128.5 109.9L130.5 109.4L131.7 108.2L132.2 106.7L132.2 103.8L131.6 102.3L130.5 101.2L129 100.8L127 100.7Z" fill="#7f0000" stroke="#7f0000" stroke-width="0.6"/></g>
<g filter="url(#bl2)" fill="#0c0c86" opacity="0.8"><ellipse cx="104.9" cy="83.1" rx="7.5" ry="2.9" transform="rotate(45 104.9 83.1)"/><ellipse cx="104.9" cy="127.5" rx="7.5" ry="2.9" transform="rotate(-45 104.9 127.5)"/><ellipse cx="150.5" cy="83.1" rx="7.5" ry="2.9" transform="rotate(-45 150.5 83.1)"/><ellipse cx="150.5" cy="127.5" rx="7.5" ry="2.9" transform="rotate(45 150.5 127.5)"/></g>
<g fill="#f01428"><circle cx="116.9" cy="104.6" r="1.45"/><circle cx="61.6" cy="104.6" r="1.45"/><circle cx="36.5" cy="6.5" r="1.45"/><circle cx="31.6" cy="18.6" r="1.45"/><circle cx="118.3" cy="101.1" r="1.45"/><circle cx="121.6" cy="44.2" r="1.45"/><circle cx="143.6" cy="6.5" r="1.45"/><circle cx="141.8" cy="8.5" r="1.45"/><circle cx="178.7" cy="10.5" r="1.45"/><circle cx="155.8" cy="103.9" r="1.45"/><circle cx="211.2" cy="101.4" r="1.45"/><circle cx="194.2" cy="7.2" r="1.45"/><circle cx="130.7" cy="63.8" r="1.45"/><circle cx="226.4" cy="158.3" r="1.45"/><circle cx="215.8" cy="204" r="1.45"/><circle cx="199.6" cy="202.9" r="1.45"/><circle cx="137.7" cy="108.8" r="1.45"/><circle cx="120.5" cy="188.1" r="1.45"/><circle cx="109.2" cy="197.8" r="1.45"/><circle cx="32.8" cy="113.8" r="1.45"/><circle cx="37.1" cy="110.9" r="1.45"/><circle cx="47.4" cy="108.9" r="1.45"/><circle cx="50.6" cy="200.3" r="1.45"/><circle cx="33.3" cy="184.1" r="1.45"/><circle cx="31.2" cy="204" r="1.45"/><circle cx="224.1" cy="57.2" r="1.45"/><circle cx="192.2" cy="190.6" r="1.45"/><circle cx="66.2" cy="201.5" r="1.45"/><circle cx="44.3" cy="16.7" r="1.45"/><circle cx="189.4" cy="100" r="1.45"/><circle cx="222.1" cy="67.7" r="1.45"/><circle cx="176.2" cy="100.9" r="1.45"/><circle cx="220.2" cy="147.7" r="1.45"/><circle cx="147.2" cy="182.2" r="1.45"/><circle cx="172.8" cy="194.8" r="1.45"/><circle cx="206.8" cy="195.4" r="1.45"/><circle cx="33.9" cy="158.6" r="1.45"/><circle cx="33.3" cy="142.7" r="1.45"/><circle cx="33.9" cy="97.2" r="1.45"/><circle cx="32.5" cy="92.3" r="1.45"/><circle cx="110" cy="41" r="1.45"/><circle cx="80" cy="26.3" r="1.45"/><circle cx="33.6" cy="78.6" r="1.45"/><circle cx="77.3" cy="26.1" r="1.45"/><circle cx="55.5" cy="16.7" r="1.45"/><circle cx="174.5" cy="26.6" r="1.45"/><circle cx="216.8" cy="119.2" r="1.45"/><circle cx="163.5" cy="182.9" r="1.45"/><circle cx="202" cy="181" r="1.45"/><circle cx="42.5" cy="185.7" r="1.45"/><circle cx="40.3" cy="178.9" r="1.45"/><circle cx="39.3" cy="163.3" r="1.45"/><circle cx="140.8" cy="37" r="1.45"/><circle cx="170.2" cy="16.6" r="1.45"/><circle cx="161.5" cy="33.5" r="1.45"/><circle cx="163.9" cy="36.6" r="1.45"/><circle cx="133.2" cy="73.1" r="1.45"/><circle cx="165.5" cy="175.6" r="1.45"/><circle cx="216.6" cy="150.8" r="1.45"/><circle cx="42.8" cy="163" r="1.45"/><circle cx="56.5" cy="175" r="1.45"/><circle cx="62" cy="114.5" r="1.45"/><circle cx="55.5" cy="97" r="1.45"/><circle cx="58.1" cy="97.4" r="1.45"/><circle cx="67.8" cy="37.6" r="1.45"/><circle cx="70.4" cy="37.2" r="1.45"/><circle cx="42" cy="58.1" r="1.45"/><circle cx="125.1" cy="22.5" r="1.45"/><circle cx="166.7" cy="39" r="1.45"/><circle cx="61.1" cy="168.5" r="1.45"/><circle cx="62.9" cy="43.2" r="1.45"/><circle cx="49.5" cy="28.7" r="1.45"/><circle cx="92.8" cy="25.4" r="1.45"/><circle cx="159.4" cy="46.1" r="1.45"/><circle cx="187.8" cy="44.8" r="1.45"/><circle cx="208.9" cy="124.5" r="1.45"/><circle cx="204.9" cy="121.1" r="1.45"/><circle cx="185.2" cy="179.5" r="1.45"/><circle cx="116.8" cy="188" r="1.45"/><circle cx="43.6" cy="145.5" r="1.45"/><circle cx="43.4" cy="81.5" r="1.45"/><circle cx="99.3" cy="99" r="1.45"/><circle cx="160" cy="183.4" r="1.45"/><circle cx="120.1" cy="138" r="1.45"/><circle cx="112.9" cy="151.9" r="1.45"/><circle cx="200.6" cy="85.1" r="1.45"/><circle cx="203.7" cy="127.1" r="1.45"/><circle cx="107.8" cy="58.8" r="1.45"/><circle cx="70.5" cy="51.5" r="1.45"/><circle cx="141" cy="65.4" r="1.45"/><circle cx="202.4" cy="137.2" r="1.45"/><circle cx="60.8" cy="179.2" r="1.45"/><circle cx="62.5" cy="58.3" r="1.45"/><circle cx="163.2" cy="94.8" r="1.45"/><circle cx="117.2" cy="136.3" r="1.45"/><circle cx="83.2" cy="154.2" r="1.45"/><circle cx="72.9" cy="152.1" r="1.45"/><circle cx="68.4" cy="63" r="1.45"/><circle cx="70.4" cy="156.8" r="1.45"/><circle cx="187.3" cy="80.7" r="1.45"/><circle cx="189" cy="75.9" r="1.45"/><circle cx="107.2" cy="162" r="1.45"/><circle cx="103" cy="165.2" r="1.45"/><circle cx="101.7" cy="147.2" r="1.45"/><circle cx="108.3" cy="143" r="1.45"/><circle cx="70.4" cy="59.8" r="1.45"/><circle cx="184.6" cy="80.6" r="1.45"/><circle cx="178.5" cy="95.4" r="1.45"/><circle cx="151.5" cy="68.1" r="1.45"/><circle cx="116.4" cy="83.9" r="1.45"/><circle cx="172.9" cy="141.6" r="1.45"/><circle cx="176.6" cy="77.9" r="1.45"/><circle cx="152.2" cy="72" r="1.45"/><circle cx="149.9" cy="73.3" r="1.45"/><circle cx="89.9" cy="148.6" r="1.45"/><circle cx="88.8" cy="140.9" r="1.45"/><circle cx="82" cy="99.9" r="1.45"/><circle cx="114.6" cy="121" r="1.45"/><circle cx="158.1" cy="137.7" r="1.45"/><circle cx="102.3" cy="77.2" r="1.45"/><circle cx="151.7" cy="102.9" r="1.45"/><circle cx="153.1" cy="131.6" r="1.45"/><circle cx="106.2" cy="130.3" r="1.45"/><circle cx="98" cy="79.9" r="1.45"/><circle cx="114.5" cy="78.8" r="1.2"/><circle cx="115.8" cy="78.4" r="1.2"/><circle cx="117.1" cy="78" r="1.2"/><circle cx="118.4" cy="77.5" r="1.2"/><circle cx="119.7" cy="77.1" r="1.2"/><circle cx="121" cy="76.7" r="1.2"/><circle cx="122.3" cy="76.3" r="1.2"/><circle cx="123.6" cy="75.9" r="1.2"/><circle cx="72" cy="7.5" r="1.3"/><circle cx="72" cy="9.4" r="1.3"/><circle cx="72" cy="11.3" r="1.3"/><circle cx="72" cy="13.2" r="1.3"/><circle cx="72" cy="15.1" r="1.3"/><circle cx="72" cy="17" r="1.3"/><circle cx="72" cy="18.9" r="1.3"/><circle cx="72" cy="20.8" r="1.3"/><circle cx="72" cy="22.7" r="1.3"/><circle cx="72" cy="24.6" r="1.3"/><circle cx="72" cy="26.5" r="1.3"/><circle cx="72" cy="28.4" r="1.3"/><circle cx="71.7" cy="31.5" r="1.3"/><circle cx="71.3" cy="34.5" r="1.3"/><circle cx="70.9" cy="38" r="1.3"/><circle cx="72" cy="203" r="1.3"/><circle cx="72" cy="201.1" r="1.3"/><circle cx="72" cy="199.2" r="1.3"/><circle cx="72" cy="197.3" r="1.3"/><circle cx="72" cy="195.4" r="1.3"/><circle cx="72" cy="193.5" r="1.3"/><circle cx="72" cy="191.6" r="1.3"/><circle cx="72" cy="189.7" r="1.3"/><circle cx="72" cy="187.8" r="1.3"/><circle cx="71.6" cy="183" r="1.3"/><circle cx="71.2" cy="179.5" r="1.3"/><circle cx="70.7" cy="175.5" r="1.3"/><circle cx="70.3" cy="171.5" r="1.3"/><circle cx="183.4" cy="7.5" r="1.3"/><circle cx="183.4" cy="9.4" r="1.3"/><circle cx="183.4" cy="11.3" r="1.3"/><circle cx="183.4" cy="13.2" r="1.3"/><circle cx="183.4" cy="15.1" r="1.3"/><circle cx="183.4" cy="17" r="1.3"/><circle cx="183.4" cy="18.9" r="1.3"/><circle cx="183.4" cy="20.8" r="1.3"/><circle cx="183.4" cy="22.7" r="1.3"/><circle cx="183.4" cy="24.6" r="1.3"/><circle cx="183.4" cy="26.5" r="1.3"/><circle cx="183.4" cy="28.4" r="1.3"/><circle cx="183.7" cy="31.5" r="1.3"/><circle cx="184.1" cy="34.5" r="1.3"/><circle cx="184.5" cy="38" r="1.3"/><circle cx="183.4" cy="203" r="1.3"/><circle cx="183.4" cy="201.1" r="1.3"/><circle cx="183.4" cy="199.2" r="1.3"/><circle cx="183.4" cy="197.3" r="1.3"/><circle cx="183.4" cy="195.4" r="1.3"/><circle cx="183.4" cy="193.5" r="1.3"/><circle cx="183.4" cy="191.6" r="1.3"/><circle cx="183.4" cy="189.7" r="1.3"/><circle cx="183.4" cy="187.8" r="1.3"/><circle cx="183.8" cy="183" r="1.3"/><circle cx="184.2" cy="179.5" r="1.3"/><circle cx="184.7" cy="175.5" r="1.3"/><circle cx="185.1" cy="171.5" r="1.3"/></g>
<g filter="url(#bl2)" fill="#ffb400" opacity="0.9"><circle cx="119.8" cy="97.4" r="2.1"/><circle cx="119.8" cy="113.2" r="2.1"/><circle cx="135.6" cy="97.4" r="2.1"/><circle cx="135.6" cy="113.2" r="2.1"/></g>
<circle cx="127.7" cy="105.3" r="9.9" fill="#f27032" stroke="#101010" stroke-width="1.4"/>
</g></g>
<rect x="28.5" y="6.5" width="198" height="197.5" fill="none" stroke="#1a1040" stroke-width="1"/>
<text x="35.8" y="22.6" font-size="11.5" style="fill:#fff;stroke:#fff">(A)</text>
 <rect x="231.3" y="25.5" width="12.6" height="174.9" fill="url(#jet)" stroke="#333" stroke-width="0.6"/>
<path d="M231.3 200.4h2.2M243.9 200.4h-2.4" stroke="#111" stroke-width="0.8"/><text x="249" y="204.6" font-size="11.5">0</text><path d="M231.3 174.9h2.2M243.9 174.9h-2.4" stroke="#111" stroke-width="0.8"/><text x="249" y="179.1" font-size="11.5">2</text><path d="M231.3 149.3h2.2M243.9 149.3h-2.4" stroke="#111" stroke-width="0.8"/><text x="249" y="153.5" font-size="11.5">4</text><path d="M231.3 123.8h2.2M243.9 123.8h-2.4" stroke="#111" stroke-width="0.8"/><text x="249" y="128" font-size="11.5">6</text><path d="M231.3 98.2h2.2M243.9 98.2h-2.4" stroke="#111" stroke-width="0.8"/><text x="249" y="102.4" font-size="11.5">8</text><path d="M231.3 72.7h2.2M243.9 72.7h-2.4" stroke="#111" stroke-width="0.8"/><text x="249" y="76.9" font-size="11.5">10</text><path d="M231.3 47.2h2.2M243.9 47.2h-2.4" stroke="#111" stroke-width="0.8"/><text x="249" y="51.4" font-size="11.5">12</text>
<text x="244" y="19.5" font-size="11.5">×10<tspan dx="0.8" dy="-5.8" font-size="7.5">-4</tspan></text>
<text x="252.6" y="35.3" font-size="11.5">m·s</text>
<path d="M319.9 10.5V193.5M338.8 10.5V193.5M357.7 10.5V193.5M376.6 10.5V193.5M395.6 10.5V193.5M414.5 10.5V193.5M433.4 10.5V193.5M452.3 10.5V193.5M471.3 10.5V193.5M490.2 10.5V193.5M509.1 10.5V193.5M528 10.5V193.5" stroke="#f1f1f1" stroke-width="0.7" stroke-dasharray="none" fill="none"/>
<path d="M310.4 187H537.5M310.4 173.9H537.5M310.4 160.8H537.5M310.4 147.7H537.5M310.4 134.7H537.5M310.4 121.6H537.5M310.4 108.5H537.5M310.4 95.5H537.5M310.4 82.4H537.5M310.4 69.3H537.5M310.4 56.2H537.5M310.4 43.2H537.5M310.4 30.1H537.5M310.4 17H537.5" stroke="#f1f1f1" stroke-width="0.7" stroke-dasharray="none" fill="none"/>
<path d="M329.3 10.5V193.5M348.2 10.5V193.5M367.2 10.5V193.5M386.1 10.5V193.5M405 10.5V193.5M423.9 10.5V193.5M442.9 10.5V193.5M461.8 10.5V193.5M480.7 10.5V193.5M499.6 10.5V193.5M518.6 10.5V193.5" stroke="#d4d4d4" stroke-width="0.8" stroke-dasharray="1 1.2" fill="none"/>
<path d="M310.4 180.4H537.5M310.4 167.4H537.5M310.4 154.3H537.5M310.4 141.2H537.5M310.4 128.1H537.5M310.4 115.1H537.5M310.4 102H537.5M310.4 88.9H537.5M310.4 75.9H537.5M310.4 62.8H537.5M310.4 49.7H537.5M310.4 36.6H537.5M310.4 23.6H537.5" stroke="#d4d4d4" stroke-width="0.8" stroke-dasharray="1 1.2" fill="none"/>
<g clip-path="url(#cB)" fill="none">
<path d="M310.4 102L311.7 108.3L312.9 114.6L314.2 120.8L315.4 126.9L316.7 132.8L318 138.7L319.2 144.3L320.5 149.8L321.8 155L323 160L324.3 164.7L325.5 169L326.8 173.1L328.1 176.8L329.3 180.1L330.6 183.1L331.8 185.6L333.1 187.8L334.4 189.5L335.6 190.8L336.9 191.7L338.2 192.1L339.4 192.1L340.7 191.7L341.9 190.8L343.2 189.5L344.5 187.8L345.7 185.6L347 183.1L348.2 180.1L349.5 176.8L350.8 173.1L352 169L353.3 164.7L354.6 160L355.8 155L357.1 149.8L358.3 144.3L359.6 138.7L360.9 132.8L362.1 126.9L363.4 120.8L364.7 114.6L365.9 108.3L367.2 102L368.4 95.7L369.7 89.4L371 83.2L372.2 77.1L373.5 71.2L374.7 65.3L376 59.7L377.3 54.2L378.5 49L379.8 44L381.1 39.3L382.3 35L383.6 30.9L384.8 27.2L386.1 23.9L387.4 20.9L388.6 18.4L389.9 16.2L391.1 14.5L392.4 13.2L393.7 12.3L394.9 11.9L396.2 11.9L397.5 12.3L398.7 13.2L400 14.5L401.2 16.2L402.5 18.4L403.8 20.9L405 23.9L406.3 27.2L407.5 30.9L408.8 35L410.1 39.3L411.3 44L412.6 49L413.9 54.2L415.1 59.7L416.4 65.3L417.6 71.2L418.9 77.1L420.2 83.2L421.4 89.4L422.7 95.7L423.9 102L425.2 108.3L426.5 114.6L427.7 120.8L429 126.9L430.3 132.8L431.5 138.7L432.8 144.3L434 149.8L435.3 155L436.6 160L437.8 164.7L439.1 169L440.4 173.1L441.6 176.8L442.9 180.1L444.1 183.1L445.4 185.6L446.7 187.8L447.9 189.5L449.2 190.8L450.4 191.7L451.7 192.1L453 192.1L454.2 191.7L455.5 190.8L456.8 189.5L458 187.8L459.3 185.6L460.5 183.1L461.8 180.1L463.1 176.8L464.3 173.1L465.6 169L466.8 164.7L468.1 160L469.4 155L470.6 149.8L471.9 144.3L473.2 138.7L474.4 132.8L475.7 126.9L476.9 120.8L478.2 114.6L479.5 108.3L480.7 102L482 95.7L483.2 89.4L484.5 83.2L485.8 77.1L487 71.2L488.3 65.3L489.6 59.7L490.8 54.2L492.1 49L493.3 44L494.6 39.3L495.9 35L497.1 30.9L498.4 27.2L499.6 23.9L500.9 20.9L502.2 18.4L503.4 16.2L504.7 14.5L506 13.2L507.2 12.3L508.5 11.9L509.7 11.9L511 12.3L512.3 13.2L513.5 14.5L514.8 16.2L516.1 18.4L517.3 20.9L518.6 23.9L519.8 27.2L521.1 30.9L522.4 35L523.6 39.3L524.9 44L526.1 49L527.4 54.2L528.7 59.7L529.9 65.3L531.2 71.2L532.5 77.1L533.7 83.2L535 89.4L536.2 95.7L537.5 102" stroke="#3a3a3a" stroke-width="0.8"/>
<path d="M310.4 102L311.7 108.3L312.9 114.6L314.2 120.8L315.4 126.9L316.7 132.8L318 138.7L319.2 144.3L320.5 149.8L321.8 155L323 160L324.3 164.7L325.5 169L326.8 173.1L328.1 176.8L329.3 180.1L330.6 183.1L331.8 185.6L333.1 187.8L334.4 189.5L335.6 190.8L336.9 191.7L338.2 192.1L339.4 192.1L340.7 191.7L341.9 190.8L343.2 189.5L344.5 187.8L345.7 185.6L347 183.1L348.2 180.1L349.5 176.8L350.8 173.1L352 169L353.3 164.7L354.6 160L355.8 155L357.1 149.8L358.3 144.3L359.6 138.7L360.9 132.8L362.1 126.9L363.4 120.8L364.7 114.6L365.9 108.3L367.2 102L368.4 95.7L369.7 89.4L371 83.2L372.2 77.1L373.5 71.2L374.7 65.3L376 59.7L377.3 54.2L378.5 49L379.8 44L381.1 39.3L382.3 35L383.6 30.9L384.8 27.2L386.1 23.9L387.4 20.9L388.6 18.4L389.9 16.2L391.1 14.5L392.4 13.2L393.7 12.3L394.9 11.9L396.2 11.9L397.5 12.3L398.7 13.2L400 14.5L401.2 16.2L402.5 18.4L403.8 20.9L405 23.9L406.3 27.2L407.5 30.9L408.8 35L410.1 39.3L411.3 44L412.6 49L413.9 54.2L415.1 59.7L416.4 65.3L417.6 71.2L418.9 77.1L420.2 83.2L421.4 89.4L422.7 95.7L423.9 102L425.2 108.3L426.5 114.6L427.7 120.8L429 126.9L430.3 132.8L431.5 138.7L432.8 144.3L434 149.8L435.3 155L436.6 160L437.8 164.7L439.1 169L440.4 173.1L441.6 176.8L442.9 180.1L444.1 183.1L445.4 185.6L446.7 187.8L447.9 189.5L449.2 190.8L450.4 191.7L451.7 192.1L453 192.1L454.2 191.7L455.5 190.8L456.8 189.5L458 187.8L459.3 185.6L460.5 183.1L461.8 180.1L463.1 176.8L464.3 173.1L465.6 169L466.8 164.7L468.1 160L469.4 155L470.6 149.8L471.9 144.3L473.2 138.7L474.4 132.8L475.7 126.9L476.9 120.8L478.2 114.6L479.5 108.3L480.7 102L482 95.7L483.2 89.4L484.5 83.2L485.8 77.1L487 71.2L488.3 65.3L489.6 59.7L490.8 54.2L492.1 49L493.3 44L494.6 39.3L495.9 35L497.1 30.9L498.4 27.2L499.6 23.9L500.9 20.9L502.2 18.4L503.4 16.2L504.7 14.5L506 13.2L507.2 12.3L508.5 11.9L509.7 11.9L511 12.3L512.3 13.2L513.5 14.5L514.8 16.2L516.1 18.4L517.3 20.9L518.6 23.9L519.8 27.2L521.1 30.9L522.4 35L523.6 39.3L524.9 44L526.1 49L527.4 54.2L528.7 59.7L529.9 65.3L531.2 71.2L532.5 77.1L533.7 83.2L535 89.4L536.2 95.7L537.5 102" stroke="#3a3a3a" stroke-width="1.2" stroke-dasharray="2.5 2.5" stroke-opacity="0.35"/>
<path d="M310.4 102L311.7 106.7L312.9 111.4L314.2 116.1L315.4 120.6L316.7 125.1L318 129.5L319.2 133.8L320.5 137.8L321.8 141.8L323 145.5L324.3 149L325.5 152.3L326.8 155.3L328.1 158.1L329.3 160.6L330.6 162.8L331.8 164.7L333.1 166.3L334.4 167.6L335.6 168.6L336.9 169.3L338.2 169.6L339.4 169.6L340.7 169.3L341.9 168.6L343.2 167.6L344.5 166.3L345.7 164.7L347 162.8L348.2 160.6L349.5 158.1L350.8 155.3L352 152.3L353.3 149L354.6 145.5L355.8 141.8L357.1 137.8L358.3 133.8L359.6 129.5L360.9 125.1L362.1 120.6L363.4 116.1L364.7 111.4L365.9 106.7L367.2 102L368.4 97.3L369.7 92.6L371 87.9L372.2 83.4L373.5 78.9L374.7 74.5L376 70.2L377.3 66.2L378.5 62.2L379.8 58.5L381.1 55L382.3 51.7L383.6 48.7L384.8 45.9L386.1 43.4L387.4 41.2L388.6 39.3L389.9 37.7L391.1 36.4L392.4 35.4L393.7 34.7L394.9 34.4L396.2 34.4L397.5 34.7L398.7 35.4L400 36.4L401.2 37.7L402.5 39.3L403.8 41.2L405 43.4L406.3 45.9L407.5 48.7L408.8 51.7L410.1 55L411.3 58.5L412.6 62.2L413.9 66.2L415.1 70.2L416.4 74.5L417.6 78.9L418.9 83.4L420.2 87.9L421.4 92.6L422.7 97.3L423.9 102L425.2 106.7L426.5 111.4L427.7 116.1L429 120.6L430.3 125.1L431.5 129.5L432.8 133.8L434 137.8L435.3 141.8L436.6 145.5L437.8 149L439.1 152.3L440.4 155.3L441.6 158.1L442.9 160.6L444.1 162.8L445.4 164.7L446.7 166.3L447.9 167.6L449.2 168.6L450.4 169.3L451.7 169.6L453 169.6L454.2 169.3L455.5 168.6L456.8 167.6L458 166.3L459.3 164.7L460.5 162.8L461.8 160.6L463.1 158.1L464.3 155.3L465.6 152.3L466.8 149L468.1 145.5L469.4 141.8L470.6 137.8L471.9 133.8L473.2 129.5L474.4 125.1L475.7 120.6L476.9 116.1L478.2 111.4L479.5 106.7L480.7 102L482 97.3L483.2 92.6L484.5 87.9L485.8 83.4L487 78.9L488.3 74.5L489.6 70.2L490.8 66.2L492.1 62.2L493.3 58.5L494.6 55L495.9 51.7L497.1 48.7L498.4 45.9L499.6 43.4L500.9 41.2L502.2 39.3L503.4 37.7L504.7 36.4L506 35.4L507.2 34.7L508.5 34.4L509.7 34.4L511 34.7L512.3 35.4L513.5 36.4L514.8 37.7L516.1 39.3L517.3 41.2L518.6 43.4L519.8 45.9L521.1 48.7L522.4 51.7L523.6 55L524.9 58.5L526.1 62.2L527.4 66.2L528.7 70.2L529.9 74.5L531.2 78.9L532.5 83.4L533.7 87.9L535 92.6L536.2 97.3L537.5 102" stroke="#e8474c" stroke-width="0.8"/>
<path d="M310.4 102L311.7 106.7L312.9 111.4L314.2 116.1L315.4 120.6L316.7 125.1L318 129.5L319.2 133.8L320.5 137.8L321.8 141.8L323 145.5L324.3 149L325.5 152.3L326.8 155.3L328.1 158.1L329.3 160.6L330.6 162.8L331.8 164.7L333.1 166.3L334.4 167.6L335.6 168.6L336.9 169.3L338.2 169.6L339.4 169.6L340.7 169.3L341.9 168.6L343.2 167.6L344.5 166.3L345.7 164.7L347 162.8L348.2 160.6L349.5 158.1L350.8 155.3L352 152.3L353.3 149L354.6 145.5L355.8 141.8L357.1 137.8L358.3 133.8L359.6 129.5L360.9 125.1L362.1 120.6L363.4 116.1L364.7 111.4L365.9 106.7L367.2 102L368.4 97.3L369.7 92.6L371 87.9L372.2 83.4L373.5 78.9L374.7 74.5L376 70.2L377.3 66.2L378.5 62.2L379.8 58.5L381.1 55L382.3 51.7L383.6 48.7L384.8 45.9L386.1 43.4L387.4 41.2L388.6 39.3L389.9 37.7L391.1 36.4L392.4 35.4L393.7 34.7L394.9 34.4L396.2 34.4L397.5 34.7L398.7 35.4L400 36.4L401.2 37.7L402.5 39.3L403.8 41.2L405 43.4L406.3 45.9L407.5 48.7L408.8 51.7L410.1 55L411.3 58.5L412.6 62.2L413.9 66.2L415.1 70.2L416.4 74.5L417.6 78.9L418.9 83.4L420.2 87.9L421.4 92.6L422.7 97.3L423.9 102L425.2 106.7L426.5 111.4L427.7 116.1L429 120.6L430.3 125.1L431.5 129.5L432.8 133.8L434 137.8L435.3 141.8L436.6 145.5L437.8 149L439.1 152.3L440.4 155.3L441.6 158.1L442.9 160.6L444.1 162.8L445.4 164.7L446.7 166.3L447.9 167.6L449.2 168.6L450.4 169.3L451.7 169.6L453 169.6L454.2 169.3L455.5 168.6L456.8 167.6L458 166.3L459.3 164.7L460.5 162.8L461.8 160.6L463.1 158.1L464.3 155.3L465.6 152.3L466.8 149L468.1 145.5L469.4 141.8L470.6 137.8L471.9 133.8L473.2 129.5L474.4 125.1L475.7 120.6L476.9 116.1L478.2 111.4L479.5 106.7L480.7 102L482 97.3L483.2 92.6L484.5 87.9L485.8 83.4L487 78.9L488.3 74.5L489.6 70.2L490.8 66.2L492.1 62.2L493.3 58.5L494.6 55L495.9 51.7L497.1 48.7L498.4 45.9L499.6 43.4L500.9 41.2L502.2 39.3L503.4 37.7L504.7 36.4L506 35.4L507.2 34.7L508.5 34.4L509.7 34.4L511 34.7L512.3 35.4L513.5 36.4L514.8 37.7L516.1 39.3L517.3 41.2L518.6 43.4L519.8 45.9L521.1 48.7L522.4 51.7L523.6 55L524.9 58.5L526.1 62.2L527.4 66.2L528.7 70.2L529.9 74.5L531.2 78.9L532.5 83.4L533.7 87.9L535 92.6L536.2 97.3L537.5 102" stroke="#e8474c" stroke-width="1.2" stroke-dasharray="2.5 2.5" stroke-opacity="0.35"/>
<path d="M310.4 102L311.7 105.1L312.9 108.3L314.2 111.4L315.4 114.4L316.7 117.4L318 120.3L319.2 123.2L320.5 125.9L321.8 128.5L323 131L324.3 133.3L325.5 135.5L326.8 137.5L328.1 139.4L329.3 141.1L330.6 142.5L331.8 143.8L333.1 144.9L334.4 145.8L335.6 146.4L336.9 146.8L338.2 147.1L339.4 147.1L340.7 146.8L341.9 146.4L343.2 145.8L344.5 144.9L345.7 143.8L347 142.5L348.2 141.1L349.5 139.4L350.8 137.5L352 135.5L353.3 133.3L354.6 131L355.8 128.5L357.1 125.9L358.3 123.2L359.6 120.3L360.9 117.4L362.1 114.4L363.4 111.4L364.7 108.3L365.9 105.1L367.2 102L368.4 98.9L369.7 95.7L371 92.6L372.2 89.6L373.5 86.6L374.7 83.7L376 80.8L377.3 78.1L378.5 75.5L379.8 73L381.1 70.7L382.3 68.5L383.6 66.5L384.8 64.6L386.1 62.9L387.4 61.5L388.6 60.2L389.9 59.1L391.1 58.2L392.4 57.6L393.7 57.2L394.9 56.9L396.2 56.9L397.5 57.2L398.7 57.6L400 58.2L401.2 59.1L402.5 60.2L403.8 61.5L405 62.9L406.3 64.6L407.5 66.5L408.8 68.5L410.1 70.7L411.3 73L412.6 75.5L413.9 78.1L415.1 80.8L416.4 83.7L417.6 86.6L418.9 89.6L420.2 92.6L421.4 95.7L422.7 98.9L423.9 102L425.2 105.1L426.5 108.3L427.7 111.4L429 114.4L430.3 117.4L431.5 120.3L432.8 123.2L434 125.9L435.3 128.5L436.6 131L437.8 133.3L439.1 135.5L440.4 137.5L441.6 139.4L442.9 141.1L444.1 142.5L445.4 143.8L446.7 144.9L447.9 145.8L449.2 146.4L450.4 146.8L451.7 147.1L453 147.1L454.2 146.8L455.5 146.4L456.8 145.8L458 144.9L459.3 143.8L460.5 142.5L461.8 141.1L463.1 139.4L464.3 137.5L465.6 135.5L466.8 133.3L468.1 131L469.4 128.5L470.6 125.9L471.9 123.2L473.2 120.3L474.4 117.4L475.7 114.4L476.9 111.4L478.2 108.3L479.5 105.1L480.7 102L482 98.9L483.2 95.7L484.5 92.6L485.8 89.6L487 86.6L488.3 83.7L489.6 80.8L490.8 78.1L492.1 75.5L493.3 73L494.6 70.7L495.9 68.5L497.1 66.5L498.4 64.6L499.6 62.9L500.9 61.5L502.2 60.2L503.4 59.1L504.7 58.2L506 57.6L507.2 57.2L508.5 56.9L509.7 56.9L511 57.2L512.3 57.6L513.5 58.2L514.8 59.1L516.1 60.2L517.3 61.5L518.6 62.9L519.8 64.6L521.1 66.5L522.4 68.5L523.6 70.7L524.9 73L526.1 75.5L527.4 78.1L528.7 80.8L529.9 83.7L531.2 86.6L532.5 89.6L533.7 92.6L535 95.7L536.2 98.9L537.5 102" stroke="#4a4ae0" stroke-width="0.8"/>
<path d="M310.4 102L311.7 105.1L312.9 108.3L314.2 111.4L315.4 114.4L316.7 117.4L318 120.3L319.2 123.2L320.5 125.9L321.8 128.5L323 131L324.3 133.3L325.5 135.5L326.8 137.5L328.1 139.4L329.3 141.1L330.6 142.5L331.8 143.8L333.1 144.9L334.4 145.8L335.6 146.4L336.9 146.8L338.2 147.1L339.4 147.1L340.7 146.8L341.9 146.4L343.2 145.8L344.5 144.9L345.7 143.8L347 142.5L348.2 141.1L349.5 139.4L350.8 137.5L352 135.5L353.3 133.3L354.6 131L355.8 128.5L357.1 125.9L358.3 123.2L359.6 120.3L360.9 117.4L362.1 114.4L363.4 111.4L364.7 108.3L365.9 105.1L367.2 102L368.4 98.9L369.7 95.7L371 92.6L372.2 89.6L373.5 86.6L374.7 83.7L376 80.8L377.3 78.1L378.5 75.5L379.8 73L381.1 70.7L382.3 68.5L383.6 66.5L384.8 64.6L386.1 62.9L387.4 61.5L388.6 60.2L389.9 59.1L391.1 58.2L392.4 57.6L393.7 57.2L394.9 56.9L396.2 56.9L397.5 57.2L398.7 57.6L400 58.2L401.2 59.1L402.5 60.2L403.8 61.5L405 62.9L406.3 64.6L407.5 66.5L408.8 68.5L410.1 70.7L411.3 73L412.6 75.5L413.9 78.1L415.1 80.8L416.4 83.7L417.6 86.6L418.9 89.6L420.2 92.6L421.4 95.7L422.7 98.9L423.9 102L425.2 105.1L426.5 108.3L427.7 111.4L429 114.4L430.3 117.4L431.5 120.3L432.8 123.2L434 125.9L435.3 128.5L436.6 131L437.8 133.3L439.1 135.5L440.4 137.5L441.6 139.4L442.9 141.1L444.1 142.5L445.4 143.8L446.7 144.9L447.9 145.8L449.2 146.4L450.4 146.8L451.7 147.1L453 147.1L454.2 146.8L455.5 146.4L456.8 145.8L458 144.9L459.3 143.8L460.5 142.5L461.8 141.1L463.1 139.4L464.3 137.5L465.6 135.5L466.8 133.3L468.1 131L469.4 128.5L470.6 125.9L471.9 123.2L473.2 120.3L474.4 117.4L475.7 114.4L476.9 111.4L478.2 108.3L479.5 105.1L480.7 102L482 98.9L483.2 95.7L484.5 92.6L485.8 89.6L487 86.6L488.3 83.7L489.6 80.8L490.8 78.1L492.1 75.5L493.3 73L494.6 70.7L495.9 68.5L497.1 66.5L498.4 64.6L499.6 62.9L500.9 61.5L502.2 60.2L503.4 59.1L504.7 58.2L506 57.6L507.2 57.2L508.5 56.9L509.7 56.9L511 57.2L512.3 57.6L513.5 58.2L514.8 59.1L516.1 60.2L517.3 61.5L518.6 62.9L519.8 64.6L521.1 66.5L522.4 68.5L523.6 70.7L524.9 73L526.1 75.5L527.4 78.1L528.7 80.8L529.9 83.7L531.2 86.6L532.5 89.6L533.7 92.6L535 95.7L536.2 98.9L537.5 102" stroke="#4a4ae0" stroke-width="1.2" stroke-dasharray="2.5 2.5" stroke-opacity="0.35"/>
<path d="M310.4 102L311.7 102.7L312.9 103.3L314.2 104L315.4 104.7L316.7 105.3L318 105.9L319.2 106.5L320.5 107.1L321.8 107.7L323 108.2L324.3 108.7L325.5 109.2L326.8 109.6L328.1 110L329.3 110.4L330.6 110.7L331.8 111L333.1 111.2L334.4 111.4L335.6 111.5L336.9 111.6L338.2 111.7L339.4 111.7L340.7 111.6L341.9 111.5L343.2 111.4L344.5 111.2L345.7 111L347 110.7L348.2 110.4L349.5 110L350.8 109.6L352 109.2L353.3 108.7L354.6 108.2L355.8 107.7L357.1 107.1L358.3 106.5L359.6 105.9L360.9 105.3L362.1 104.7L363.4 104L364.7 103.3L365.9 102.7L367.2 102L368.4 101.3L369.7 100.7L371 100L372.2 99.3L373.5 98.7L374.7 98.1L376 97.5L377.3 96.9L378.5 96.3L379.8 95.8L381.1 95.3L382.3 94.8L383.6 94.4L384.8 94L386.1 93.6L387.4 93.3L388.6 93L389.9 92.8L391.1 92.6L392.4 92.5L393.7 92.4L394.9 92.3L396.2 92.3L397.5 92.4L398.7 92.5L400 92.6L401.2 92.8L402.5 93L403.8 93.3L405 93.6L406.3 94L407.5 94.4L408.8 94.8L410.1 95.3L411.3 95.8L412.6 96.3L413.9 96.9L415.1 97.5L416.4 98.1L417.6 98.7L418.9 99.3L420.2 100L421.4 100.7L422.7 101.3L423.9 102L425.2 102.7L426.5 103.3L427.7 104L429 104.7L430.3 105.3L431.5 105.9L432.8 106.5L434 107.1L435.3 107.7L436.6 108.2L437.8 108.7L439.1 109.2L440.4 109.6L441.6 110L442.9 110.4L444.1 110.7L445.4 111L446.7 111.2L447.9 111.4L449.2 111.5L450.4 111.6L451.7 111.7L453 111.7L454.2 111.6L455.5 111.5L456.8 111.4L458 111.2L459.3 111L460.5 110.7L461.8 110.4L463.1 110L464.3 109.6L465.6 109.2L466.8 108.7L468.1 108.2L469.4 107.7L470.6 107.1L471.9 106.5L473.2 105.9L474.4 105.3L475.7 104.7L476.9 104L478.2 103.3L479.5 102.7L480.7 102L482 101.3L483.2 100.7L484.5 100L485.8 99.3L487 98.7L488.3 98.1L489.6 97.5L490.8 96.9L492.1 96.3L493.3 95.8L494.6 95.3L495.9 94.8L497.1 94.4L498.4 94L499.6 93.6L500.9 93.3L502.2 93L503.4 92.8L504.7 92.6L506 92.5L507.2 92.4L508.5 92.3L509.7 92.3L511 92.4L512.3 92.5L513.5 92.6L514.8 92.8L516.1 93L517.3 93.3L518.6 93.6L519.8 94L521.1 94.4L522.4 94.8L523.6 95.3L524.9 95.8L526.1 96.3L527.4 96.9L528.7 97.5L529.9 98.1L531.2 98.7L532.5 99.3L533.7 100L535 100.7L536.2 101.3L537.5 102" stroke="#f050e6" stroke-width="0.8"/>
<path d="M310.4 102L311.7 102.7L312.9 103.3L314.2 104L315.4 104.7L316.7 105.3L318 105.9L319.2 106.5L320.5 107.1L321.8 107.7L323 108.2L324.3 108.7L325.5 109.2L326.8 109.6L328.1 110L329.3 110.4L330.6 110.7L331.8 111L333.1 111.2L334.4 111.4L335.6 111.5L336.9 111.6L338.2 111.7L339.4 111.7L340.7 111.6L341.9 111.5L343.2 111.4L344.5 111.2L345.7 111L347 110.7L348.2 110.4L349.5 110L350.8 109.6L352 109.2L353.3 108.7L354.6 108.2L355.8 107.7L357.1 107.1L358.3 106.5L359.6 105.9L360.9 105.3L362.1 104.7L363.4 104L364.7 103.3L365.9 102.7L367.2 102L368.4 101.3L369.7 100.7L371 100L372.2 99.3L373.5 98.7L374.7 98.1L376 97.5L377.3 96.9L378.5 96.3L379.8 95.8L381.1 95.3L382.3 94.8L383.6 94.4L384.8 94L386.1 93.6L387.4 93.3L388.6 93L389.9 92.8L391.1 92.6L392.4 92.5L393.7 92.4L394.9 92.3L396.2 92.3L397.5 92.4L398.7 92.5L400 92.6L401.2 92.8L402.5 93L403.8 93.3L405 93.6L406.3 94L407.5 94.4L408.8 94.8L410.1 95.3L411.3 95.8L412.6 96.3L413.9 96.9L415.1 97.5L416.4 98.1L417.6 98.7L418.9 99.3L420.2 100L421.4 100.7L422.7 101.3L423.9 102L425.2 102.7L426.5 103.3L427.7 104L429 104.7L430.3 105.3L431.5 105.9L432.8 106.5L434 107.1L435.3 107.7L436.6 108.2L437.8 108.7L439.1 109.2L440.4 109.6L441.6 110L442.9 110.4L444.1 110.7L445.4 111L446.7 111.2L447.9 111.4L449.2 111.5L450.4 111.6L451.7 111.7L453 111.7L454.2 111.6L455.5 111.5L456.8 111.4L458 111.2L459.3 111L460.5 110.7L461.8 110.4L463.1 110L464.3 109.6L465.6 109.2L466.8 108.7L468.1 108.2L469.4 107.7L470.6 107.1L471.9 106.5L473.2 105.9L474.4 105.3L475.7 104.7L476.9 104L478.2 103.3L479.5 102.7L480.7 102L482 101.3L483.2 100.7L484.5 100L485.8 99.3L487 98.7L488.3 98.1L489.6 97.5L490.8 96.9L492.1 96.3L493.3 95.8L494.6 95.3L495.9 94.8L497.1 94.4L498.4 94L499.6 93.6L500.9 93.3L502.2 93L503.4 92.8L504.7 92.6L506 92.5L507.2 92.4L508.5 92.3L509.7 92.3L511 92.4L512.3 92.5L513.5 92.6L514.8 92.8L516.1 93L517.3 93.3L518.6 93.6L519.8 94L521.1 94.4L522.4 94.8L523.6 95.3L524.9 95.8L526.1 96.3L527.4 96.9L528.7 97.5L529.9 98.1L531.2 98.7L532.5 99.3L533.7 100L535 100.7L536.2 101.3L537.5 102" stroke="#f050e6" stroke-width="1.2" stroke-dasharray="2.5 2.5" stroke-opacity="0.35"/>
</g>
<rect x="310.4" y="10.5" width="227.1" height="183" fill="none" stroke="#444444" stroke-width="1"/>
<path d="M310.4 193.5v3.2M329.3 193.5v3.2M348.2 193.5v3.2M367.2 193.5v3.2M386.1 193.5v3.2M405 193.5v3.2M423.9 193.5v3.2M442.9 193.5v3.2M461.8 193.5v3.2M480.7 193.5v3.2M499.6 193.5v3.2M518.6 193.5v3.2M537.5 193.5v3.2" stroke="#444444" stroke-width="0.9" fill="none"/>
<path d="M319.9 193.5v1.8M338.8 193.5v1.8M357.7 193.5v1.8M376.6 193.5v1.8M395.6 193.5v1.8M414.5 193.5v1.8M433.4 193.5v1.8M452.3 193.5v1.8M471.3 193.5v1.8M490.2 193.5v1.8M509.1 193.5v1.8M528 193.5v1.8" stroke="#444444" stroke-width="0.9" fill="none"/>
<path d="M310.4 193.5h-3.2M310.4 180.4h-3.2M310.4 167.4h-3.2M310.4 154.3h-3.2M310.4 141.2h-3.2M310.4 128.1h-3.2M310.4 115.1h-3.2M310.4 102h-3.2M310.4 88.9h-3.2M310.4 75.9h-3.2M310.4 62.8h-3.2M310.4 49.7h-3.2M310.4 36.6h-3.2M310.4 23.6h-3.2M310.4 10.5h-3.2" stroke="#444444" stroke-width="0.9" fill="none"/>
<path d="M310.4 187h-1.8M310.4 173.9h-1.8M310.4 160.8h-1.8M310.4 147.7h-1.8M310.4 134.7h-1.8M310.4 121.6h-1.8M310.4 108.5h-1.8M310.4 95.5h-1.8M310.4 82.4h-1.8M310.4 69.3h-1.8M310.4 56.2h-1.8M310.4 43.2h-1.8M310.4 30.1h-1.8M310.4 17h-1.8" stroke="#444444" stroke-width="0.9" fill="none"/>
<text x="304.6" y="197.1" font-size="10" text-anchor="end">-1.4</text><text x="304.6" y="184" font-size="10" text-anchor="end">-1.2</text><text x="304.6" y="171" font-size="10" text-anchor="end">-1.0</text><text x="304.6" y="157.9" font-size="10" text-anchor="end">-0.8</text><text x="304.6" y="144.8" font-size="10" text-anchor="end">-0.6</text><text x="304.6" y="131.7" font-size="10" text-anchor="end">-0.4</text><text x="304.6" y="118.7" font-size="10" text-anchor="end">-0.2</text><text x="304.6" y="105.6" font-size="10" text-anchor="end">0.0</text><text x="304.6" y="92.5" font-size="10" text-anchor="end">0.2</text><text x="304.6" y="79.5" font-size="10" text-anchor="end">0.4</text><text x="304.6" y="66.4" font-size="10" text-anchor="end">0.6</text><text x="304.6" y="53.3" font-size="10" text-anchor="end">0.8</text><text x="304.6" y="40.2" font-size="10" text-anchor="end">1.0</text><text x="304.6" y="27.2" font-size="10" text-anchor="end">1.2</text><text x="304.6" y="14.1" font-size="10" text-anchor="end">1.4</text>
<text x="310.1" y="207.5" font-size="10" text-anchor="middle">0</text><text x="329" y="207.5" font-size="10" text-anchor="middle">30</text><text x="347.9" y="207.5" font-size="10" text-anchor="middle">60</text><text x="366.9" y="207.5" font-size="10" text-anchor="middle">90</text><text x="385.8" y="207.5" font-size="10" text-anchor="middle">120</text><text x="404.7" y="207.5" font-size="10" text-anchor="middle">150</text><text x="423.6" y="207.5" font-size="10" text-anchor="middle">180</text><text x="442.6" y="207.5" font-size="10" text-anchor="middle">210</text><text x="461.5" y="207.5" font-size="10" text-anchor="middle">240</text><text x="480.4" y="207.5" font-size="10" text-anchor="middle">270</text><text x="499.3" y="207.5" font-size="10" text-anchor="middle">300</text><text x="518.3" y="207.5" font-size="10" text-anchor="middle">330</text><text x="537.2" y="207.5" font-size="10" text-anchor="middle">360</text>
<text x="424.4" y="218" font-size="11.5" text-anchor="middle">θ (°)</text>
<text transform="translate(284,103.5) rotate(-90)" font-size="11.5" text-anchor="middle">u<tspan dy="2.5" font-size="7.5">θ</tspan><tspan dy="-2.5"> (mm·s</tspan><tspan dy="-4" font-size="7.5">-1</tspan><tspan dy="4">)</tspan></text>
<text x="314.3" y="23.4" font-size="11">(B)</text>
<rect x="415" y="13.8" width="73.5" height="33.9" fill="#fff" stroke="#555" stroke-width="0.7"/>
<path d="M416.5 18.3H431" stroke="#3a3a3a" stroke-width="1" fill="none"/><text x="433.6" y="20.9" font-size="7">A</text><path d="M440 18.3H456.5" stroke="#3a3a3a" stroke-width="1" stroke-dasharray="2.6 1.9" fill="none"/><text x="457.6" y="20.9" font-size="6.9">N 1Hz</text>
<path d="M416.5 26.6H431" stroke="#e8474c" stroke-width="1" fill="none"/><text x="433.6" y="29.2" font-size="7">A</text><path d="M440 26.6H456.5" stroke="#e8474c" stroke-width="1" stroke-dasharray="2.6 1.9" fill="none"/><text x="457.6" y="29.2" font-size="6.9">N 1000Hz</text>
<path d="M416.5 34.9H431" stroke="#4a4ae0" stroke-width="1" fill="none"/><text x="433.6" y="37.5" font-size="7">A</text><path d="M440 34.9H456.5" stroke="#4a4ae0" stroke-width="1" stroke-dasharray="2.6 1.9" fill="none"/><text x="457.6" y="37.5" font-size="6.9">N 1731Hz</text>
<path d="M416.5 43.2H431" stroke="#f050e6" stroke-width="1" fill="none"/><text x="433.6" y="45.8" font-size="7">A</text><path d="M440 43.2H456.5" stroke="#f050e6" stroke-width="1" stroke-dasharray="2.6 1.9" fill="none"/><text x="457.6" y="45.8" font-size="6.9">N 5000Hz</text>
<path d="M51.8 224.4V407M57.5 224.4V407M61.6 224.4V407M64.7 224.4V407M67.3 224.4V407M69.5 224.4V407M71.3 224.4V407M73 224.4V407M84.3 224.4V407M90 224.4V407M94 224.4V407M97.2 224.4V407M99.8 224.4V407M101.9 224.4V407M103.8 224.4V407M105.5 224.4V407M116.8 224.4V407M122.5 224.4V407M126.5 224.4V407M129.7 224.4V407M132.3 224.4V407M134.4 224.4V407M136.3 224.4V407M138 224.4V407M149.2 224.4V407M155 224.4V407M159 224.4V407M162.2 224.4V407M164.7 224.4V407M166.9 224.4V407M168.8 224.4V407M170.5 224.4V407M181.7 224.4V407M187.4 224.4V407M191.5 224.4V407M194.6 224.4V407M197.2 224.4V407M199.4 224.4V407M201.3 224.4V407M202.9 224.4V407M214.2 224.4V407M219.9 224.4V407M224 224.4V407M227.1 224.4V407M229.7 224.4V407M231.9 224.4V407M233.8 224.4V407M235.4 224.4V407M246.7 224.4V407M252.4 224.4V407M256.5 224.4V407M259.6 224.4V407M262.2 224.4V407M264.4 224.4V407M266.3 224.4V407M267.9 224.4V407" stroke="#f1f1f1" stroke-width="0.7" stroke-dasharray="none" fill="none"/>
<path d="M42 391.4H269.4M42 371.7H269.4M42 352.1H269.4M42 332.5H269.4M42 312.8H269.4M42 293.2H269.4M42 273.5H269.4M42 253.9H269.4M42 234.3H269.4" stroke="#f1f1f1" stroke-width="0.7" stroke-dasharray="none" fill="none"/>
<path d="M74.5 224.4V407M107 224.4V407M139.5 224.4V407M171.9 224.4V407M204.4 224.4V407M236.9 224.4V407" stroke="#c8c8c8" stroke-width="0.8" stroke-dasharray="1 1.2" fill="none"/>
<path d="M42 401.2H269.4M42 381.6H269.4M42 361.9H269.4M42 342.3H269.4M42 322.6H269.4M42 303H269.4M42 283.4H269.4M42 263.7H269.4M42 244.1H269.4" stroke="#c8c8c8" stroke-width="0.8" stroke-dasharray="1 1.2" fill="none"/>
<g clip-path="url(#cC)" fill="none">
<path d="M42 231.2L43.1 231.2L44.3 231.2L45.4 231.2L46.6 231.2L47.7 231.2L48.9 231.2L50 231.2L51.1 231.2L52.3 231.2L53.4 231.2L54.6 231.2L55.7 231.2L56.9 231.2L58 231.2L59.1 231.2L60.3 231.2L61.4 231.2L62.6 231.2L63.7 231.2L64.9 231.2L66 231.2L67.1 231.2L68.3 231.2L69.4 231.2L70.6 231.2L71.7 231.2L72.9 231.2L74 231.2L75.1 231.2L76.3 231.2L77.4 231.2L78.6 231.2L79.7 231.2L80.9 231.2L82 231.2L83.1 231.2L84.3 231.2L85.4 231.2L86.6 231.2L87.7 231.2L88.9 231.2L90 231.2L91.1 231.2L92.3 231.3L93.4 231.3L94.6 231.3L95.7 231.3L96.9 231.3L98 231.3L99.1 231.4L100.3 231.4L101.4 231.4L102.6 231.5L103.7 231.5L104.8 231.6L106 231.6L107.1 231.7L108.3 231.8L109.4 231.9L110.6 232L111.7 232.2L112.8 232.3L114 232.5L115.1 232.8L116.3 233.1L117.4 233.4L118.6 233.8L119.7 234.2L120.8 234.7L122 235.4L123.1 236.1L124.3 236.9L125.4 237.9L126.6 239.1L127.7 240.5L128.8 242L130 243.8L131.1 245.9L132.3 248.3L133.4 251.1L134.6 254.2L135.7 257.7L136.8 261.7L138 266.1L139.1 270.9L140.3 276.1L141.4 281.8L142.6 287.8L143.7 294.2L144.8 300.9L146 307.7L147.1 314.6L148.3 321.6L149.4 328.5L150.6 335.2L151.7 341.6" stroke="#e8474c" stroke-width="1.3" stroke-dasharray="2.8 1.7"/>
<path d="M42 228.6L43.1 228.6L44.3 228.6L45.4 228.6L46.6 228.6L47.7 228.6L48.9 228.6L50 228.6L51.1 228.6L52.3 228.6L53.4 228.6L54.6 228.6L55.7 228.6L56.9 228.6L58 228.6L59.1 228.6L60.3 228.6L61.4 228.6L62.6 228.6L63.7 228.6L64.9 228.6L66 228.6L67.1 228.6L68.3 228.6L69.4 228.6L70.6 228.6L71.7 228.6L72.9 228.6L74 228.6L75.1 228.6L76.3 228.7L77.4 228.7L78.6 228.7L79.7 228.7L80.9 228.7L82 228.7L83.1 228.7L84.3 228.7L85.4 228.7L86.6 228.7L87.7 228.7L88.9 228.7L90 228.7L91.1 228.7L92.3 228.7L93.4 228.7L94.6 228.7L95.7 228.8L96.9 228.8L98 228.8L99.1 228.8L100.3 228.9L101.4 228.9L102.6 229L103.7 229L104.8 229.1L106 229.1L107.1 229.2L108.3 229.3L109.4 229.5L110.6 229.6L111.7 229.8L112.8 230L114 230.2L115.1 230.5L116.3 230.8L117.4 231.1L118.6 231.6L119.7 232.1L120.8 232.7L122 233.4L123.1 234.2L124.3 235.1L125.4 236.2L126.6 237.4L127.7 238.9L128.8 240.6L130 242.5L131.1 244.7L132.3 247.2L133.4 250.1L134.6 253.3L135.7 256.9L136.8 261L138 265.4L139.1 270.3L140.3 275.7L141.4 281.4L142.6 287.5L143.7 294L144.8 300.7L146 307.5L147.1 314.5L148.3 321.5L149.4 328.4L150.6 335.1L151.7 341.6L152.8 347.7L154 353.5L155.1 358.9L156.3 363.8L157.4 368.4L158.6 372.5L159.7 376.1L160.8 379.4L162 382.3L163.1 384.9L164.3 387.1L165.4 389.1L166.6 390.8L167.7 392.3L168.8 393.5L170 394.6L171.1 395.6L172.3 396.4L173.4 397.1L174.6 397.7L175.7 398.2L176.8 398.7L178 399L179.1 399.4L180.3 399.6L181.4 399.9L182.6 400.1L183.7 400.2L184.8 400.4L186 400.5L187.1 400.6L188.3 400.7L189.4 400.8L190.6 400.8L191.7 400.9L192.8 400.9L194 401L195.1 401L196.3 401L197.4 401.1L198.6 401.1L199.7 401.1L200.8 401.1L202 401.1L203.1 401.1L204.3 401.1L205.4 401.2L206.6 401.2L207.7 401.2L208.8 401.2L210 401.2L211.1 401.2L212.3 401.2L213.4 401.2L214.5 401.2L215.7 401.2L216.8 401.2L218 401.2L219.1 401.2L220.3 401.2L221.4 401.2L222.5 401.2L223.7 401.2L224.8 401.2L226 401.2L227.1 401.2L228.3 401.2L229.4 401.2L230.5 401.2L231.7 401.2L232.8 401.2L234 401.2L235.1 401.2L236.3 401.2L237.4 401.2L238.5 401.2L239.7 401.2L240.8 401.2L242 401.2L243.1 401.2L244.3 401.2L245.4 401.2L246.5 401.2L247.7 401.2L248.8 401.2L250 401.2L251.1 401.2L252.3 401.2L253.4 401.2L254.5 401.2L255.7 401.2L256.8 401.2L258 401.2L259.1 401.2L260.3 401.2L261.4 401.2L262.5 401.2L263.7 401.2L264.8 401.2L266 401.2L267.1 401.2L268.3 401.2L269.4 401.2" stroke="#3a3a3a" stroke-width="0.95"/>
</g>
<rect x="42" y="224.4" width="227.4" height="182.6" fill="none" stroke="#444444" stroke-width="1"/>
<path d="M42 407v4M74.5 407v4M107 407v4M139.5 407v4M171.9 407v4M204.4 407v4M236.9 407v4M269.4 407v4" stroke="#444444" stroke-width="0.9" fill="none"/>
<path d="M51.8 407v2.2M57.5 407v2.2M61.6 407v2.2M64.7 407v2.2M67.3 407v2.2M69.5 407v2.2M71.3 407v2.2M73 407v2.2M84.3 407v2.2M90 407v2.2M94 407v2.2M97.2 407v2.2M99.8 407v2.2M101.9 407v2.2M103.8 407v2.2M105.5 407v2.2M116.8 407v2.2M122.5 407v2.2M126.5 407v2.2M129.7 407v2.2M132.3 407v2.2M134.4 407v2.2M136.3 407v2.2M138 407v2.2M149.2 407v2.2M155 407v2.2M159 407v2.2M162.2 407v2.2M164.7 407v2.2M166.9 407v2.2M168.8 407v2.2M170.5 407v2.2M181.7 407v2.2M187.4 407v2.2M191.5 407v2.2M194.6 407v2.2M197.2 407v2.2M199.4 407v2.2M201.3 407v2.2M202.9 407v2.2M214.2 407v2.2M219.9 407v2.2M224 407v2.2M227.1 407v2.2M229.7 407v2.2M231.9 407v2.2M233.8 407v2.2M235.4 407v2.2M246.7 407v2.2M252.4 407v2.2M256.5 407v2.2M259.6 407v2.2M262.2 407v2.2M264.4 407v2.2M266.3 407v2.2M267.9 407v2.2" stroke="#444444" stroke-width="0.7" fill="none"/>
<path d="M42 401.2h-4M42 381.6h-4M42 361.9h-4M42 342.3h-4M42 322.6h-4M42 303h-4M42 283.4h-4M42 263.7h-4M42 244.1h-4M42 224.4h-4" stroke="#444444" stroke-width="0.9" fill="none"/>
<path d="M42 405.1h-2.2M42 397.3h-2.2M42 393.3h-2.2M42 389.4h-2.2M42 385.5h-2.2M42 377.6h-2.2M42 373.7h-2.2M42 369.8h-2.2M42 365.8h-2.2M42 358h-2.2M42 354.1h-2.2M42 350.1h-2.2M42 346.2h-2.2M42 338.4h-2.2M42 334.4h-2.2M42 330.5h-2.2M42 326.6h-2.2M42 318.7h-2.2M42 314.8h-2.2M42 310.9h-2.2M42 306.9h-2.2M42 299.1h-2.2M42 295.1h-2.2M42 291.2h-2.2M42 287.3h-2.2M42 279.4h-2.2M42 275.5h-2.2M42 271.6h-2.2M42 267.6h-2.2M42 259.8h-2.2M42 255.9h-2.2M42 251.9h-2.2M42 248h-2.2M42 240.2h-2.2M42 236.2h-2.2M42 232.3h-2.2M42 228.4h-2.2" stroke="#444444" stroke-width="0.7" fill="none"/>
<text x="35.7" y="405" font-size="10.5" text-anchor="end">0.0</text><text x="35.7" y="385.4" font-size="10.5" text-anchor="end">0.1</text><text x="35.7" y="365.7" font-size="10.5" text-anchor="end">0.2</text><text x="35.7" y="346.1" font-size="10.5" text-anchor="end">0.3</text><text x="35.7" y="326.4" font-size="10.5" text-anchor="end">0.4</text><text x="35.7" y="306.8" font-size="10.5" text-anchor="end">0.5</text><text x="35.7" y="287.2" font-size="10.5" text-anchor="end">0.6</text><text x="35.7" y="267.5" font-size="10.5" text-anchor="end">0.7</text><text x="35.7" y="247.9" font-size="10.5" text-anchor="end">0.8</text><text x="35.7" y="228.2" font-size="10.5" text-anchor="end">0.9</text>
<text x="35.2" y="423.4" font-size="10">10<tspan dx="0.6" dy="-4.3" font-size="7">0</tspan></text><text x="67.7" y="423.4" font-size="10">10<tspan dx="0.6" dy="-4.3" font-size="7">1</tspan></text><text x="100.2" y="423.4" font-size="10">10<tspan dx="0.6" dy="-4.3" font-size="7">2</tspan></text><text x="132.7" y="423.4" font-size="10">10<tspan dx="0.6" dy="-4.3" font-size="7">3</tspan></text><text x="165.1" y="423.4" font-size="10">10<tspan dx="0.6" dy="-4.3" font-size="7">4</tspan></text><text x="197.6" y="423.4" font-size="10">10<tspan dx="0.6" dy="-4.3" font-size="7">5</tspan></text><text x="230.1" y="423.4" font-size="10">10<tspan dx="0.6" dy="-4.3" font-size="7">6</tspan></text><text x="262.6" y="423.4" font-size="10">10<tspan dx="0.6" dy="-4.3" font-size="7">7</tspan></text>
<text x="154.3" y="434.2" font-size="11" text-anchor="middle">Field frequency (Hz)</text>
<text transform="translate(14.6,359.6) rotate(-90)" font-size="10.2">abs(u<tspan dy="2.3" font-size="7">θ</tspan><tspan dy="-2.3">)</tspan><tspan dy="2.6" font-size="8.3">average</tspan></text>
 <text transform="translate(55.8,328.5) rotate(-90)" font-size="12" text-anchor="middle">(mm·s<tspan dy="-4" font-size="7">-1</tspan><tspan dy="4">)</tspan></text>
<text x="46.3" y="243.3" font-size="11">(C)</text>
<rect x="184.1" y="231.4" width="79" height="27" fill="#fff" stroke="#666" stroke-width="0.7"/>
<path d="M186.2 238.7H208.6" stroke="#3a3a3a" stroke-width="1" fill="none"/><text x="212.2" y="242" font-size="10.2">Analytical</text>
<path d="M186.2 250.9H208.6" stroke="#e8474c" stroke-width="1.1" stroke-dasharray="2.7 1.8" fill="none"/><text x="212.2" y="254.2" font-size="10.2">Numerical</text>
<rect x="273.4" y="408" width="40" height="33" fill="#fff"/>
<path d="M319.5 225.5V407.7M328.6 225.5V407.7M337.7 225.5V407.7M346.8 225.5V407.7M364.9 225.5V407.7M374 225.5V407.7M383.1 225.5V407.7M392.2 225.5V407.7M410.4 225.5V407.7M419.5 225.5V407.7M428.5 225.5V407.7M437.6 225.5V407.7M455.8 225.5V407.7M464.9 225.5V407.7M474 225.5V407.7M483.1 225.5V407.7M501.2 225.5V407.7M510.3 225.5V407.7M519.4 225.5V407.7M528.5 225.5V407.7" stroke="#f1f1f1" stroke-width="0.7" stroke-dasharray="none" fill="none"/>
<path d="M310.4 398.6H537.6M310.4 380.4H537.6M310.4 362.1H537.6M310.4 343.9H537.6M310.4 325.7H537.6M310.4 307.5H537.6M310.4 289.3H537.6M310.4 271.1H537.6M310.4 252.8H537.6M310.4 234.6H537.6" stroke="#f1f1f1" stroke-width="0.7" stroke-dasharray="none" fill="none"/>
<path d="M355.8 225.5V407.7M401.3 225.5V407.7M446.7 225.5V407.7M492.2 225.5V407.7" stroke="#c8c8c8" stroke-width="0.8" stroke-dasharray="1 1.2" fill="none"/>
<path d="M310.4 389.5H537.6M310.4 371.3H537.6M310.4 353H537.6M310.4 334.8H537.6M310.4 316.6H537.6M310.4 298.4H537.6M310.4 280.2H537.6M310.4 261.9H537.6M310.4 243.7H537.6" stroke="#c8c8c8" stroke-width="0.8" stroke-dasharray="1 1.2" fill="none"/>
<g clip-path="url(#cD)" fill="none">
<path d="M310.4 402.8L355.8 388L401.3 363.4L446.7 329.1L492.2 285.1L537.6 231.6" stroke="#e6405c" stroke-width="1.8" stroke-dasharray="5 3.4" transform="translate(0.25,0.35)"/>
<path d="M310.4 402.7L355.8 387.9L401.3 363.1L446.7 328.5L492.2 283.9L537.6 229.4" stroke="#2a2a2a" stroke-width="1.4"/>
</g>
<rect x="310.4" y="225.5" width="227.2" height="182.2" fill="none" stroke="#444444" stroke-width="1"/>
<path d="M310.4 407.7v4M355.8 407.7v4M401.3 407.7v4M446.7 407.7v4M492.2 407.7v4M537.6 407.7v4" stroke="#444444" stroke-width="0.9" fill="none"/>
<path d="M319.5 407.7v2.2M328.6 407.7v2.2M337.7 407.7v2.2M346.8 407.7v2.2M364.9 407.7v2.2M374 407.7v2.2M383.1 407.7v2.2M392.2 407.7v2.2M410.4 407.7v2.2M419.5 407.7v2.2M428.5 407.7v2.2M437.6 407.7v2.2M455.8 407.7v2.2M464.9 407.7v2.2M474 407.7v2.2M483.1 407.7v2.2M501.2 407.7v2.2M510.3 407.7v2.2M519.4 407.7v2.2M528.5 407.7v2.2" stroke="#444444" stroke-width="0.7" fill="none"/>
<path d="M310.4 407.7h-4M310.4 389.5h-4M310.4 371.3h-4M310.4 353h-4M310.4 334.8h-4M310.4 316.6h-4M310.4 298.4h-4M310.4 280.2h-4M310.4 261.9h-4M310.4 243.7h-4M310.4 225.5h-4" stroke="#444444" stroke-width="0.9" fill="none"/>
<path d="M310.4 398.6h-2.2M310.4 380.4h-2.2M310.4 362.1h-2.2M310.4 343.9h-2.2M310.4 325.7h-2.2M310.4 307.5h-2.2M310.4 289.3h-2.2M310.4 271.1h-2.2M310.4 252.8h-2.2M310.4 234.6h-2.2" stroke="#444444" stroke-width="0.7" fill="none"/>
<text x="304.9" y="411.5" font-size="11" text-anchor="end">0.0</text><text x="304.9" y="393.3" font-size="11" text-anchor="end">0.2</text><text x="304.9" y="375.1" font-size="11" text-anchor="end">0.4</text><text x="304.9" y="356.8" font-size="11" text-anchor="end">0.6</text><text x="304.9" y="338.6" font-size="11" text-anchor="end">0.8</text><text x="304.9" y="320.4" font-size="11" text-anchor="end">1.0</text><text x="304.9" y="302.2" font-size="11" text-anchor="end">1.2</text><text x="304.9" y="284" font-size="11" text-anchor="end">1.4</text><text x="304.9" y="265.7" font-size="11" text-anchor="end">1.6</text><text x="304.9" y="247.5" font-size="11" text-anchor="end">1.8</text><text x="304.9" y="229.3" font-size="11" text-anchor="end">2.0</text>
<text x="310.1" y="422.6" font-size="10.8" text-anchor="middle">0.5</text><text x="355.5" y="422.6" font-size="10.8" text-anchor="middle">1.0</text><text x="401" y="422.6" font-size="10.8" text-anchor="middle">1.5</text><text x="446.4" y="422.6" font-size="10.8" text-anchor="middle">2.0</text><text x="491.9" y="422.6" font-size="10.8" text-anchor="middle">2.5</text><text x="537.3" y="422.6" font-size="10.8" text-anchor="middle">3.0</text>
<text x="424" y="435.5" font-size="11" text-anchor="middle">V<tspan dy="2.3" font-size="7">D</tspan><tspan dy="-2.3"> (V)</tspan></text>
<text transform="translate(283.9,354.4) rotate(-90)" font-size="10.2">abs(u<tspan dy="2.3" font-size="7">θ</tspan><tspan dy="-2.3">)</tspan><tspan dy="2.6" font-size="8.3">average</tspan></text>
 <text transform="translate(323,327) rotate(-90)" font-size="12" text-anchor="middle">(mm·s<tspan dy="-4" font-size="7">-1</tspan><tspan dy="4">)</tspan></text>
<text x="274.8" y="243.2" font-size="11">(D)</text>
<rect x="318.5" y="235.2" width="79" height="27" fill="#fff" stroke="#666" stroke-width="0.7"/>
<path d="M320.4 242.7H343.6" stroke="#2a2a2a" stroke-width="1.3" fill="none"/><text x="346.3" y="246" font-size="10.2">Analytical</text>
<path d="M320.4 255H343.6" stroke="#e6405c" stroke-width="1.5" stroke-dasharray="4.2 2.7" fill="none"/><text x="346.3" y="258.5" font-size="10.2">Numerical</text>
</svg>
</body></html>
